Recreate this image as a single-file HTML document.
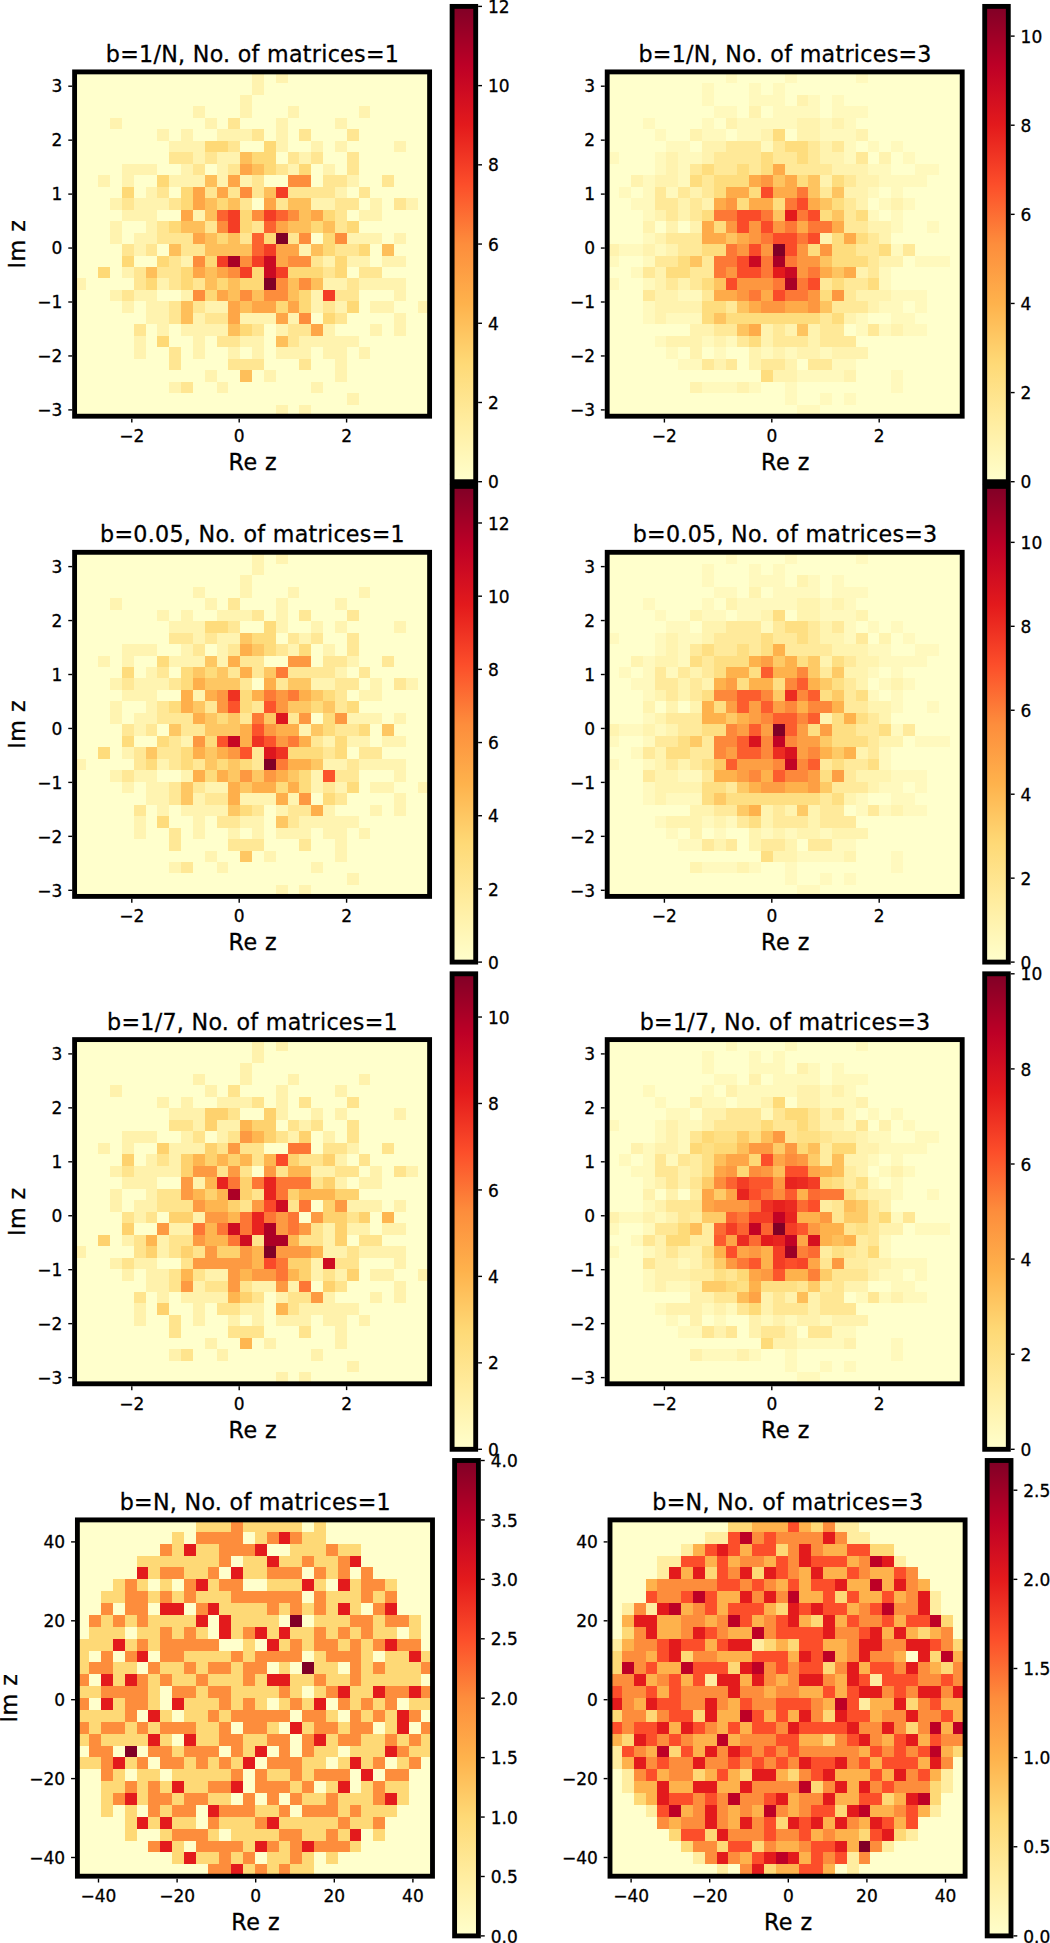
<!DOCTYPE html>
<html><head><meta charset="utf-8"><title>Eigenvalue density heatmaps</title>
<style>html,body{margin:0;padding:0;background:#fff}body{width:1050px;height:1943px;overflow:hidden}svg{display:block}text{stroke:#000;stroke-width:0.3px}</style></head>
<body>
<svg width="1050" height="1943" viewBox="0 0 1050 1943" font-family="'DejaVu Sans', 'Liberation Sans', sans-serif" fill="#000">
<defs><linearGradient id="g" x1="0" y1="1" x2="0" y2="0"><stop offset="0.0" stop-color="#ffffcc"/><stop offset="0.125" stop-color="#ffeda0"/><stop offset="0.25" stop-color="#fed976"/><stop offset="0.375" stop-color="#feb24c"/><stop offset="0.5" stop-color="#fd8d3c"/><stop offset="0.625" stop-color="#fc4e2a"/><stop offset="0.75" stop-color="#e31a1c"/><stop offset="0.875" stop-color="#bd0026"/><stop offset="1.0" stop-color="#800026"/></linearGradient></defs>
<g shape-rendering="crispEdges">
<rect x="74.6" y="71.9" width="355" height="344.3" fill="#ffffcc"/>
<rect x="252.1" y="71.9" width="11.83" height="11.48" fill="#fff3af"/>
<rect x="275.77" y="71.9" width="11.83" height="11.48" fill="#fff3af"/>
<rect x="252.1" y="83.38" width="11.83" height="11.48" fill="#fff3af"/>
<rect x="240.27" y="94.85" width="11.83" height="11.48" fill="#fff3af"/>
<rect x="192.93" y="106.33" width="11.83" height="11.48" fill="#fff3af"/>
<rect x="240.27" y="106.33" width="11.83" height="11.48" fill="#fff3af"/>
<rect x="287.6" y="106.33" width="11.83" height="11.48" fill="#fff3af"/>
<rect x="358.6" y="106.33" width="11.83" height="11.48" fill="#fff3af"/>
<rect x="110.1" y="117.81" width="11.83" height="11.48" fill="#fff3af"/>
<rect x="204.77" y="117.81" width="11.83" height="11.48" fill="#fff3af"/>
<rect x="228.43" y="117.81" width="11.83" height="11.48" fill="#ffe692"/>
<rect x="275.77" y="117.81" width="11.83" height="11.48" fill="#fff3af"/>
<rect x="334.93" y="117.81" width="11.83" height="11.48" fill="#fff3af"/>
<rect x="157.43" y="129.28" width="11.83" height="11.48" fill="#fff3af"/>
<rect x="181.1" y="129.28" width="11.83" height="11.48" fill="#fff3af"/>
<rect x="216.6" y="129.28" width="35.5" height="11.48" fill="#fff3af"/>
<rect x="252.1" y="129.28" width="11.83" height="11.48" fill="#ffe692"/>
<rect x="275.77" y="129.28" width="11.83" height="11.48" fill="#fff3af"/>
<rect x="299.43" y="129.28" width="11.83" height="11.48" fill="#ffe692"/>
<rect x="346.77" y="129.28" width="11.83" height="11.48" fill="#ffe692"/>
<rect x="169.27" y="140.76" width="35.5" height="11.48" fill="#fff3af"/>
<rect x="204.77" y="140.76" width="23.67" height="11.48" fill="#fed976"/>
<rect x="228.43" y="140.76" width="11.83" height="11.48" fill="#ffe692"/>
<rect x="263.93" y="140.76" width="11.83" height="11.48" fill="#fed976"/>
<rect x="275.77" y="140.76" width="11.83" height="11.48" fill="#fff3af"/>
<rect x="311.27" y="140.76" width="11.83" height="11.48" fill="#fff3af"/>
<rect x="334.93" y="140.76" width="11.83" height="11.48" fill="#fff3af"/>
<rect x="394.1" y="140.76" width="11.83" height="11.48" fill="#fff3af"/>
<rect x="169.27" y="152.24" width="23.67" height="11.48" fill="#ffe692"/>
<rect x="192.93" y="152.24" width="11.83" height="11.48" fill="#fff3af"/>
<rect x="204.77" y="152.24" width="11.83" height="11.48" fill="#ffe692"/>
<rect x="216.6" y="152.24" width="23.67" height="11.48" fill="#fff3af"/>
<rect x="240.27" y="152.24" width="11.83" height="11.48" fill="#febf5a"/>
<rect x="252.1" y="152.24" width="23.67" height="11.48" fill="#fed976"/>
<rect x="287.6" y="152.24" width="11.83" height="11.48" fill="#ffe692"/>
<rect x="299.43" y="152.24" width="11.83" height="11.48" fill="#fff3af"/>
<rect x="311.27" y="152.24" width="11.83" height="11.48" fill="#ffe692"/>
<rect x="346.77" y="152.24" width="11.83" height="11.48" fill="#ffe692"/>
<rect x="121.93" y="163.71" width="35.5" height="11.48" fill="#fff3af"/>
<rect x="181.1" y="163.71" width="11.83" height="11.48" fill="#fff3af"/>
<rect x="192.93" y="163.71" width="11.83" height="11.48" fill="#ffe692"/>
<rect x="216.6" y="163.71" width="11.83" height="11.48" fill="#fff3af"/>
<rect x="228.43" y="163.71" width="11.83" height="11.48" fill="#ffe692"/>
<rect x="240.27" y="163.71" width="11.83" height="11.48" fill="#fea647"/>
<rect x="252.1" y="163.71" width="11.83" height="11.48" fill="#febf5a"/>
<rect x="263.93" y="163.71" width="11.83" height="11.48" fill="#fed976"/>
<rect x="275.77" y="163.71" width="11.83" height="11.48" fill="#ffe692"/>
<rect x="287.6" y="163.71" width="11.83" height="11.48" fill="#fff3af"/>
<rect x="299.43" y="163.71" width="11.83" height="11.48" fill="#fed976"/>
<rect x="323.1" y="163.71" width="11.83" height="11.48" fill="#fff3af"/>
<rect x="346.77" y="163.71" width="11.83" height="11.48" fill="#ffe692"/>
<rect x="98.27" y="175.19" width="11.83" height="11.48" fill="#fff3af"/>
<rect x="121.93" y="175.19" width="11.83" height="11.48" fill="#fff3af"/>
<rect x="157.43" y="175.19" width="11.83" height="11.48" fill="#fed976"/>
<rect x="169.27" y="175.19" width="35.5" height="11.48" fill="#fff3af"/>
<rect x="204.77" y="175.19" width="11.83" height="11.48" fill="#febf5a"/>
<rect x="216.6" y="175.19" width="11.83" height="11.48" fill="#fff3af"/>
<rect x="228.43" y="175.19" width="11.83" height="11.48" fill="#fea647"/>
<rect x="240.27" y="175.19" width="11.83" height="11.48" fill="#fff3af"/>
<rect x="252.1" y="175.19" width="11.83" height="11.48" fill="#ffe692"/>
<rect x="287.6" y="175.19" width="23.67" height="11.48" fill="#fd8d3c"/>
<rect x="323.1" y="175.19" width="23.67" height="11.48" fill="#ffe692"/>
<rect x="346.77" y="175.19" width="11.83" height="11.48" fill="#fff3af"/>
<rect x="382.27" y="175.19" width="11.83" height="11.48" fill="#ffe692"/>
<rect x="121.93" y="186.67" width="11.83" height="11.48" fill="#fed976"/>
<rect x="145.6" y="186.67" width="11.83" height="11.48" fill="#fff3af"/>
<rect x="157.43" y="186.67" width="11.83" height="11.48" fill="#ffe692"/>
<rect x="181.1" y="186.67" width="11.83" height="11.48" fill="#fed976"/>
<rect x="192.93" y="186.67" width="11.83" height="11.48" fill="#fea647"/>
<rect x="204.77" y="186.67" width="11.83" height="11.48" fill="#ffe692"/>
<rect x="216.6" y="186.67" width="11.83" height="11.48" fill="#fea647"/>
<rect x="228.43" y="186.67" width="11.83" height="11.48" fill="#ffe692"/>
<rect x="240.27" y="186.67" width="11.83" height="11.48" fill="#fd8d3c"/>
<rect x="252.1" y="186.67" width="11.83" height="11.48" fill="#ffe692"/>
<rect x="263.93" y="186.67" width="11.83" height="11.48" fill="#febf5a"/>
<rect x="275.77" y="186.67" width="11.83" height="11.48" fill="#f43d25"/>
<rect x="287.6" y="186.67" width="47.33" height="11.48" fill="#ffe692"/>
<rect x="334.93" y="186.67" width="11.83" height="11.48" fill="#fff3af"/>
<rect x="358.6" y="186.67" width="11.83" height="11.48" fill="#ffe692"/>
<rect x="110.1" y="198.14" width="11.83" height="11.48" fill="#fff3af"/>
<rect x="121.93" y="198.14" width="11.83" height="11.48" fill="#ffe692"/>
<rect x="133.77" y="198.14" width="35.5" height="11.48" fill="#fff3af"/>
<rect x="169.27" y="198.14" width="11.83" height="11.48" fill="#ffe692"/>
<rect x="181.1" y="198.14" width="11.83" height="11.48" fill="#fed976"/>
<rect x="192.93" y="198.14" width="11.83" height="11.48" fill="#fea647"/>
<rect x="204.77" y="198.14" width="11.83" height="11.48" fill="#febf5a"/>
<rect x="216.6" y="198.14" width="11.83" height="11.48" fill="#fed976"/>
<rect x="228.43" y="198.14" width="11.83" height="11.48" fill="#febf5a"/>
<rect x="240.27" y="198.14" width="11.83" height="11.48" fill="#ffe692"/>
<rect x="263.93" y="198.14" width="11.83" height="11.48" fill="#fea647"/>
<rect x="275.77" y="198.14" width="11.83" height="11.48" fill="#ffe692"/>
<rect x="287.6" y="198.14" width="23.67" height="11.48" fill="#febf5a"/>
<rect x="311.27" y="198.14" width="23.67" height="11.48" fill="#fff3af"/>
<rect x="334.93" y="198.14" width="23.67" height="11.48" fill="#ffe692"/>
<rect x="370.43" y="198.14" width="11.83" height="11.48" fill="#fff3af"/>
<rect x="394.1" y="198.14" width="11.83" height="11.48" fill="#ffe692"/>
<rect x="405.93" y="198.14" width="11.83" height="11.48" fill="#fff3af"/>
<rect x="121.93" y="209.62" width="35.5" height="11.48" fill="#fff3af"/>
<rect x="181.1" y="209.62" width="11.83" height="11.48" fill="#fea647"/>
<rect x="192.93" y="209.62" width="11.83" height="11.48" fill="#fff3af"/>
<rect x="204.77" y="209.62" width="11.83" height="11.48" fill="#febf5a"/>
<rect x="216.6" y="209.62" width="11.83" height="11.48" fill="#fc6330"/>
<rect x="228.43" y="209.62" width="11.83" height="11.48" fill="#f43d25"/>
<rect x="240.27" y="209.62" width="11.83" height="11.48" fill="#fed976"/>
<rect x="252.1" y="209.62" width="11.83" height="11.48" fill="#fd8d3c"/>
<rect x="263.93" y="209.62" width="11.83" height="11.48" fill="#f43d25"/>
<rect x="275.77" y="209.62" width="11.83" height="11.48" fill="#fc6330"/>
<rect x="287.6" y="209.62" width="11.83" height="11.48" fill="#fd8d3c"/>
<rect x="299.43" y="209.62" width="11.83" height="11.48" fill="#febf5a"/>
<rect x="311.27" y="209.62" width="11.83" height="11.48" fill="#fea647"/>
<rect x="323.1" y="209.62" width="11.83" height="11.48" fill="#fed976"/>
<rect x="334.93" y="209.62" width="11.83" height="11.48" fill="#ffe692"/>
<rect x="358.6" y="209.62" width="23.67" height="11.48" fill="#fff3af"/>
<rect x="110.1" y="221.1" width="11.83" height="11.48" fill="#fff3af"/>
<rect x="145.6" y="221.1" width="11.83" height="11.48" fill="#fff3af"/>
<rect x="157.43" y="221.1" width="11.83" height="11.48" fill="#ffe692"/>
<rect x="169.27" y="221.1" width="11.83" height="11.48" fill="#fed976"/>
<rect x="181.1" y="221.1" width="23.67" height="11.48" fill="#febf5a"/>
<rect x="204.77" y="221.1" width="11.83" height="11.48" fill="#ffe692"/>
<rect x="216.6" y="221.1" width="11.83" height="11.48" fill="#fd8d3c"/>
<rect x="228.43" y="221.1" width="11.83" height="11.48" fill="#f43d25"/>
<rect x="240.27" y="221.1" width="11.83" height="11.48" fill="#fed976"/>
<rect x="252.1" y="221.1" width="11.83" height="11.48" fill="#ffe692"/>
<rect x="263.93" y="221.1" width="11.83" height="11.48" fill="#fc6330"/>
<rect x="275.77" y="221.1" width="11.83" height="11.48" fill="#fea647"/>
<rect x="287.6" y="221.1" width="23.67" height="11.48" fill="#febf5a"/>
<rect x="311.27" y="221.1" width="11.83" height="11.48" fill="#fed976"/>
<rect x="323.1" y="221.1" width="11.83" height="11.48" fill="#febf5a"/>
<rect x="334.93" y="221.1" width="11.83" height="11.48" fill="#ffe692"/>
<rect x="346.77" y="221.1" width="11.83" height="11.48" fill="#fed976"/>
<rect x="110.1" y="232.57" width="11.83" height="11.48" fill="#fff3af"/>
<rect x="133.77" y="232.57" width="23.67" height="11.48" fill="#fff3af"/>
<rect x="157.43" y="232.57" width="35.5" height="11.48" fill="#ffe692"/>
<rect x="192.93" y="232.57" width="11.83" height="11.48" fill="#fea647"/>
<rect x="204.77" y="232.57" width="11.83" height="11.48" fill="#febf5a"/>
<rect x="216.6" y="232.57" width="11.83" height="11.48" fill="#fed976"/>
<rect x="228.43" y="232.57" width="11.83" height="11.48" fill="#febf5a"/>
<rect x="240.27" y="232.57" width="11.83" height="11.48" fill="#ffe692"/>
<rect x="252.1" y="232.57" width="11.83" height="11.48" fill="#fc6330"/>
<rect x="263.93" y="232.57" width="11.83" height="11.48" fill="#fed976"/>
<rect x="275.77" y="232.57" width="11.83" height="11.48" fill="#800026"/>
<rect x="287.6" y="232.57" width="11.83" height="11.48" fill="#ffe692"/>
<rect x="299.43" y="232.57" width="11.83" height="11.48" fill="#fd8d3c"/>
<rect x="323.1" y="232.57" width="11.83" height="11.48" fill="#fed976"/>
<rect x="334.93" y="232.57" width="11.83" height="11.48" fill="#fd8d3c"/>
<rect x="346.77" y="232.57" width="35.5" height="11.48" fill="#fff3af"/>
<rect x="394.1" y="232.57" width="11.83" height="11.48" fill="#fff3af"/>
<rect x="121.93" y="244.05" width="11.83" height="11.48" fill="#ffe692"/>
<rect x="133.77" y="244.05" width="11.83" height="11.48" fill="#fff3af"/>
<rect x="145.6" y="244.05" width="11.83" height="11.48" fill="#ffe692"/>
<rect x="169.27" y="244.05" width="11.83" height="11.48" fill="#febf5a"/>
<rect x="181.1" y="244.05" width="23.67" height="11.48" fill="#ffe692"/>
<rect x="204.77" y="244.05" width="47.33" height="11.48" fill="#febf5a"/>
<rect x="252.1" y="244.05" width="11.83" height="11.48" fill="#fc6330"/>
<rect x="263.93" y="244.05" width="11.83" height="11.48" fill="#f43d25"/>
<rect x="275.77" y="244.05" width="23.67" height="11.48" fill="#fea647"/>
<rect x="299.43" y="244.05" width="11.83" height="11.48" fill="#fff3af"/>
<rect x="311.27" y="244.05" width="11.83" height="11.48" fill="#febf5a"/>
<rect x="323.1" y="244.05" width="11.83" height="11.48" fill="#fed976"/>
<rect x="334.93" y="244.05" width="23.67" height="11.48" fill="#ffe692"/>
<rect x="358.6" y="244.05" width="11.83" height="11.48" fill="#fed976"/>
<rect x="382.27" y="244.05" width="11.83" height="11.48" fill="#febf5a"/>
<rect x="121.93" y="255.53" width="11.83" height="11.48" fill="#fed976"/>
<rect x="157.43" y="255.53" width="11.83" height="11.48" fill="#fed976"/>
<rect x="169.27" y="255.53" width="11.83" height="11.48" fill="#ffe692"/>
<rect x="181.1" y="255.53" width="11.83" height="11.48" fill="#fff3af"/>
<rect x="192.93" y="255.53" width="11.83" height="11.48" fill="#fd8d3c"/>
<rect x="204.77" y="255.53" width="11.83" height="11.48" fill="#fed976"/>
<rect x="216.6" y="255.53" width="11.83" height="11.48" fill="#f43d25"/>
<rect x="228.43" y="255.53" width="11.83" height="11.48" fill="#a90026"/>
<rect x="240.27" y="255.53" width="11.83" height="11.48" fill="#fd8d3c"/>
<rect x="252.1" y="255.53" width="11.83" height="11.48" fill="#f43d25"/>
<rect x="263.93" y="255.53" width="11.83" height="11.48" fill="#ca0923"/>
<rect x="275.77" y="255.53" width="11.83" height="11.48" fill="#fea647"/>
<rect x="287.6" y="255.53" width="23.67" height="11.48" fill="#fd8d3c"/>
<rect x="311.27" y="255.53" width="11.83" height="11.48" fill="#ffe692"/>
<rect x="323.1" y="255.53" width="11.83" height="11.48" fill="#fff3af"/>
<rect x="334.93" y="255.53" width="11.83" height="11.48" fill="#fed976"/>
<rect x="346.77" y="255.53" width="23.67" height="11.48" fill="#fff3af"/>
<rect x="382.27" y="255.53" width="23.67" height="11.48" fill="#fff3af"/>
<rect x="98.27" y="267" width="11.83" height="11.48" fill="#fed976"/>
<rect x="121.93" y="267" width="11.83" height="11.48" fill="#fff3af"/>
<rect x="133.77" y="267" width="11.83" height="11.48" fill="#ffe692"/>
<rect x="145.6" y="267" width="11.83" height="11.48" fill="#febf5a"/>
<rect x="157.43" y="267" width="23.67" height="11.48" fill="#ffe692"/>
<rect x="181.1" y="267" width="11.83" height="11.48" fill="#fed976"/>
<rect x="192.93" y="267" width="11.83" height="11.48" fill="#fea647"/>
<rect x="204.77" y="267" width="11.83" height="11.48" fill="#febf5a"/>
<rect x="216.6" y="267" width="11.83" height="11.48" fill="#fea647"/>
<rect x="228.43" y="267" width="11.83" height="11.48" fill="#fd8d3c"/>
<rect x="240.27" y="267" width="11.83" height="11.48" fill="#f43d25"/>
<rect x="252.1" y="267" width="11.83" height="11.48" fill="#fed976"/>
<rect x="263.93" y="267" width="11.83" height="11.48" fill="#ca0923"/>
<rect x="275.77" y="267" width="11.83" height="11.48" fill="#f43d25"/>
<rect x="287.6" y="267" width="35.5" height="11.48" fill="#fed976"/>
<rect x="323.1" y="267" width="11.83" height="11.48" fill="#ffe692"/>
<rect x="334.93" y="267" width="11.83" height="11.48" fill="#fed976"/>
<rect x="358.6" y="267" width="23.67" height="11.48" fill="#ffe692"/>
<rect x="74.6" y="278.48" width="11.83" height="11.48" fill="#fff3af"/>
<rect x="133.77" y="278.48" width="11.83" height="11.48" fill="#ffe692"/>
<rect x="145.6" y="278.48" width="11.83" height="11.48" fill="#fed976"/>
<rect x="157.43" y="278.48" width="11.83" height="11.48" fill="#fff3af"/>
<rect x="169.27" y="278.48" width="11.83" height="11.48" fill="#ffe692"/>
<rect x="181.1" y="278.48" width="11.83" height="11.48" fill="#fed976"/>
<rect x="192.93" y="278.48" width="11.83" height="11.48" fill="#ffe692"/>
<rect x="204.77" y="278.48" width="11.83" height="11.48" fill="#febf5a"/>
<rect x="216.6" y="278.48" width="11.83" height="11.48" fill="#fed976"/>
<rect x="228.43" y="278.48" width="11.83" height="11.48" fill="#febf5a"/>
<rect x="240.27" y="278.48" width="23.67" height="11.48" fill="#fed976"/>
<rect x="263.93" y="278.48" width="11.83" height="11.48" fill="#800026"/>
<rect x="275.77" y="278.48" width="11.83" height="11.48" fill="#fd8d3c"/>
<rect x="287.6" y="278.48" width="11.83" height="11.48" fill="#febf5a"/>
<rect x="299.43" y="278.48" width="11.83" height="11.48" fill="#fd8d3c"/>
<rect x="311.27" y="278.48" width="11.83" height="11.48" fill="#febf5a"/>
<rect x="323.1" y="278.48" width="23.67" height="11.48" fill="#fff3af"/>
<rect x="346.77" y="278.48" width="11.83" height="11.48" fill="#ffe692"/>
<rect x="358.6" y="278.48" width="47.33" height="11.48" fill="#fff3af"/>
<rect x="110.1" y="289.96" width="11.83" height="11.48" fill="#fff3af"/>
<rect x="121.93" y="289.96" width="11.83" height="11.48" fill="#ffe692"/>
<rect x="133.77" y="289.96" width="23.67" height="11.48" fill="#fff3af"/>
<rect x="181.1" y="289.96" width="11.83" height="11.48" fill="#fff3af"/>
<rect x="192.93" y="289.96" width="11.83" height="11.48" fill="#fd8d3c"/>
<rect x="204.77" y="289.96" width="11.83" height="11.48" fill="#fed976"/>
<rect x="216.6" y="289.96" width="11.83" height="11.48" fill="#fea647"/>
<rect x="228.43" y="289.96" width="11.83" height="11.48" fill="#febf5a"/>
<rect x="240.27" y="289.96" width="11.83" height="11.48" fill="#fd8d3c"/>
<rect x="252.1" y="289.96" width="11.83" height="11.48" fill="#febf5a"/>
<rect x="263.93" y="289.96" width="23.67" height="11.48" fill="#fd8d3c"/>
<rect x="287.6" y="289.96" width="11.83" height="11.48" fill="#febf5a"/>
<rect x="299.43" y="289.96" width="11.83" height="11.48" fill="#fed976"/>
<rect x="311.27" y="289.96" width="11.83" height="11.48" fill="#fff3af"/>
<rect x="323.1" y="289.96" width="11.83" height="11.48" fill="#f43d25"/>
<rect x="334.93" y="289.96" width="23.67" height="11.48" fill="#ffe692"/>
<rect x="394.1" y="289.96" width="11.83" height="11.48" fill="#fff3af"/>
<rect x="121.93" y="301.43" width="11.83" height="11.48" fill="#fff3af"/>
<rect x="145.6" y="301.43" width="23.67" height="11.48" fill="#fff3af"/>
<rect x="169.27" y="301.43" width="11.83" height="11.48" fill="#ffe692"/>
<rect x="181.1" y="301.43" width="11.83" height="11.48" fill="#febf5a"/>
<rect x="192.93" y="301.43" width="11.83" height="11.48" fill="#ffe692"/>
<rect x="204.77" y="301.43" width="23.67" height="11.48" fill="#fff3af"/>
<rect x="228.43" y="301.43" width="11.83" height="11.48" fill="#fea647"/>
<rect x="240.27" y="301.43" width="11.83" height="11.48" fill="#febf5a"/>
<rect x="252.1" y="301.43" width="23.67" height="11.48" fill="#fea647"/>
<rect x="275.77" y="301.43" width="11.83" height="11.48" fill="#fed976"/>
<rect x="287.6" y="301.43" width="11.83" height="11.48" fill="#fea647"/>
<rect x="299.43" y="301.43" width="11.83" height="11.48" fill="#fed976"/>
<rect x="311.27" y="301.43" width="11.83" height="11.48" fill="#fff3af"/>
<rect x="323.1" y="301.43" width="11.83" height="11.48" fill="#ffe692"/>
<rect x="334.93" y="301.43" width="11.83" height="11.48" fill="#fff3af"/>
<rect x="346.77" y="301.43" width="11.83" height="11.48" fill="#fed976"/>
<rect x="370.43" y="301.43" width="23.67" height="11.48" fill="#fff3af"/>
<rect x="417.77" y="301.43" width="11.83" height="11.48" fill="#fff3af"/>
<rect x="145.6" y="312.91" width="23.67" height="11.48" fill="#fff3af"/>
<rect x="169.27" y="312.91" width="11.83" height="11.48" fill="#ffe692"/>
<rect x="181.1" y="312.91" width="11.83" height="11.48" fill="#febf5a"/>
<rect x="192.93" y="312.91" width="11.83" height="11.48" fill="#fff3af"/>
<rect x="204.77" y="312.91" width="23.67" height="11.48" fill="#ffe692"/>
<rect x="228.43" y="312.91" width="11.83" height="11.48" fill="#fea647"/>
<rect x="240.27" y="312.91" width="35.5" height="11.48" fill="#fff3af"/>
<rect x="275.77" y="312.91" width="11.83" height="11.48" fill="#fea647"/>
<rect x="287.6" y="312.91" width="11.83" height="11.48" fill="#fff3af"/>
<rect x="299.43" y="312.91" width="11.83" height="11.48" fill="#fd8d3c"/>
<rect x="323.1" y="312.91" width="11.83" height="11.48" fill="#fed976"/>
<rect x="334.93" y="312.91" width="11.83" height="11.48" fill="#ffe692"/>
<rect x="394.1" y="312.91" width="11.83" height="11.48" fill="#fff3af"/>
<rect x="133.77" y="324.39" width="11.83" height="11.48" fill="#ffe692"/>
<rect x="157.43" y="324.39" width="11.83" height="11.48" fill="#fff3af"/>
<rect x="181.1" y="324.39" width="47.33" height="11.48" fill="#fff3af"/>
<rect x="228.43" y="324.39" width="11.83" height="11.48" fill="#febf5a"/>
<rect x="240.27" y="324.39" width="11.83" height="11.48" fill="#fed976"/>
<rect x="252.1" y="324.39" width="11.83" height="11.48" fill="#ffe692"/>
<rect x="275.77" y="324.39" width="11.83" height="11.48" fill="#fff3af"/>
<rect x="287.6" y="324.39" width="23.67" height="11.48" fill="#ffe692"/>
<rect x="311.27" y="324.39" width="11.83" height="11.48" fill="#fea647"/>
<rect x="323.1" y="324.39" width="11.83" height="11.48" fill="#fff3af"/>
<rect x="370.43" y="324.39" width="11.83" height="11.48" fill="#fff3af"/>
<rect x="394.1" y="324.39" width="11.83" height="11.48" fill="#fff3af"/>
<rect x="133.77" y="335.86" width="11.83" height="11.48" fill="#fff3af"/>
<rect x="157.43" y="335.86" width="11.83" height="11.48" fill="#fed976"/>
<rect x="192.93" y="335.86" width="11.83" height="11.48" fill="#fff3af"/>
<rect x="216.6" y="335.86" width="23.67" height="11.48" fill="#ffe692"/>
<rect x="240.27" y="335.86" width="23.67" height="11.48" fill="#fff3af"/>
<rect x="275.77" y="335.86" width="11.83" height="11.48" fill="#febf5a"/>
<rect x="287.6" y="335.86" width="11.83" height="11.48" fill="#ffe692"/>
<rect x="299.43" y="335.86" width="59.17" height="11.48" fill="#fff3af"/>
<rect x="133.77" y="347.34" width="11.83" height="11.48" fill="#fff3af"/>
<rect x="169.27" y="347.34" width="11.83" height="11.48" fill="#ffe692"/>
<rect x="192.93" y="347.34" width="11.83" height="11.48" fill="#fff3af"/>
<rect x="228.43" y="347.34" width="11.83" height="11.48" fill="#fff3af"/>
<rect x="252.1" y="347.34" width="11.83" height="11.48" fill="#fff3af"/>
<rect x="275.77" y="347.34" width="35.5" height="11.48" fill="#fff3af"/>
<rect x="323.1" y="347.34" width="23.67" height="11.48" fill="#fff3af"/>
<rect x="358.6" y="347.34" width="11.83" height="11.48" fill="#fff3af"/>
<rect x="169.27" y="358.82" width="11.83" height="11.48" fill="#ffe692"/>
<rect x="228.43" y="358.82" width="35.5" height="11.48" fill="#ffe692"/>
<rect x="299.43" y="358.82" width="11.83" height="11.48" fill="#ffe692"/>
<rect x="334.93" y="358.82" width="11.83" height="11.48" fill="#fff3af"/>
<rect x="204.77" y="370.29" width="11.83" height="11.48" fill="#fff3af"/>
<rect x="240.27" y="370.29" width="11.83" height="11.48" fill="#febf5a"/>
<rect x="263.93" y="370.29" width="11.83" height="11.48" fill="#fff3af"/>
<rect x="334.93" y="370.29" width="11.83" height="11.48" fill="#fff3af"/>
<rect x="169.27" y="381.77" width="11.83" height="11.48" fill="#fff3af"/>
<rect x="181.1" y="381.77" width="11.83" height="11.48" fill="#ffe692"/>
<rect x="216.6" y="381.77" width="11.83" height="11.48" fill="#fff3af"/>
<rect x="311.27" y="381.77" width="11.83" height="11.48" fill="#fff3af"/>
<rect x="346.77" y="393.25" width="11.83" height="11.48" fill="#fff3af"/>
<rect x="275.77" y="404.72" width="11.83" height="11.48" fill="#fff3af"/>
<rect x="299.43" y="404.72" width="11.83" height="11.48" fill="#fff3af"/>
</g>
<rect x="74.6" y="71.9" width="355" height="344.3" fill="none" stroke="#000" stroke-width="4.86"/>
<line x1="131.8" x2="131.8" y1="418.63" y2="422.53" stroke="#000" stroke-width="1.4"/>
<text x="131.8" y="442" font-size="17.0" text-anchor="middle">−2</text>
<line x1="239.2" x2="239.2" y1="418.63" y2="422.53" stroke="#000" stroke-width="1.4"/>
<text x="239.2" y="442" font-size="17.0" text-anchor="middle">0</text>
<line x1="346.6" x2="346.6" y1="418.63" y2="422.53" stroke="#000" stroke-width="1.4"/>
<text x="346.6" y="442" font-size="17.0" text-anchor="middle">2</text>
<line x1="68.27" x2="72.17" y1="86.2" y2="86.2" stroke="#000" stroke-width="1.4"/>
<text x="62.4" y="92.4" font-size="17.0" text-anchor="end">3</text>
<line x1="68.27" x2="72.17" y1="140.15" y2="140.15" stroke="#000" stroke-width="1.4"/>
<text x="62.4" y="146.35" font-size="17.0" text-anchor="end">2</text>
<line x1="68.27" x2="72.17" y1="194.1" y2="194.1" stroke="#000" stroke-width="1.4"/>
<text x="62.4" y="200.3" font-size="17.0" text-anchor="end">1</text>
<line x1="68.27" x2="72.17" y1="248.05" y2="248.05" stroke="#000" stroke-width="1.4"/>
<text x="62.4" y="254.25" font-size="17.0" text-anchor="end">0</text>
<line x1="68.27" x2="72.17" y1="302" y2="302" stroke="#000" stroke-width="1.4"/>
<text x="62.4" y="308.2" font-size="17.0" text-anchor="end">−1</text>
<line x1="68.27" x2="72.17" y1="355.95" y2="355.95" stroke="#000" stroke-width="1.4"/>
<text x="62.4" y="362.15" font-size="17.0" text-anchor="end">−2</text>
<line x1="68.27" x2="72.17" y1="409.9" y2="409.9" stroke="#000" stroke-width="1.4"/>
<text x="62.4" y="416.1" font-size="17.0" text-anchor="end">−3</text>
<text x="252.5" y="61.9" font-size="22.2" letter-spacing="0.28" text-anchor="middle">b=1/N, No. of matrices=1</text>
<text x="252.9" y="469.9" font-size="22.2" letter-spacing="0.5" text-anchor="middle">Re z</text>
<text transform="translate(24.9,244.05) rotate(-90)" font-size="22.2" letter-spacing="0.5" text-anchor="middle">Im z</text>
<rect x="452.1" y="6.4" width="23.6" height="475.3" fill="url(#g)" stroke="#000" stroke-width="4.86"/>
<line x1="478.13" x2="482.03" y1="481.7" y2="481.7" stroke="#000" stroke-width="1.4"/>
<text x="488" y="488.3" font-size="17.0">0</text>
<line x1="478.13" x2="482.03" y1="402.48" y2="402.48" stroke="#000" stroke-width="1.4"/>
<text x="488" y="409.08" font-size="17.0">2</text>
<line x1="478.13" x2="482.03" y1="323.27" y2="323.27" stroke="#000" stroke-width="1.4"/>
<text x="488" y="329.87" font-size="17.0">4</text>
<line x1="478.13" x2="482.03" y1="244.05" y2="244.05" stroke="#000" stroke-width="1.4"/>
<text x="488" y="250.65" font-size="17.0">6</text>
<line x1="478.13" x2="482.03" y1="164.83" y2="164.83" stroke="#000" stroke-width="1.4"/>
<text x="488" y="171.43" font-size="17.0">8</text>
<line x1="478.13" x2="482.03" y1="85.62" y2="85.62" stroke="#000" stroke-width="1.4"/>
<text x="488" y="92.22" font-size="17.0">10</text>
<line x1="478.13" x2="482.03" y1="6.4" y2="6.4" stroke="#000" stroke-width="1.4"/>
<text x="488" y="13" font-size="17.0">12</text>
<g shape-rendering="crispEdges">
<rect x="607.2" y="71.9" width="355" height="344.3" fill="#ffffcc"/>
<rect x="725.53" y="71.9" width="11.83" height="11.48" fill="#fff9bd"/>
<rect x="784.7" y="71.9" width="11.83" height="11.48" fill="#fff9bd"/>
<rect x="855.7" y="71.9" width="11.83" height="11.48" fill="#fff9bd"/>
<rect x="701.87" y="83.38" width="11.83" height="11.48" fill="#fff9bd"/>
<rect x="749.2" y="83.38" width="11.83" height="11.48" fill="#fff9bd"/>
<rect x="772.87" y="83.38" width="11.83" height="11.48" fill="#fff9bd"/>
<rect x="701.87" y="94.85" width="11.83" height="11.48" fill="#fff9bd"/>
<rect x="749.2" y="94.85" width="35.5" height="11.48" fill="#fff9bd"/>
<rect x="796.53" y="94.85" width="11.83" height="11.48" fill="#fff3af"/>
<rect x="808.37" y="94.85" width="11.83" height="11.48" fill="#fff9bd"/>
<rect x="832.03" y="94.85" width="11.83" height="11.48" fill="#fff9bd"/>
<rect x="713.7" y="106.33" width="23.67" height="11.48" fill="#fff9bd"/>
<rect x="749.2" y="106.33" width="11.83" height="11.48" fill="#fff3af"/>
<rect x="772.87" y="106.33" width="47.33" height="11.48" fill="#fff9bd"/>
<rect x="832.03" y="106.33" width="35.5" height="11.48" fill="#fff9bd"/>
<rect x="642.7" y="117.81" width="11.83" height="11.48" fill="#fff9bd"/>
<rect x="701.87" y="117.81" width="11.83" height="11.48" fill="#fff9bd"/>
<rect x="725.53" y="117.81" width="11.83" height="11.48" fill="#fff3af"/>
<rect x="737.37" y="117.81" width="59.17" height="11.48" fill="#fff9bd"/>
<rect x="796.53" y="117.81" width="23.67" height="11.48" fill="#fff3af"/>
<rect x="820.2" y="117.81" width="11.83" height="11.48" fill="#fff9bd"/>
<rect x="832.03" y="117.81" width="11.83" height="11.48" fill="#fff3af"/>
<rect x="843.87" y="117.81" width="11.83" height="11.48" fill="#fff9bd"/>
<rect x="654.53" y="129.28" width="11.83" height="11.48" fill="#fff9bd"/>
<rect x="690.03" y="129.28" width="11.83" height="11.48" fill="#fff3af"/>
<rect x="701.87" y="129.28" width="23.67" height="11.48" fill="#fff9bd"/>
<rect x="737.37" y="129.28" width="23.67" height="11.48" fill="#fff9bd"/>
<rect x="761.03" y="129.28" width="11.83" height="11.48" fill="#fff3af"/>
<rect x="772.87" y="129.28" width="11.83" height="11.48" fill="#fedd7e"/>
<rect x="796.53" y="129.28" width="23.67" height="11.48" fill="#fff3af"/>
<rect x="820.2" y="129.28" width="35.5" height="11.48" fill="#fff9bd"/>
<rect x="855.7" y="129.28" width="11.83" height="11.48" fill="#fff3af"/>
<rect x="666.37" y="140.76" width="23.67" height="11.48" fill="#fff9bd"/>
<rect x="701.87" y="140.76" width="23.67" height="11.48" fill="#fff3af"/>
<rect x="725.53" y="140.76" width="35.5" height="11.48" fill="#ffe998"/>
<rect x="761.03" y="140.76" width="11.83" height="11.48" fill="#fff9bd"/>
<rect x="772.87" y="140.76" width="11.83" height="11.48" fill="#ffe998"/>
<rect x="784.7" y="140.76" width="23.67" height="11.48" fill="#fedd7e"/>
<rect x="808.37" y="140.76" width="11.83" height="11.48" fill="#ffe998"/>
<rect x="820.2" y="140.76" width="11.83" height="11.48" fill="#fff3af"/>
<rect x="832.03" y="140.76" width="11.83" height="11.48" fill="#ffe998"/>
<rect x="843.87" y="140.76" width="11.83" height="11.48" fill="#fff9bd"/>
<rect x="867.53" y="140.76" width="11.83" height="11.48" fill="#fff9bd"/>
<rect x="891.2" y="140.76" width="11.83" height="11.48" fill="#fff9bd"/>
<rect x="607.2" y="152.24" width="11.83" height="11.48" fill="#fff9bd"/>
<rect x="654.53" y="152.24" width="11.83" height="11.48" fill="#fff9bd"/>
<rect x="666.37" y="152.24" width="11.83" height="11.48" fill="#fff3af"/>
<rect x="678.2" y="152.24" width="23.67" height="11.48" fill="#fff9bd"/>
<rect x="701.87" y="152.24" width="11.83" height="11.48" fill="#fff3af"/>
<rect x="713.7" y="152.24" width="47.33" height="11.48" fill="#ffe998"/>
<rect x="761.03" y="152.24" width="11.83" height="11.48" fill="#fedd7e"/>
<rect x="772.87" y="152.24" width="23.67" height="11.48" fill="#ffe998"/>
<rect x="796.53" y="152.24" width="11.83" height="11.48" fill="#fedd7e"/>
<rect x="808.37" y="152.24" width="11.83" height="11.48" fill="#ffe998"/>
<rect x="820.2" y="152.24" width="23.67" height="11.48" fill="#fff3af"/>
<rect x="843.87" y="152.24" width="11.83" height="11.48" fill="#fff9bd"/>
<rect x="855.7" y="152.24" width="11.83" height="11.48" fill="#ffe998"/>
<rect x="879.37" y="152.24" width="11.83" height="11.48" fill="#fff3af"/>
<rect x="903.03" y="152.24" width="11.83" height="11.48" fill="#fff9bd"/>
<rect x="654.53" y="163.71" width="11.83" height="11.48" fill="#fff9bd"/>
<rect x="666.37" y="163.71" width="11.83" height="11.48" fill="#fff3af"/>
<rect x="678.2" y="163.71" width="11.83" height="11.48" fill="#fff9bd"/>
<rect x="690.03" y="163.71" width="11.83" height="11.48" fill="#ffe998"/>
<rect x="701.87" y="163.71" width="11.83" height="11.48" fill="#fedd7e"/>
<rect x="713.7" y="163.71" width="23.67" height="11.48" fill="#ffe998"/>
<rect x="737.37" y="163.71" width="11.83" height="11.48" fill="#fedd7e"/>
<rect x="749.2" y="163.71" width="11.83" height="11.48" fill="#ffe998"/>
<rect x="761.03" y="163.71" width="11.83" height="11.48" fill="#fedd7e"/>
<rect x="772.87" y="163.71" width="11.83" height="11.48" fill="#feab49"/>
<rect x="784.7" y="163.71" width="47.33" height="11.48" fill="#ffe998"/>
<rect x="832.03" y="163.71" width="35.5" height="11.48" fill="#fff3af"/>
<rect x="867.53" y="163.71" width="23.67" height="11.48" fill="#fff9bd"/>
<rect x="914.87" y="163.71" width="23.67" height="11.48" fill="#fff9bd"/>
<rect x="630.87" y="175.19" width="11.83" height="11.48" fill="#fff3af"/>
<rect x="642.7" y="175.19" width="11.83" height="11.48" fill="#fff9bd"/>
<rect x="654.53" y="175.19" width="23.67" height="11.48" fill="#fff3af"/>
<rect x="678.2" y="175.19" width="11.83" height="11.48" fill="#fff9bd"/>
<rect x="690.03" y="175.19" width="11.83" height="11.48" fill="#fedd7e"/>
<rect x="701.87" y="175.19" width="11.83" height="11.48" fill="#ffe998"/>
<rect x="713.7" y="175.19" width="35.5" height="11.48" fill="#fedd7e"/>
<rect x="749.2" y="175.19" width="11.83" height="11.48" fill="#feab49"/>
<rect x="761.03" y="175.19" width="11.83" height="11.48" fill="#fd9740"/>
<rect x="772.87" y="175.19" width="11.83" height="11.48" fill="#fec460"/>
<rect x="784.7" y="175.19" width="11.83" height="11.48" fill="#feab49"/>
<rect x="796.53" y="175.19" width="11.83" height="11.48" fill="#fedd7e"/>
<rect x="808.37" y="175.19" width="11.83" height="11.48" fill="#fec460"/>
<rect x="820.2" y="175.19" width="11.83" height="11.48" fill="#fff3af"/>
<rect x="832.03" y="175.19" width="11.83" height="11.48" fill="#fedd7e"/>
<rect x="843.87" y="175.19" width="11.83" height="11.48" fill="#ffe998"/>
<rect x="855.7" y="175.19" width="23.67" height="11.48" fill="#fff3af"/>
<rect x="879.37" y="175.19" width="47.33" height="11.48" fill="#fff9bd"/>
<rect x="619.03" y="186.67" width="11.83" height="11.48" fill="#fff9bd"/>
<rect x="642.7" y="186.67" width="11.83" height="11.48" fill="#fff9bd"/>
<rect x="654.53" y="186.67" width="11.83" height="11.48" fill="#ffe998"/>
<rect x="666.37" y="186.67" width="11.83" height="11.48" fill="#fff9bd"/>
<rect x="678.2" y="186.67" width="11.83" height="11.48" fill="#ffe998"/>
<rect x="690.03" y="186.67" width="11.83" height="11.48" fill="#fff3af"/>
<rect x="701.87" y="186.67" width="11.83" height="11.48" fill="#ffe998"/>
<rect x="713.7" y="186.67" width="11.83" height="11.48" fill="#fedd7e"/>
<rect x="725.53" y="186.67" width="23.67" height="11.48" fill="#feab49"/>
<rect x="749.2" y="186.67" width="11.83" height="11.48" fill="#fedd7e"/>
<rect x="761.03" y="186.67" width="11.83" height="11.48" fill="#fa4b29"/>
<rect x="772.87" y="186.67" width="23.67" height="11.48" fill="#feab49"/>
<rect x="796.53" y="186.67" width="11.83" height="11.48" fill="#fd7836"/>
<rect x="808.37" y="186.67" width="11.83" height="11.48" fill="#fec460"/>
<rect x="820.2" y="186.67" width="11.83" height="11.48" fill="#ffe998"/>
<rect x="832.03" y="186.67" width="11.83" height="11.48" fill="#fec460"/>
<rect x="843.87" y="186.67" width="23.67" height="11.48" fill="#fff3af"/>
<rect x="867.53" y="186.67" width="11.83" height="11.48" fill="#fff9bd"/>
<rect x="891.2" y="186.67" width="11.83" height="11.48" fill="#fff9bd"/>
<rect x="630.87" y="198.14" width="23.67" height="11.48" fill="#fff9bd"/>
<rect x="654.53" y="198.14" width="23.67" height="11.48" fill="#ffe998"/>
<rect x="678.2" y="198.14" width="11.83" height="11.48" fill="#fff3af"/>
<rect x="690.03" y="198.14" width="11.83" height="11.48" fill="#ffe998"/>
<rect x="701.87" y="198.14" width="11.83" height="11.48" fill="#fff3af"/>
<rect x="713.7" y="198.14" width="11.83" height="11.48" fill="#feab49"/>
<rect x="725.53" y="198.14" width="11.83" height="11.48" fill="#fd9740"/>
<rect x="737.37" y="198.14" width="11.83" height="11.48" fill="#fedd7e"/>
<rect x="749.2" y="198.14" width="23.67" height="11.48" fill="#feab49"/>
<rect x="772.87" y="198.14" width="11.83" height="11.48" fill="#fedd7e"/>
<rect x="784.7" y="198.14" width="11.83" height="11.48" fill="#fd7836"/>
<rect x="796.53" y="198.14" width="11.83" height="11.48" fill="#fa4b29"/>
<rect x="808.37" y="198.14" width="11.83" height="11.48" fill="#feab49"/>
<rect x="820.2" y="198.14" width="11.83" height="11.48" fill="#fec460"/>
<rect x="832.03" y="198.14" width="11.83" height="11.48" fill="#fedd7e"/>
<rect x="843.87" y="198.14" width="11.83" height="11.48" fill="#ffe998"/>
<rect x="855.7" y="198.14" width="11.83" height="11.48" fill="#fff3af"/>
<rect x="879.37" y="198.14" width="11.83" height="11.48" fill="#fff9bd"/>
<rect x="891.2" y="198.14" width="11.83" height="11.48" fill="#fff3af"/>
<rect x="903.03" y="198.14" width="11.83" height="11.48" fill="#fff9bd"/>
<rect x="642.7" y="209.62" width="11.83" height="11.48" fill="#fff9bd"/>
<rect x="654.53" y="209.62" width="11.83" height="11.48" fill="#fff3af"/>
<rect x="666.37" y="209.62" width="11.83" height="11.48" fill="#ffe998"/>
<rect x="678.2" y="209.62" width="11.83" height="11.48" fill="#fff3af"/>
<rect x="690.03" y="209.62" width="11.83" height="11.48" fill="#ffe998"/>
<rect x="701.87" y="209.62" width="11.83" height="11.48" fill="#fedd7e"/>
<rect x="713.7" y="209.62" width="23.67" height="11.48" fill="#fd7836"/>
<rect x="737.37" y="209.62" width="23.67" height="11.48" fill="#fa4b29"/>
<rect x="761.03" y="209.62" width="11.83" height="11.48" fill="#fd7836"/>
<rect x="772.87" y="209.62" width="11.83" height="11.48" fill="#fec460"/>
<rect x="784.7" y="209.62" width="11.83" height="11.48" fill="#e31a1c"/>
<rect x="796.53" y="209.62" width="11.83" height="11.48" fill="#fd7836"/>
<rect x="808.37" y="209.62" width="11.83" height="11.48" fill="#fa4b29"/>
<rect x="820.2" y="209.62" width="11.83" height="11.48" fill="#fedd7e"/>
<rect x="832.03" y="209.62" width="11.83" height="11.48" fill="#fec460"/>
<rect x="843.87" y="209.62" width="11.83" height="11.48" fill="#ffe998"/>
<rect x="855.7" y="209.62" width="11.83" height="11.48" fill="#fedd7e"/>
<rect x="867.53" y="209.62" width="11.83" height="11.48" fill="#fff9bd"/>
<rect x="891.2" y="209.62" width="11.83" height="11.48" fill="#fff9bd"/>
<rect x="642.7" y="221.1" width="11.83" height="11.48" fill="#fff3af"/>
<rect x="666.37" y="221.1" width="11.83" height="11.48" fill="#fff3af"/>
<rect x="690.03" y="221.1" width="11.83" height="11.48" fill="#fff3af"/>
<rect x="701.87" y="221.1" width="11.83" height="11.48" fill="#feab49"/>
<rect x="713.7" y="221.1" width="11.83" height="11.48" fill="#fedd7e"/>
<rect x="725.53" y="221.1" width="11.83" height="11.48" fill="#fd9740"/>
<rect x="737.37" y="221.1" width="11.83" height="11.48" fill="#fa4b29"/>
<rect x="749.2" y="221.1" width="11.83" height="11.48" fill="#fd9740"/>
<rect x="761.03" y="221.1" width="11.83" height="11.48" fill="#fa4b29"/>
<rect x="772.87" y="221.1" width="11.83" height="11.48" fill="#fd9740"/>
<rect x="784.7" y="221.1" width="11.83" height="11.48" fill="#fd7836"/>
<rect x="796.53" y="221.1" width="11.83" height="11.48" fill="#feab49"/>
<rect x="808.37" y="221.1" width="23.67" height="11.48" fill="#fd7836"/>
<rect x="832.03" y="221.1" width="11.83" height="11.48" fill="#feab49"/>
<rect x="843.87" y="221.1" width="23.67" height="11.48" fill="#ffe998"/>
<rect x="867.53" y="221.1" width="23.67" height="11.48" fill="#fff3af"/>
<rect x="891.2" y="221.1" width="11.83" height="11.48" fill="#fff9bd"/>
<rect x="926.7" y="221.1" width="11.83" height="11.48" fill="#fff9bd"/>
<rect x="642.7" y="232.57" width="11.83" height="11.48" fill="#fff9bd"/>
<rect x="654.53" y="232.57" width="11.83" height="11.48" fill="#fff3af"/>
<rect x="666.37" y="232.57" width="35.5" height="11.48" fill="#ffe998"/>
<rect x="701.87" y="232.57" width="23.67" height="11.48" fill="#feab49"/>
<rect x="725.53" y="232.57" width="11.83" height="11.48" fill="#fec460"/>
<rect x="737.37" y="232.57" width="11.83" height="11.48" fill="#feab49"/>
<rect x="749.2" y="232.57" width="11.83" height="11.48" fill="#fd9740"/>
<rect x="761.03" y="232.57" width="11.83" height="11.48" fill="#fd7836"/>
<rect x="772.87" y="232.57" width="23.67" height="11.48" fill="#fa4b29"/>
<rect x="796.53" y="232.57" width="11.83" height="11.48" fill="#fd7836"/>
<rect x="808.37" y="232.57" width="11.83" height="11.48" fill="#fa4b29"/>
<rect x="820.2" y="232.57" width="11.83" height="11.48" fill="#fff3af"/>
<rect x="832.03" y="232.57" width="11.83" height="11.48" fill="#fedd7e"/>
<rect x="843.87" y="232.57" width="11.83" height="11.48" fill="#feab49"/>
<rect x="855.7" y="232.57" width="11.83" height="11.48" fill="#fedd7e"/>
<rect x="867.53" y="232.57" width="11.83" height="11.48" fill="#ffe998"/>
<rect x="879.37" y="232.57" width="11.83" height="11.48" fill="#fff3af"/>
<rect x="607.2" y="244.05" width="11.83" height="11.48" fill="#fff3af"/>
<rect x="619.03" y="244.05" width="23.67" height="11.48" fill="#fff9bd"/>
<rect x="642.7" y="244.05" width="11.83" height="11.48" fill="#fff3af"/>
<rect x="654.53" y="244.05" width="11.83" height="11.48" fill="#fff9bd"/>
<rect x="666.37" y="244.05" width="11.83" height="11.48" fill="#fff3af"/>
<rect x="678.2" y="244.05" width="23.67" height="11.48" fill="#ffe998"/>
<rect x="701.87" y="244.05" width="23.67" height="11.48" fill="#fedd7e"/>
<rect x="725.53" y="244.05" width="11.83" height="11.48" fill="#fd7836"/>
<rect x="737.37" y="244.05" width="11.83" height="11.48" fill="#fd9740"/>
<rect x="749.2" y="244.05" width="11.83" height="11.48" fill="#fa4b29"/>
<rect x="761.03" y="244.05" width="11.83" height="11.48" fill="#fd9740"/>
<rect x="772.87" y="244.05" width="11.83" height="11.48" fill="#800026"/>
<rect x="784.7" y="244.05" width="11.83" height="11.48" fill="#fa4b29"/>
<rect x="796.53" y="244.05" width="11.83" height="11.48" fill="#fd9740"/>
<rect x="808.37" y="244.05" width="11.83" height="11.48" fill="#fedd7e"/>
<rect x="820.2" y="244.05" width="11.83" height="11.48" fill="#fd9740"/>
<rect x="832.03" y="244.05" width="23.67" height="11.48" fill="#fedd7e"/>
<rect x="855.7" y="244.05" width="23.67" height="11.48" fill="#ffe998"/>
<rect x="879.37" y="244.05" width="11.83" height="11.48" fill="#fedd7e"/>
<rect x="891.2" y="244.05" width="11.83" height="11.48" fill="#fff9bd"/>
<rect x="903.03" y="244.05" width="11.83" height="11.48" fill="#ffe998"/>
<rect x="607.2" y="255.53" width="11.83" height="11.48" fill="#fff9bd"/>
<rect x="642.7" y="255.53" width="11.83" height="11.48" fill="#fff9bd"/>
<rect x="654.53" y="255.53" width="23.67" height="11.48" fill="#ffe998"/>
<rect x="678.2" y="255.53" width="11.83" height="11.48" fill="#fedd7e"/>
<rect x="690.03" y="255.53" width="11.83" height="11.48" fill="#fec460"/>
<rect x="701.87" y="255.53" width="11.83" height="11.48" fill="#ffe998"/>
<rect x="713.7" y="255.53" width="23.67" height="11.48" fill="#fd7836"/>
<rect x="737.37" y="255.53" width="11.83" height="11.48" fill="#fa4b29"/>
<rect x="749.2" y="255.53" width="11.83" height="11.48" fill="#ca0923"/>
<rect x="761.03" y="255.53" width="11.83" height="11.48" fill="#fd7836"/>
<rect x="772.87" y="255.53" width="11.83" height="11.48" fill="#a90026"/>
<rect x="784.7" y="255.53" width="11.83" height="11.48" fill="#fd7836"/>
<rect x="796.53" y="255.53" width="23.67" height="11.48" fill="#fd9740"/>
<rect x="820.2" y="255.53" width="11.83" height="11.48" fill="#fec460"/>
<rect x="832.03" y="255.53" width="35.5" height="11.48" fill="#fedd7e"/>
<rect x="867.53" y="255.53" width="11.83" height="11.48" fill="#ffe998"/>
<rect x="879.37" y="255.53" width="23.67" height="11.48" fill="#fff3af"/>
<rect x="914.87" y="255.53" width="35.5" height="11.48" fill="#fff9bd"/>
<rect x="630.87" y="267" width="11.83" height="11.48" fill="#fff9bd"/>
<rect x="642.7" y="267" width="11.83" height="11.48" fill="#ffe998"/>
<rect x="654.53" y="267" width="11.83" height="11.48" fill="#fff3af"/>
<rect x="666.37" y="267" width="23.67" height="11.48" fill="#fedd7e"/>
<rect x="690.03" y="267" width="23.67" height="11.48" fill="#ffe998"/>
<rect x="713.7" y="267" width="11.83" height="11.48" fill="#fd7836"/>
<rect x="725.53" y="267" width="11.83" height="11.48" fill="#fd9740"/>
<rect x="737.37" y="267" width="23.67" height="11.48" fill="#fa4b29"/>
<rect x="761.03" y="267" width="11.83" height="11.48" fill="#fd7836"/>
<rect x="772.87" y="267" width="11.83" height="11.48" fill="#e31a1c"/>
<rect x="784.7" y="267" width="11.83" height="11.48" fill="#ca0923"/>
<rect x="796.53" y="267" width="11.83" height="11.48" fill="#fd9740"/>
<rect x="808.37" y="267" width="11.83" height="11.48" fill="#fd7836"/>
<rect x="820.2" y="267" width="11.83" height="11.48" fill="#feab49"/>
<rect x="832.03" y="267" width="11.83" height="11.48" fill="#fec460"/>
<rect x="843.87" y="267" width="11.83" height="11.48" fill="#feab49"/>
<rect x="855.7" y="267" width="11.83" height="11.48" fill="#fff3af"/>
<rect x="867.53" y="267" width="11.83" height="11.48" fill="#ffe998"/>
<rect x="879.37" y="267" width="11.83" height="11.48" fill="#fff9bd"/>
<rect x="607.2" y="278.48" width="11.83" height="11.48" fill="#fff9bd"/>
<rect x="642.7" y="278.48" width="11.83" height="11.48" fill="#fff9bd"/>
<rect x="654.53" y="278.48" width="11.83" height="11.48" fill="#fff3af"/>
<rect x="666.37" y="278.48" width="11.83" height="11.48" fill="#ffe998"/>
<rect x="678.2" y="278.48" width="11.83" height="11.48" fill="#fff3af"/>
<rect x="690.03" y="278.48" width="11.83" height="11.48" fill="#ffe998"/>
<rect x="701.87" y="278.48" width="11.83" height="11.48" fill="#fedd7e"/>
<rect x="713.7" y="278.48" width="11.83" height="11.48" fill="#fec460"/>
<rect x="725.53" y="278.48" width="11.83" height="11.48" fill="#fa4b29"/>
<rect x="737.37" y="278.48" width="35.5" height="11.48" fill="#fd9740"/>
<rect x="772.87" y="278.48" width="11.83" height="11.48" fill="#fd7836"/>
<rect x="784.7" y="278.48" width="11.83" height="11.48" fill="#a90026"/>
<rect x="796.53" y="278.48" width="11.83" height="11.48" fill="#fd7836"/>
<rect x="808.37" y="278.48" width="11.83" height="11.48" fill="#fa4b29"/>
<rect x="820.2" y="278.48" width="11.83" height="11.48" fill="#ffe998"/>
<rect x="832.03" y="278.48" width="11.83" height="11.48" fill="#fedd7e"/>
<rect x="843.87" y="278.48" width="23.67" height="11.48" fill="#ffe998"/>
<rect x="867.53" y="278.48" width="11.83" height="11.48" fill="#fedd7e"/>
<rect x="879.37" y="278.48" width="11.83" height="11.48" fill="#fff9bd"/>
<rect x="642.7" y="289.96" width="11.83" height="11.48" fill="#ffe998"/>
<rect x="654.53" y="289.96" width="23.67" height="11.48" fill="#fff3af"/>
<rect x="678.2" y="289.96" width="23.67" height="11.48" fill="#fff9bd"/>
<rect x="701.87" y="289.96" width="11.83" height="11.48" fill="#ffe998"/>
<rect x="713.7" y="289.96" width="23.67" height="11.48" fill="#feab49"/>
<rect x="737.37" y="289.96" width="11.83" height="11.48" fill="#fd9740"/>
<rect x="749.2" y="289.96" width="11.83" height="11.48" fill="#fd7836"/>
<rect x="761.03" y="289.96" width="11.83" height="11.48" fill="#feab49"/>
<rect x="772.87" y="289.96" width="11.83" height="11.48" fill="#fa4b29"/>
<rect x="784.7" y="289.96" width="23.67" height="11.48" fill="#fd7836"/>
<rect x="808.37" y="289.96" width="11.83" height="11.48" fill="#fd9740"/>
<rect x="820.2" y="289.96" width="11.83" height="11.48" fill="#fedd7e"/>
<rect x="832.03" y="289.96" width="11.83" height="11.48" fill="#fd9740"/>
<rect x="843.87" y="289.96" width="11.83" height="11.48" fill="#ffe998"/>
<rect x="855.7" y="289.96" width="35.5" height="11.48" fill="#fff3af"/>
<rect x="891.2" y="289.96" width="35.5" height="11.48" fill="#fff9bd"/>
<rect x="642.7" y="301.43" width="11.83" height="11.48" fill="#fff9bd"/>
<rect x="654.53" y="301.43" width="47.33" height="11.48" fill="#fff3af"/>
<rect x="701.87" y="301.43" width="23.67" height="11.48" fill="#fedd7e"/>
<rect x="725.53" y="301.43" width="11.83" height="11.48" fill="#ffe998"/>
<rect x="737.37" y="301.43" width="11.83" height="11.48" fill="#fec460"/>
<rect x="749.2" y="301.43" width="11.83" height="11.48" fill="#feab49"/>
<rect x="761.03" y="301.43" width="23.67" height="11.48" fill="#fd9740"/>
<rect x="784.7" y="301.43" width="23.67" height="11.48" fill="#feab49"/>
<rect x="808.37" y="301.43" width="11.83" height="11.48" fill="#fd9740"/>
<rect x="820.2" y="301.43" width="11.83" height="11.48" fill="#fec460"/>
<rect x="832.03" y="301.43" width="35.5" height="11.48" fill="#ffe998"/>
<rect x="867.53" y="301.43" width="11.83" height="11.48" fill="#fff3af"/>
<rect x="879.37" y="301.43" width="23.67" height="11.48" fill="#fff9bd"/>
<rect x="914.87" y="301.43" width="11.83" height="11.48" fill="#fff9bd"/>
<rect x="642.7" y="312.91" width="11.83" height="11.48" fill="#fff9bd"/>
<rect x="654.53" y="312.91" width="11.83" height="11.48" fill="#fff3af"/>
<rect x="666.37" y="312.91" width="35.5" height="11.48" fill="#fff9bd"/>
<rect x="701.87" y="312.91" width="11.83" height="11.48" fill="#fedd7e"/>
<rect x="713.7" y="312.91" width="11.83" height="11.48" fill="#fec460"/>
<rect x="725.53" y="312.91" width="94.67" height="11.48" fill="#fedd7e"/>
<rect x="820.2" y="312.91" width="11.83" height="11.48" fill="#ffe998"/>
<rect x="832.03" y="312.91" width="11.83" height="11.48" fill="#fedd7e"/>
<rect x="843.87" y="312.91" width="11.83" height="11.48" fill="#fff3af"/>
<rect x="855.7" y="312.91" width="11.83" height="11.48" fill="#fff9bd"/>
<rect x="891.2" y="312.91" width="23.67" height="11.48" fill="#fff9bd"/>
<rect x="690.03" y="324.39" width="23.67" height="11.48" fill="#fff3af"/>
<rect x="713.7" y="324.39" width="23.67" height="11.48" fill="#ffe998"/>
<rect x="737.37" y="324.39" width="11.83" height="11.48" fill="#fec460"/>
<rect x="749.2" y="324.39" width="11.83" height="11.48" fill="#feab49"/>
<rect x="761.03" y="324.39" width="11.83" height="11.48" fill="#fff3af"/>
<rect x="772.87" y="324.39" width="11.83" height="11.48" fill="#ffe998"/>
<rect x="784.7" y="324.39" width="11.83" height="11.48" fill="#fff3af"/>
<rect x="796.53" y="324.39" width="11.83" height="11.48" fill="#fec460"/>
<rect x="808.37" y="324.39" width="11.83" height="11.48" fill="#fff3af"/>
<rect x="820.2" y="324.39" width="23.67" height="11.48" fill="#ffe998"/>
<rect x="855.7" y="324.39" width="11.83" height="11.48" fill="#fff9bd"/>
<rect x="867.53" y="324.39" width="11.83" height="11.48" fill="#ffe998"/>
<rect x="879.37" y="324.39" width="11.83" height="11.48" fill="#fff9bd"/>
<rect x="891.2" y="324.39" width="11.83" height="11.48" fill="#fff3af"/>
<rect x="903.03" y="324.39" width="23.67" height="11.48" fill="#fff9bd"/>
<rect x="654.53" y="335.86" width="11.83" height="11.48" fill="#fff9bd"/>
<rect x="666.37" y="335.86" width="35.5" height="11.48" fill="#fff3af"/>
<rect x="701.87" y="335.86" width="11.83" height="11.48" fill="#fff9bd"/>
<rect x="713.7" y="335.86" width="11.83" height="11.48" fill="#fff3af"/>
<rect x="725.53" y="335.86" width="11.83" height="11.48" fill="#fff9bd"/>
<rect x="737.37" y="335.86" width="11.83" height="11.48" fill="#ffe998"/>
<rect x="749.2" y="335.86" width="11.83" height="11.48" fill="#fedd7e"/>
<rect x="761.03" y="335.86" width="11.83" height="11.48" fill="#fff3af"/>
<rect x="772.87" y="335.86" width="35.5" height="11.48" fill="#ffe998"/>
<rect x="808.37" y="335.86" width="11.83" height="11.48" fill="#fff3af"/>
<rect x="820.2" y="335.86" width="35.5" height="11.48" fill="#ffe998"/>
<rect x="666.37" y="347.34" width="11.83" height="11.48" fill="#fff9bd"/>
<rect x="690.03" y="347.34" width="11.83" height="11.48" fill="#fff3af"/>
<rect x="713.7" y="347.34" width="11.83" height="11.48" fill="#fff9bd"/>
<rect x="749.2" y="347.34" width="11.83" height="11.48" fill="#fff3af"/>
<rect x="761.03" y="347.34" width="11.83" height="11.48" fill="#fff9bd"/>
<rect x="772.87" y="347.34" width="11.83" height="11.48" fill="#fff3af"/>
<rect x="784.7" y="347.34" width="11.83" height="11.48" fill="#fff9bd"/>
<rect x="796.53" y="347.34" width="23.67" height="11.48" fill="#fff3af"/>
<rect x="820.2" y="347.34" width="11.83" height="11.48" fill="#fff9bd"/>
<rect x="832.03" y="347.34" width="35.5" height="11.48" fill="#fff3af"/>
<rect x="678.2" y="358.82" width="23.67" height="11.48" fill="#fff9bd"/>
<rect x="701.87" y="358.82" width="11.83" height="11.48" fill="#ffe998"/>
<rect x="713.7" y="358.82" width="11.83" height="11.48" fill="#fff3af"/>
<rect x="725.53" y="358.82" width="11.83" height="11.48" fill="#ffe998"/>
<rect x="749.2" y="358.82" width="11.83" height="11.48" fill="#fff3af"/>
<rect x="761.03" y="358.82" width="23.67" height="11.48" fill="#ffe998"/>
<rect x="784.7" y="358.82" width="11.83" height="11.48" fill="#fff3af"/>
<rect x="808.37" y="358.82" width="23.67" height="11.48" fill="#ffe998"/>
<rect x="832.03" y="358.82" width="23.67" height="11.48" fill="#fff9bd"/>
<rect x="761.03" y="370.29" width="11.83" height="11.48" fill="#fedd7e"/>
<rect x="772.87" y="370.29" width="23.67" height="11.48" fill="#fff3af"/>
<rect x="796.53" y="370.29" width="47.33" height="11.48" fill="#fff9bd"/>
<rect x="843.87" y="370.29" width="11.83" height="11.48" fill="#fff3af"/>
<rect x="891.2" y="370.29" width="11.83" height="11.48" fill="#fff9bd"/>
<rect x="690.03" y="381.77" width="11.83" height="11.48" fill="#fff3af"/>
<rect x="701.87" y="381.77" width="35.5" height="11.48" fill="#fff9bd"/>
<rect x="737.37" y="381.77" width="11.83" height="11.48" fill="#fff3af"/>
<rect x="749.2" y="381.77" width="11.83" height="11.48" fill="#fff9bd"/>
<rect x="784.7" y="381.77" width="11.83" height="11.48" fill="#fff9bd"/>
<rect x="891.2" y="381.77" width="11.83" height="11.48" fill="#fff9bd"/>
<rect x="784.7" y="393.25" width="11.83" height="11.48" fill="#fff9bd"/>
<rect x="820.2" y="393.25" width="11.83" height="11.48" fill="#fff9bd"/>
<rect x="843.87" y="393.25" width="11.83" height="11.48" fill="#fff9bd"/>
<rect x="796.53" y="404.72" width="23.67" height="11.48" fill="#fff9bd"/>
</g>
<rect x="607.2" y="71.9" width="355" height="344.3" fill="none" stroke="#000" stroke-width="4.86"/>
<line x1="664.4" x2="664.4" y1="418.63" y2="422.53" stroke="#000" stroke-width="1.4"/>
<text x="664.4" y="442" font-size="17.0" text-anchor="middle">−2</text>
<line x1="771.8" x2="771.8" y1="418.63" y2="422.53" stroke="#000" stroke-width="1.4"/>
<text x="771.8" y="442" font-size="17.0" text-anchor="middle">0</text>
<line x1="879.2" x2="879.2" y1="418.63" y2="422.53" stroke="#000" stroke-width="1.4"/>
<text x="879.2" y="442" font-size="17.0" text-anchor="middle">2</text>
<line x1="600.87" x2="604.77" y1="86.2" y2="86.2" stroke="#000" stroke-width="1.4"/>
<text x="595" y="92.4" font-size="17.0" text-anchor="end">3</text>
<line x1="600.87" x2="604.77" y1="140.15" y2="140.15" stroke="#000" stroke-width="1.4"/>
<text x="595" y="146.35" font-size="17.0" text-anchor="end">2</text>
<line x1="600.87" x2="604.77" y1="194.1" y2="194.1" stroke="#000" stroke-width="1.4"/>
<text x="595" y="200.3" font-size="17.0" text-anchor="end">1</text>
<line x1="600.87" x2="604.77" y1="248.05" y2="248.05" stroke="#000" stroke-width="1.4"/>
<text x="595" y="254.25" font-size="17.0" text-anchor="end">0</text>
<line x1="600.87" x2="604.77" y1="302" y2="302" stroke="#000" stroke-width="1.4"/>
<text x="595" y="308.2" font-size="17.0" text-anchor="end">−1</text>
<line x1="600.87" x2="604.77" y1="355.95" y2="355.95" stroke="#000" stroke-width="1.4"/>
<text x="595" y="362.15" font-size="17.0" text-anchor="end">−2</text>
<line x1="600.87" x2="604.77" y1="409.9" y2="409.9" stroke="#000" stroke-width="1.4"/>
<text x="595" y="416.1" font-size="17.0" text-anchor="end">−3</text>
<text x="785.1" y="61.9" font-size="22.2" letter-spacing="0.28" text-anchor="middle">b=1/N, No. of matrices=3</text>
<text x="785.5" y="469.9" font-size="22.2" letter-spacing="0.5" text-anchor="middle">Re z</text>
<rect x="984.7" y="6.4" width="23.6" height="475.3" fill="url(#g)" stroke="#000" stroke-width="4.86"/>
<line x1="1010.73" x2="1014.63" y1="481.7" y2="481.7" stroke="#000" stroke-width="1.4"/>
<text x="1020.6" y="488.3" font-size="17.0">0</text>
<line x1="1010.73" x2="1014.63" y1="392.58" y2="392.58" stroke="#000" stroke-width="1.4"/>
<text x="1020.6" y="399.18" font-size="17.0">2</text>
<line x1="1010.73" x2="1014.63" y1="303.46" y2="303.46" stroke="#000" stroke-width="1.4"/>
<text x="1020.6" y="310.06" font-size="17.0">4</text>
<line x1="1010.73" x2="1014.63" y1="214.34" y2="214.34" stroke="#000" stroke-width="1.4"/>
<text x="1020.6" y="220.94" font-size="17.0">6</text>
<line x1="1010.73" x2="1014.63" y1="125.22" y2="125.22" stroke="#000" stroke-width="1.4"/>
<text x="1020.6" y="131.82" font-size="17.0">8</text>
<line x1="1010.73" x2="1014.63" y1="36.11" y2="36.11" stroke="#000" stroke-width="1.4"/>
<text x="1020.6" y="42.71" font-size="17.0">10</text>
<g shape-rendering="crispEdges">
<rect x="74.6" y="552.3" width="355" height="344.1" fill="#ffffcc"/>
<rect x="252.1" y="552.3" width="11.83" height="11.47" fill="#fff4b1"/>
<rect x="275.77" y="552.3" width="11.83" height="11.47" fill="#fff4b1"/>
<rect x="252.1" y="563.77" width="11.83" height="11.47" fill="#fff4b1"/>
<rect x="240.27" y="575.24" width="11.83" height="11.47" fill="#fff4b1"/>
<rect x="192.93" y="586.71" width="11.83" height="11.47" fill="#fff4b1"/>
<rect x="240.27" y="586.71" width="11.83" height="11.47" fill="#fff4b1"/>
<rect x="287.6" y="586.71" width="11.83" height="11.47" fill="#fff4b1"/>
<rect x="358.6" y="586.71" width="11.83" height="11.47" fill="#fff4b1"/>
<rect x="110.1" y="598.18" width="11.83" height="11.47" fill="#fff4b1"/>
<rect x="204.77" y="598.18" width="11.83" height="11.47" fill="#fff4b1"/>
<rect x="228.43" y="598.18" width="11.83" height="11.47" fill="#ffe896"/>
<rect x="275.77" y="598.18" width="11.83" height="11.47" fill="#fff4b1"/>
<rect x="334.93" y="598.18" width="11.83" height="11.47" fill="#fff4b1"/>
<rect x="157.43" y="609.65" width="11.83" height="11.47" fill="#fff4b1"/>
<rect x="181.1" y="609.65" width="11.83" height="11.47" fill="#fff4b1"/>
<rect x="216.6" y="609.65" width="35.5" height="11.47" fill="#fff4b1"/>
<rect x="252.1" y="609.65" width="11.83" height="11.47" fill="#ffe896"/>
<rect x="275.77" y="609.65" width="11.83" height="11.47" fill="#fff4b1"/>
<rect x="299.43" y="609.65" width="11.83" height="11.47" fill="#ffe896"/>
<rect x="346.77" y="609.65" width="11.83" height="11.47" fill="#ffe896"/>
<rect x="169.27" y="621.12" width="35.5" height="11.47" fill="#fff4b1"/>
<rect x="204.77" y="621.12" width="23.67" height="11.47" fill="#fedc7c"/>
<rect x="228.43" y="621.12" width="11.83" height="11.47" fill="#ffe896"/>
<rect x="263.93" y="621.12" width="11.83" height="11.47" fill="#fedc7c"/>
<rect x="275.77" y="621.12" width="11.83" height="11.47" fill="#fff4b1"/>
<rect x="311.27" y="621.12" width="11.83" height="11.47" fill="#fff4b1"/>
<rect x="334.93" y="621.12" width="11.83" height="11.47" fill="#fff4b1"/>
<rect x="394.1" y="621.12" width="11.83" height="11.47" fill="#fff4b1"/>
<rect x="169.27" y="632.59" width="23.67" height="11.47" fill="#ffe896"/>
<rect x="192.93" y="632.59" width="11.83" height="11.47" fill="#fff4b1"/>
<rect x="204.77" y="632.59" width="11.83" height="11.47" fill="#ffe896"/>
<rect x="216.6" y="632.59" width="23.67" height="11.47" fill="#fff4b1"/>
<rect x="240.27" y="632.59" width="11.83" height="11.47" fill="#fec763"/>
<rect x="252.1" y="632.59" width="23.67" height="11.47" fill="#fedc7c"/>
<rect x="287.6" y="632.59" width="11.83" height="11.47" fill="#ffe896"/>
<rect x="299.43" y="632.59" width="11.83" height="11.47" fill="#fff4b1"/>
<rect x="311.27" y="632.59" width="11.83" height="11.47" fill="#ffe896"/>
<rect x="346.77" y="632.59" width="11.83" height="11.47" fill="#ffe896"/>
<rect x="121.93" y="644.06" width="35.5" height="11.47" fill="#fff4b1"/>
<rect x="181.1" y="644.06" width="11.83" height="11.47" fill="#fff4b1"/>
<rect x="192.93" y="644.06" width="11.83" height="11.47" fill="#ffe896"/>
<rect x="216.6" y="644.06" width="11.83" height="11.47" fill="#fff4b1"/>
<rect x="228.43" y="644.06" width="11.83" height="11.47" fill="#ffe896"/>
<rect x="240.27" y="644.06" width="11.83" height="11.47" fill="#feaf4b"/>
<rect x="252.1" y="644.06" width="11.83" height="11.47" fill="#fec763"/>
<rect x="263.93" y="644.06" width="11.83" height="11.47" fill="#fedc7c"/>
<rect x="275.77" y="644.06" width="11.83" height="11.47" fill="#ffe896"/>
<rect x="287.6" y="644.06" width="11.83" height="11.47" fill="#fff4b1"/>
<rect x="299.43" y="644.06" width="11.83" height="11.47" fill="#fedc7c"/>
<rect x="323.1" y="644.06" width="11.83" height="11.47" fill="#fff4b1"/>
<rect x="346.77" y="644.06" width="11.83" height="11.47" fill="#ffe896"/>
<rect x="98.27" y="655.53" width="11.83" height="11.47" fill="#fff4b1"/>
<rect x="121.93" y="655.53" width="11.83" height="11.47" fill="#fff4b1"/>
<rect x="157.43" y="655.53" width="11.83" height="11.47" fill="#fedc7c"/>
<rect x="169.27" y="655.53" width="35.5" height="11.47" fill="#fff4b1"/>
<rect x="204.77" y="655.53" width="11.83" height="11.47" fill="#fec763"/>
<rect x="216.6" y="655.53" width="11.83" height="11.47" fill="#fff4b1"/>
<rect x="228.43" y="655.53" width="11.83" height="11.47" fill="#feaf4b"/>
<rect x="240.27" y="655.53" width="23.67" height="11.47" fill="#ffe896"/>
<rect x="287.6" y="655.53" width="23.67" height="11.47" fill="#fd9841"/>
<rect x="323.1" y="655.53" width="23.67" height="11.47" fill="#ffe896"/>
<rect x="346.77" y="655.53" width="11.83" height="11.47" fill="#fff4b1"/>
<rect x="382.27" y="655.53" width="11.83" height="11.47" fill="#ffe896"/>
<rect x="121.93" y="667" width="11.83" height="11.47" fill="#fedc7c"/>
<rect x="145.6" y="667" width="11.83" height="11.47" fill="#fff4b1"/>
<rect x="157.43" y="667" width="11.83" height="11.47" fill="#ffe896"/>
<rect x="181.1" y="667" width="11.83" height="11.47" fill="#fedc7c"/>
<rect x="192.93" y="667" width="11.83" height="11.47" fill="#fec763"/>
<rect x="204.77" y="667" width="11.83" height="11.47" fill="#fedc7c"/>
<rect x="216.6" y="667" width="11.83" height="11.47" fill="#fec763"/>
<rect x="228.43" y="667" width="11.83" height="11.47" fill="#ffe896"/>
<rect x="240.27" y="667" width="11.83" height="11.47" fill="#feaf4b"/>
<rect x="252.1" y="667" width="11.83" height="11.47" fill="#ffe896"/>
<rect x="263.93" y="667" width="11.83" height="11.47" fill="#fec763"/>
<rect x="275.77" y="667" width="11.83" height="11.47" fill="#fd7a36"/>
<rect x="287.6" y="667" width="47.33" height="11.47" fill="#ffe896"/>
<rect x="334.93" y="667" width="11.83" height="11.47" fill="#fff4b1"/>
<rect x="358.6" y="667" width="11.83" height="11.47" fill="#ffe896"/>
<rect x="110.1" y="678.47" width="11.83" height="11.47" fill="#fff4b1"/>
<rect x="121.93" y="678.47" width="11.83" height="11.47" fill="#ffe896"/>
<rect x="133.77" y="678.47" width="35.5" height="11.47" fill="#fff4b1"/>
<rect x="169.27" y="678.47" width="11.83" height="11.47" fill="#ffe896"/>
<rect x="181.1" y="678.47" width="11.83" height="11.47" fill="#fedc7c"/>
<rect x="192.93" y="678.47" width="11.83" height="11.47" fill="#feaf4b"/>
<rect x="204.77" y="678.47" width="35.5" height="11.47" fill="#fec763"/>
<rect x="240.27" y="678.47" width="11.83" height="11.47" fill="#ffe896"/>
<rect x="263.93" y="678.47" width="11.83" height="11.47" fill="#feaf4b"/>
<rect x="275.77" y="678.47" width="11.83" height="11.47" fill="#ffe896"/>
<rect x="287.6" y="678.47" width="23.67" height="11.47" fill="#fec763"/>
<rect x="311.27" y="678.47" width="23.67" height="11.47" fill="#fff4b1"/>
<rect x="334.93" y="678.47" width="23.67" height="11.47" fill="#ffe896"/>
<rect x="370.43" y="678.47" width="11.83" height="11.47" fill="#fff4b1"/>
<rect x="394.1" y="678.47" width="11.83" height="11.47" fill="#ffe896"/>
<rect x="405.93" y="678.47" width="11.83" height="11.47" fill="#fff4b1"/>
<rect x="121.93" y="689.94" width="35.5" height="11.47" fill="#fff4b1"/>
<rect x="181.1" y="689.94" width="11.83" height="11.47" fill="#feaf4b"/>
<rect x="192.93" y="689.94" width="11.83" height="11.47" fill="#fff4b1"/>
<rect x="204.77" y="689.94" width="11.83" height="11.47" fill="#feaf4b"/>
<rect x="216.6" y="689.94" width="11.83" height="11.47" fill="#fd9841"/>
<rect x="228.43" y="689.94" width="11.83" height="11.47" fill="#ef3222"/>
<rect x="240.27" y="689.94" width="11.83" height="11.47" fill="#fedc7c"/>
<rect x="252.1" y="689.94" width="11.83" height="11.47" fill="#feaf4b"/>
<rect x="263.93" y="689.94" width="11.83" height="11.47" fill="#fd7a36"/>
<rect x="275.77" y="689.94" width="11.83" height="11.47" fill="#fd9841"/>
<rect x="287.6" y="689.94" width="11.83" height="11.47" fill="#fd7a36"/>
<rect x="299.43" y="689.94" width="11.83" height="11.47" fill="#feaf4b"/>
<rect x="311.27" y="689.94" width="11.83" height="11.47" fill="#fec763"/>
<rect x="323.1" y="689.94" width="11.83" height="11.47" fill="#fedc7c"/>
<rect x="334.93" y="689.94" width="11.83" height="11.47" fill="#ffe896"/>
<rect x="358.6" y="689.94" width="23.67" height="11.47" fill="#fff4b1"/>
<rect x="110.1" y="701.41" width="11.83" height="11.47" fill="#fff4b1"/>
<rect x="145.6" y="701.41" width="11.83" height="11.47" fill="#fff4b1"/>
<rect x="157.43" y="701.41" width="11.83" height="11.47" fill="#ffe896"/>
<rect x="169.27" y="701.41" width="11.83" height="11.47" fill="#fedc7c"/>
<rect x="181.1" y="701.41" width="11.83" height="11.47" fill="#feaf4b"/>
<rect x="192.93" y="701.41" width="11.83" height="11.47" fill="#fec763"/>
<rect x="204.77" y="701.41" width="11.83" height="11.47" fill="#ffe896"/>
<rect x="216.6" y="701.41" width="11.83" height="11.47" fill="#fd9841"/>
<rect x="228.43" y="701.41" width="11.83" height="11.47" fill="#fc532b"/>
<rect x="240.27" y="701.41" width="11.83" height="11.47" fill="#fedc7c"/>
<rect x="252.1" y="701.41" width="11.83" height="11.47" fill="#ffe896"/>
<rect x="263.93" y="701.41" width="11.83" height="11.47" fill="#fc532b"/>
<rect x="275.77" y="701.41" width="11.83" height="11.47" fill="#fd9841"/>
<rect x="287.6" y="701.41" width="23.67" height="11.47" fill="#fec763"/>
<rect x="311.27" y="701.41" width="11.83" height="11.47" fill="#fedc7c"/>
<rect x="323.1" y="701.41" width="11.83" height="11.47" fill="#fec763"/>
<rect x="334.93" y="701.41" width="11.83" height="11.47" fill="#ffe896"/>
<rect x="346.77" y="701.41" width="11.83" height="11.47" fill="#fedc7c"/>
<rect x="110.1" y="712.88" width="11.83" height="11.47" fill="#fff4b1"/>
<rect x="133.77" y="712.88" width="23.67" height="11.47" fill="#fff4b1"/>
<rect x="157.43" y="712.88" width="35.5" height="11.47" fill="#ffe896"/>
<rect x="192.93" y="712.88" width="11.83" height="11.47" fill="#feaf4b"/>
<rect x="204.77" y="712.88" width="11.83" height="11.47" fill="#fec763"/>
<rect x="216.6" y="712.88" width="11.83" height="11.47" fill="#fedc7c"/>
<rect x="228.43" y="712.88" width="11.83" height="11.47" fill="#fec763"/>
<rect x="240.27" y="712.88" width="11.83" height="11.47" fill="#ffe896"/>
<rect x="252.1" y="712.88" width="11.83" height="11.47" fill="#fd7a36"/>
<rect x="263.93" y="712.88" width="11.83" height="11.47" fill="#fec763"/>
<rect x="275.77" y="712.88" width="11.83" height="11.47" fill="#dd161e"/>
<rect x="287.6" y="712.88" width="11.83" height="11.47" fill="#ffe896"/>
<rect x="299.43" y="712.88" width="11.83" height="11.47" fill="#fd9841"/>
<rect x="323.1" y="712.88" width="11.83" height="11.47" fill="#fedc7c"/>
<rect x="334.93" y="712.88" width="11.83" height="11.47" fill="#fd9841"/>
<rect x="346.77" y="712.88" width="35.5" height="11.47" fill="#fff4b1"/>
<rect x="394.1" y="712.88" width="11.83" height="11.47" fill="#fff4b1"/>
<rect x="121.93" y="724.35" width="11.83" height="11.47" fill="#ffe896"/>
<rect x="133.77" y="724.35" width="11.83" height="11.47" fill="#fff4b1"/>
<rect x="145.6" y="724.35" width="11.83" height="11.47" fill="#ffe896"/>
<rect x="169.27" y="724.35" width="11.83" height="11.47" fill="#fec763"/>
<rect x="181.1" y="724.35" width="23.67" height="11.47" fill="#ffe896"/>
<rect x="204.77" y="724.35" width="35.5" height="11.47" fill="#fec763"/>
<rect x="240.27" y="724.35" width="11.83" height="11.47" fill="#feaf4b"/>
<rect x="252.1" y="724.35" width="11.83" height="11.47" fill="#fc532b"/>
<rect x="263.93" y="724.35" width="11.83" height="11.47" fill="#fd9841"/>
<rect x="275.77" y="724.35" width="23.67" height="11.47" fill="#feaf4b"/>
<rect x="299.43" y="724.35" width="11.83" height="11.47" fill="#fff4b1"/>
<rect x="311.27" y="724.35" width="11.83" height="11.47" fill="#fec763"/>
<rect x="323.1" y="724.35" width="11.83" height="11.47" fill="#fedc7c"/>
<rect x="334.93" y="724.35" width="23.67" height="11.47" fill="#ffe896"/>
<rect x="358.6" y="724.35" width="11.83" height="11.47" fill="#fedc7c"/>
<rect x="382.27" y="724.35" width="11.83" height="11.47" fill="#fec763"/>
<rect x="121.93" y="735.82" width="11.83" height="11.47" fill="#fedc7c"/>
<rect x="157.43" y="735.82" width="11.83" height="11.47" fill="#fedc7c"/>
<rect x="169.27" y="735.82" width="11.83" height="11.47" fill="#ffe896"/>
<rect x="181.1" y="735.82" width="11.83" height="11.47" fill="#fff4b1"/>
<rect x="192.93" y="735.82" width="11.83" height="11.47" fill="#fd9841"/>
<rect x="204.77" y="735.82" width="11.83" height="11.47" fill="#fedc7c"/>
<rect x="216.6" y="735.82" width="11.83" height="11.47" fill="#fc532b"/>
<rect x="228.43" y="735.82" width="11.83" height="11.47" fill="#c60624"/>
<rect x="240.27" y="735.82" width="11.83" height="11.47" fill="#feaf4b"/>
<rect x="252.1" y="735.82" width="11.83" height="11.47" fill="#ef3222"/>
<rect x="263.93" y="735.82" width="11.83" height="11.47" fill="#fc532b"/>
<rect x="275.77" y="735.82" width="11.83" height="11.47" fill="#fd9841"/>
<rect x="287.6" y="735.82" width="11.83" height="11.47" fill="#fd7a36"/>
<rect x="299.43" y="735.82" width="11.83" height="11.47" fill="#feaf4b"/>
<rect x="311.27" y="735.82" width="11.83" height="11.47" fill="#ffe896"/>
<rect x="323.1" y="735.82" width="11.83" height="11.47" fill="#fff4b1"/>
<rect x="334.93" y="735.82" width="11.83" height="11.47" fill="#fedc7c"/>
<rect x="346.77" y="735.82" width="23.67" height="11.47" fill="#fff4b1"/>
<rect x="382.27" y="735.82" width="23.67" height="11.47" fill="#fff4b1"/>
<rect x="98.27" y="747.29" width="11.83" height="11.47" fill="#fedc7c"/>
<rect x="121.93" y="747.29" width="11.83" height="11.47" fill="#fff4b1"/>
<rect x="133.77" y="747.29" width="11.83" height="11.47" fill="#ffe896"/>
<rect x="145.6" y="747.29" width="11.83" height="11.47" fill="#fec763"/>
<rect x="157.43" y="747.29" width="23.67" height="11.47" fill="#ffe896"/>
<rect x="181.1" y="747.29" width="11.83" height="11.47" fill="#fedc7c"/>
<rect x="192.93" y="747.29" width="11.83" height="11.47" fill="#feaf4b"/>
<rect x="204.77" y="747.29" width="11.83" height="11.47" fill="#fec763"/>
<rect x="216.6" y="747.29" width="11.83" height="11.47" fill="#feaf4b"/>
<rect x="228.43" y="747.29" width="11.83" height="11.47" fill="#fd9841"/>
<rect x="240.27" y="747.29" width="11.83" height="11.47" fill="#fc532b"/>
<rect x="252.1" y="747.29" width="11.83" height="11.47" fill="#ffe896"/>
<rect x="263.93" y="747.29" width="11.83" height="11.47" fill="#dd161e"/>
<rect x="275.77" y="747.29" width="11.83" height="11.47" fill="#ef3222"/>
<rect x="287.6" y="747.29" width="35.5" height="11.47" fill="#fedc7c"/>
<rect x="323.1" y="747.29" width="11.83" height="11.47" fill="#ffe896"/>
<rect x="334.93" y="747.29" width="11.83" height="11.47" fill="#fedc7c"/>
<rect x="358.6" y="747.29" width="23.67" height="11.47" fill="#ffe896"/>
<rect x="74.6" y="758.76" width="11.83" height="11.47" fill="#fff4b1"/>
<rect x="133.77" y="758.76" width="11.83" height="11.47" fill="#ffe896"/>
<rect x="145.6" y="758.76" width="11.83" height="11.47" fill="#fedc7c"/>
<rect x="157.43" y="758.76" width="11.83" height="11.47" fill="#fff4b1"/>
<rect x="169.27" y="758.76" width="11.83" height="11.47" fill="#ffe896"/>
<rect x="181.1" y="758.76" width="11.83" height="11.47" fill="#fedc7c"/>
<rect x="192.93" y="758.76" width="11.83" height="11.47" fill="#ffe896"/>
<rect x="204.77" y="758.76" width="11.83" height="11.47" fill="#fec763"/>
<rect x="216.6" y="758.76" width="11.83" height="11.47" fill="#fedc7c"/>
<rect x="228.43" y="758.76" width="11.83" height="11.47" fill="#fec763"/>
<rect x="240.27" y="758.76" width="11.83" height="11.47" fill="#fedc7c"/>
<rect x="252.1" y="758.76" width="11.83" height="11.47" fill="#ffe896"/>
<rect x="263.93" y="758.76" width="11.83" height="11.47" fill="#800026"/>
<rect x="275.77" y="758.76" width="11.83" height="11.47" fill="#fd7a36"/>
<rect x="287.6" y="758.76" width="23.67" height="11.47" fill="#feaf4b"/>
<rect x="311.27" y="758.76" width="11.83" height="11.47" fill="#fec763"/>
<rect x="323.1" y="758.76" width="23.67" height="11.47" fill="#fff4b1"/>
<rect x="346.77" y="758.76" width="11.83" height="11.47" fill="#ffe896"/>
<rect x="358.6" y="758.76" width="47.33" height="11.47" fill="#fff4b1"/>
<rect x="110.1" y="770.23" width="11.83" height="11.47" fill="#fff4b1"/>
<rect x="121.93" y="770.23" width="11.83" height="11.47" fill="#ffe896"/>
<rect x="133.77" y="770.23" width="23.67" height="11.47" fill="#fff4b1"/>
<rect x="181.1" y="770.23" width="11.83" height="11.47" fill="#fff4b1"/>
<rect x="192.93" y="770.23" width="11.83" height="11.47" fill="#feaf4b"/>
<rect x="204.77" y="770.23" width="11.83" height="11.47" fill="#fedc7c"/>
<rect x="216.6" y="770.23" width="11.83" height="11.47" fill="#feaf4b"/>
<rect x="228.43" y="770.23" width="11.83" height="11.47" fill="#fec763"/>
<rect x="240.27" y="770.23" width="11.83" height="11.47" fill="#fd9841"/>
<rect x="252.1" y="770.23" width="11.83" height="11.47" fill="#fec763"/>
<rect x="263.93" y="770.23" width="11.83" height="11.47" fill="#fd9841"/>
<rect x="275.77" y="770.23" width="11.83" height="11.47" fill="#feaf4b"/>
<rect x="287.6" y="770.23" width="11.83" height="11.47" fill="#fec763"/>
<rect x="299.43" y="770.23" width="11.83" height="11.47" fill="#fedc7c"/>
<rect x="311.27" y="770.23" width="11.83" height="11.47" fill="#fff4b1"/>
<rect x="323.1" y="770.23" width="11.83" height="11.47" fill="#fc532b"/>
<rect x="334.93" y="770.23" width="23.67" height="11.47" fill="#ffe896"/>
<rect x="394.1" y="770.23" width="11.83" height="11.47" fill="#fff4b1"/>
<rect x="121.93" y="781.7" width="11.83" height="11.47" fill="#fff4b1"/>
<rect x="145.6" y="781.7" width="23.67" height="11.47" fill="#fff4b1"/>
<rect x="169.27" y="781.7" width="11.83" height="11.47" fill="#ffe896"/>
<rect x="181.1" y="781.7" width="11.83" height="11.47" fill="#fec763"/>
<rect x="192.93" y="781.7" width="11.83" height="11.47" fill="#ffe896"/>
<rect x="204.77" y="781.7" width="23.67" height="11.47" fill="#fff4b1"/>
<rect x="228.43" y="781.7" width="11.83" height="11.47" fill="#feaf4b"/>
<rect x="240.27" y="781.7" width="11.83" height="11.47" fill="#fec763"/>
<rect x="252.1" y="781.7" width="23.67" height="11.47" fill="#feaf4b"/>
<rect x="275.77" y="781.7" width="11.83" height="11.47" fill="#fedc7c"/>
<rect x="287.6" y="781.7" width="11.83" height="11.47" fill="#feaf4b"/>
<rect x="299.43" y="781.7" width="11.83" height="11.47" fill="#fedc7c"/>
<rect x="311.27" y="781.7" width="11.83" height="11.47" fill="#fff4b1"/>
<rect x="323.1" y="781.7" width="11.83" height="11.47" fill="#ffe896"/>
<rect x="334.93" y="781.7" width="11.83" height="11.47" fill="#fff4b1"/>
<rect x="346.77" y="781.7" width="11.83" height="11.47" fill="#fedc7c"/>
<rect x="370.43" y="781.7" width="23.67" height="11.47" fill="#fff4b1"/>
<rect x="417.77" y="781.7" width="11.83" height="11.47" fill="#fff4b1"/>
<rect x="145.6" y="793.17" width="23.67" height="11.47" fill="#fff4b1"/>
<rect x="169.27" y="793.17" width="11.83" height="11.47" fill="#ffe896"/>
<rect x="181.1" y="793.17" width="11.83" height="11.47" fill="#fec763"/>
<rect x="192.93" y="793.17" width="11.83" height="11.47" fill="#fff4b1"/>
<rect x="204.77" y="793.17" width="23.67" height="11.47" fill="#ffe896"/>
<rect x="228.43" y="793.17" width="11.83" height="11.47" fill="#feaf4b"/>
<rect x="240.27" y="793.17" width="35.5" height="11.47" fill="#fff4b1"/>
<rect x="275.77" y="793.17" width="11.83" height="11.47" fill="#feaf4b"/>
<rect x="287.6" y="793.17" width="11.83" height="11.47" fill="#fff4b1"/>
<rect x="299.43" y="793.17" width="11.83" height="11.47" fill="#fd9841"/>
<rect x="323.1" y="793.17" width="11.83" height="11.47" fill="#fedc7c"/>
<rect x="334.93" y="793.17" width="11.83" height="11.47" fill="#ffe896"/>
<rect x="394.1" y="793.17" width="11.83" height="11.47" fill="#fff4b1"/>
<rect x="133.77" y="804.64" width="11.83" height="11.47" fill="#ffe896"/>
<rect x="157.43" y="804.64" width="11.83" height="11.47" fill="#fff4b1"/>
<rect x="181.1" y="804.64" width="47.33" height="11.47" fill="#fff4b1"/>
<rect x="228.43" y="804.64" width="11.83" height="11.47" fill="#fec763"/>
<rect x="240.27" y="804.64" width="11.83" height="11.47" fill="#fedc7c"/>
<rect x="252.1" y="804.64" width="11.83" height="11.47" fill="#ffe896"/>
<rect x="275.77" y="804.64" width="11.83" height="11.47" fill="#fff4b1"/>
<rect x="287.6" y="804.64" width="23.67" height="11.47" fill="#ffe896"/>
<rect x="311.27" y="804.64" width="11.83" height="11.47" fill="#feaf4b"/>
<rect x="323.1" y="804.64" width="11.83" height="11.47" fill="#fff4b1"/>
<rect x="370.43" y="804.64" width="11.83" height="11.47" fill="#fff4b1"/>
<rect x="394.1" y="804.64" width="11.83" height="11.47" fill="#fff4b1"/>
<rect x="133.77" y="816.11" width="11.83" height="11.47" fill="#fff4b1"/>
<rect x="157.43" y="816.11" width="11.83" height="11.47" fill="#fedc7c"/>
<rect x="192.93" y="816.11" width="11.83" height="11.47" fill="#fff4b1"/>
<rect x="216.6" y="816.11" width="23.67" height="11.47" fill="#ffe896"/>
<rect x="240.27" y="816.11" width="23.67" height="11.47" fill="#fff4b1"/>
<rect x="275.77" y="816.11" width="11.83" height="11.47" fill="#fec763"/>
<rect x="287.6" y="816.11" width="11.83" height="11.47" fill="#ffe896"/>
<rect x="299.43" y="816.11" width="59.17" height="11.47" fill="#fff4b1"/>
<rect x="133.77" y="827.58" width="11.83" height="11.47" fill="#fff4b1"/>
<rect x="169.27" y="827.58" width="11.83" height="11.47" fill="#ffe896"/>
<rect x="192.93" y="827.58" width="11.83" height="11.47" fill="#fff4b1"/>
<rect x="228.43" y="827.58" width="11.83" height="11.47" fill="#fff4b1"/>
<rect x="252.1" y="827.58" width="11.83" height="11.47" fill="#fff4b1"/>
<rect x="275.77" y="827.58" width="35.5" height="11.47" fill="#fff4b1"/>
<rect x="323.1" y="827.58" width="23.67" height="11.47" fill="#fff4b1"/>
<rect x="358.6" y="827.58" width="11.83" height="11.47" fill="#fff4b1"/>
<rect x="169.27" y="839.05" width="11.83" height="11.47" fill="#ffe896"/>
<rect x="228.43" y="839.05" width="35.5" height="11.47" fill="#ffe896"/>
<rect x="299.43" y="839.05" width="11.83" height="11.47" fill="#ffe896"/>
<rect x="334.93" y="839.05" width="11.83" height="11.47" fill="#fff4b1"/>
<rect x="204.77" y="850.52" width="11.83" height="11.47" fill="#fff4b1"/>
<rect x="240.27" y="850.52" width="11.83" height="11.47" fill="#fec763"/>
<rect x="263.93" y="850.52" width="11.83" height="11.47" fill="#fff4b1"/>
<rect x="334.93" y="850.52" width="11.83" height="11.47" fill="#fff4b1"/>
<rect x="169.27" y="861.99" width="11.83" height="11.47" fill="#fff4b1"/>
<rect x="181.1" y="861.99" width="11.83" height="11.47" fill="#ffe896"/>
<rect x="216.6" y="861.99" width="11.83" height="11.47" fill="#fff4b1"/>
<rect x="311.27" y="861.99" width="11.83" height="11.47" fill="#fff4b1"/>
<rect x="346.77" y="873.46" width="11.83" height="11.47" fill="#fff4b1"/>
<rect x="275.77" y="884.93" width="11.83" height="11.47" fill="#fff4b1"/>
<rect x="299.43" y="884.93" width="11.83" height="11.47" fill="#fff4b1"/>
</g>
<rect x="74.6" y="552.3" width="355" height="344.1" fill="none" stroke="#000" stroke-width="4.86"/>
<line x1="131.8" x2="131.8" y1="898.83" y2="902.73" stroke="#000" stroke-width="1.4"/>
<text x="131.8" y="922.2" font-size="17.0" text-anchor="middle">−2</text>
<line x1="239.2" x2="239.2" y1="898.83" y2="902.73" stroke="#000" stroke-width="1.4"/>
<text x="239.2" y="922.2" font-size="17.0" text-anchor="middle">0</text>
<line x1="346.6" x2="346.6" y1="898.83" y2="902.73" stroke="#000" stroke-width="1.4"/>
<text x="346.6" y="922.2" font-size="17.0" text-anchor="middle">2</text>
<line x1="68.27" x2="72.17" y1="566.6" y2="566.6" stroke="#000" stroke-width="1.4"/>
<text x="62.4" y="572.8" font-size="17.0" text-anchor="end">3</text>
<line x1="68.27" x2="72.17" y1="620.55" y2="620.55" stroke="#000" stroke-width="1.4"/>
<text x="62.4" y="626.75" font-size="17.0" text-anchor="end">2</text>
<line x1="68.27" x2="72.17" y1="674.5" y2="674.5" stroke="#000" stroke-width="1.4"/>
<text x="62.4" y="680.7" font-size="17.0" text-anchor="end">1</text>
<line x1="68.27" x2="72.17" y1="728.45" y2="728.45" stroke="#000" stroke-width="1.4"/>
<text x="62.4" y="734.65" font-size="17.0" text-anchor="end">0</text>
<line x1="68.27" x2="72.17" y1="782.4" y2="782.4" stroke="#000" stroke-width="1.4"/>
<text x="62.4" y="788.6" font-size="17.0" text-anchor="end">−1</text>
<line x1="68.27" x2="72.17" y1="836.35" y2="836.35" stroke="#000" stroke-width="1.4"/>
<text x="62.4" y="842.55" font-size="17.0" text-anchor="end">−2</text>
<line x1="68.27" x2="72.17" y1="890.3" y2="890.3" stroke="#000" stroke-width="1.4"/>
<text x="62.4" y="896.5" font-size="17.0" text-anchor="end">−3</text>
<text x="252.5" y="542.3" font-size="22.2" letter-spacing="0.28" text-anchor="middle">b=0.05, No. of matrices=1</text>
<text x="252.9" y="950.1" font-size="22.2" letter-spacing="0.5" text-anchor="middle">Re z</text>
<text transform="translate(24.9,724.35) rotate(-90)" font-size="22.2" letter-spacing="0.5" text-anchor="middle">Im z</text>
<rect x="452.1" y="486.4" width="23.6" height="475.7" fill="url(#g)" stroke="#000" stroke-width="4.86"/>
<line x1="478.13" x2="482.03" y1="962.1" y2="962.1" stroke="#000" stroke-width="1.4"/>
<text x="488" y="968.7" font-size="17.0">0</text>
<line x1="478.13" x2="482.03" y1="888.92" y2="888.92" stroke="#000" stroke-width="1.4"/>
<text x="488" y="895.52" font-size="17.0">2</text>
<line x1="478.13" x2="482.03" y1="815.73" y2="815.73" stroke="#000" stroke-width="1.4"/>
<text x="488" y="822.33" font-size="17.0">4</text>
<line x1="478.13" x2="482.03" y1="742.55" y2="742.55" stroke="#000" stroke-width="1.4"/>
<text x="488" y="749.15" font-size="17.0">6</text>
<line x1="478.13" x2="482.03" y1="669.36" y2="669.36" stroke="#000" stroke-width="1.4"/>
<text x="488" y="675.96" font-size="17.0">8</text>
<line x1="478.13" x2="482.03" y1="596.18" y2="596.18" stroke="#000" stroke-width="1.4"/>
<text x="488" y="602.78" font-size="17.0">10</text>
<line x1="478.13" x2="482.03" y1="522.99" y2="522.99" stroke="#000" stroke-width="1.4"/>
<text x="488" y="529.59" font-size="17.0">12</text>
<g shape-rendering="crispEdges">
<rect x="607.2" y="552.3" width="355" height="344.1" fill="#ffffcc"/>
<rect x="725.53" y="552.3" width="11.83" height="11.47" fill="#fff9be"/>
<rect x="784.7" y="552.3" width="11.83" height="11.47" fill="#fff9be"/>
<rect x="855.7" y="552.3" width="11.83" height="11.47" fill="#fff9be"/>
<rect x="701.87" y="563.77" width="11.83" height="11.47" fill="#fff9be"/>
<rect x="749.2" y="563.77" width="11.83" height="11.47" fill="#fff9be"/>
<rect x="772.87" y="563.77" width="11.83" height="11.47" fill="#fff9be"/>
<rect x="701.87" y="575.24" width="11.83" height="11.47" fill="#fff9be"/>
<rect x="749.2" y="575.24" width="35.5" height="11.47" fill="#fff9be"/>
<rect x="796.53" y="575.24" width="11.83" height="11.47" fill="#fff4b0"/>
<rect x="808.37" y="575.24" width="11.83" height="11.47" fill="#fff9be"/>
<rect x="832.03" y="575.24" width="11.83" height="11.47" fill="#fff9be"/>
<rect x="713.7" y="586.71" width="23.67" height="11.47" fill="#fff9be"/>
<rect x="749.2" y="586.71" width="11.83" height="11.47" fill="#fff4b0"/>
<rect x="772.87" y="586.71" width="47.33" height="11.47" fill="#fff9be"/>
<rect x="832.03" y="586.71" width="35.5" height="11.47" fill="#fff9be"/>
<rect x="642.7" y="598.18" width="11.83" height="11.47" fill="#fff9be"/>
<rect x="701.87" y="598.18" width="11.83" height="11.47" fill="#fff9be"/>
<rect x="725.53" y="598.18" width="11.83" height="11.47" fill="#fff4b0"/>
<rect x="737.37" y="598.18" width="59.17" height="11.47" fill="#fff9be"/>
<rect x="796.53" y="598.18" width="23.67" height="11.47" fill="#fff4b0"/>
<rect x="820.2" y="598.18" width="11.83" height="11.47" fill="#fff9be"/>
<rect x="832.03" y="598.18" width="11.83" height="11.47" fill="#fff4b0"/>
<rect x="843.87" y="598.18" width="11.83" height="11.47" fill="#fff9be"/>
<rect x="654.53" y="609.65" width="11.83" height="11.47" fill="#fff9be"/>
<rect x="690.03" y="609.65" width="11.83" height="11.47" fill="#fff4b0"/>
<rect x="701.87" y="609.65" width="23.67" height="11.47" fill="#fff9be"/>
<rect x="737.37" y="609.65" width="23.67" height="11.47" fill="#fff9be"/>
<rect x="761.03" y="609.65" width="11.83" height="11.47" fill="#fff4b0"/>
<rect x="772.87" y="609.65" width="11.83" height="11.47" fill="#fedf83"/>
<rect x="796.53" y="609.65" width="23.67" height="11.47" fill="#fff4b0"/>
<rect x="820.2" y="609.65" width="35.5" height="11.47" fill="#fff9be"/>
<rect x="855.7" y="609.65" width="11.83" height="11.47" fill="#fff4b0"/>
<rect x="666.37" y="621.12" width="23.67" height="11.47" fill="#fff9be"/>
<rect x="701.87" y="621.12" width="23.67" height="11.47" fill="#fff4b0"/>
<rect x="725.53" y="621.12" width="35.5" height="11.47" fill="#ffea9b"/>
<rect x="761.03" y="621.12" width="11.83" height="11.47" fill="#fff9be"/>
<rect x="772.87" y="621.12" width="11.83" height="11.47" fill="#ffea9b"/>
<rect x="784.7" y="621.12" width="23.67" height="11.47" fill="#fedf83"/>
<rect x="808.37" y="621.12" width="11.83" height="11.47" fill="#ffea9b"/>
<rect x="820.2" y="621.12" width="11.83" height="11.47" fill="#fff4b0"/>
<rect x="832.03" y="621.12" width="11.83" height="11.47" fill="#ffea9b"/>
<rect x="843.87" y="621.12" width="11.83" height="11.47" fill="#fff9be"/>
<rect x="867.53" y="621.12" width="11.83" height="11.47" fill="#fff9be"/>
<rect x="891.2" y="621.12" width="11.83" height="11.47" fill="#fff9be"/>
<rect x="607.2" y="632.59" width="11.83" height="11.47" fill="#fff9be"/>
<rect x="654.53" y="632.59" width="11.83" height="11.47" fill="#fff9be"/>
<rect x="666.37" y="632.59" width="11.83" height="11.47" fill="#fff4b0"/>
<rect x="678.2" y="632.59" width="23.67" height="11.47" fill="#fff9be"/>
<rect x="701.87" y="632.59" width="11.83" height="11.47" fill="#fff4b0"/>
<rect x="713.7" y="632.59" width="47.33" height="11.47" fill="#ffea9b"/>
<rect x="761.03" y="632.59" width="11.83" height="11.47" fill="#fedf83"/>
<rect x="772.87" y="632.59" width="23.67" height="11.47" fill="#ffea9b"/>
<rect x="796.53" y="632.59" width="11.83" height="11.47" fill="#fedf83"/>
<rect x="808.37" y="632.59" width="11.83" height="11.47" fill="#ffea9b"/>
<rect x="820.2" y="632.59" width="23.67" height="11.47" fill="#fff4b0"/>
<rect x="843.87" y="632.59" width="11.83" height="11.47" fill="#fff9be"/>
<rect x="855.7" y="632.59" width="11.83" height="11.47" fill="#ffea9b"/>
<rect x="879.37" y="632.59" width="11.83" height="11.47" fill="#fff4b0"/>
<rect x="903.03" y="632.59" width="11.83" height="11.47" fill="#fff9be"/>
<rect x="654.53" y="644.06" width="11.83" height="11.47" fill="#fff9be"/>
<rect x="666.37" y="644.06" width="11.83" height="11.47" fill="#fff4b0"/>
<rect x="678.2" y="644.06" width="11.83" height="11.47" fill="#fff9be"/>
<rect x="690.03" y="644.06" width="11.83" height="11.47" fill="#ffea9b"/>
<rect x="701.87" y="644.06" width="11.83" height="11.47" fill="#fedf83"/>
<rect x="713.7" y="644.06" width="23.67" height="11.47" fill="#ffea9b"/>
<rect x="737.37" y="644.06" width="11.83" height="11.47" fill="#fedf83"/>
<rect x="749.2" y="644.06" width="11.83" height="11.47" fill="#ffea9b"/>
<rect x="761.03" y="644.06" width="11.83" height="11.47" fill="#fedf83"/>
<rect x="772.87" y="644.06" width="11.83" height="11.47" fill="#feb24c"/>
<rect x="784.7" y="644.06" width="47.33" height="11.47" fill="#ffea9b"/>
<rect x="832.03" y="644.06" width="35.5" height="11.47" fill="#fff4b0"/>
<rect x="867.53" y="644.06" width="23.67" height="11.47" fill="#fff9be"/>
<rect x="914.87" y="644.06" width="23.67" height="11.47" fill="#fff9be"/>
<rect x="630.87" y="655.53" width="11.83" height="11.47" fill="#fff4b0"/>
<rect x="642.7" y="655.53" width="11.83" height="11.47" fill="#fff9be"/>
<rect x="654.53" y="655.53" width="23.67" height="11.47" fill="#fff4b0"/>
<rect x="678.2" y="655.53" width="11.83" height="11.47" fill="#fff9be"/>
<rect x="690.03" y="655.53" width="11.83" height="11.47" fill="#fedf83"/>
<rect x="701.87" y="655.53" width="11.83" height="11.47" fill="#ffea9b"/>
<rect x="713.7" y="655.53" width="35.5" height="11.47" fill="#fedf83"/>
<rect x="749.2" y="655.53" width="11.83" height="11.47" fill="#feb24c"/>
<rect x="761.03" y="655.53" width="11.83" height="11.47" fill="#fd9f44"/>
<rect x="772.87" y="655.53" width="11.83" height="11.47" fill="#feca66"/>
<rect x="784.7" y="655.53" width="11.83" height="11.47" fill="#feb24c"/>
<rect x="796.53" y="655.53" width="11.83" height="11.47" fill="#fedf83"/>
<rect x="808.37" y="655.53" width="11.83" height="11.47" fill="#feca66"/>
<rect x="820.2" y="655.53" width="11.83" height="11.47" fill="#fff4b0"/>
<rect x="832.03" y="655.53" width="11.83" height="11.47" fill="#fedf83"/>
<rect x="843.87" y="655.53" width="11.83" height="11.47" fill="#ffea9b"/>
<rect x="855.7" y="655.53" width="23.67" height="11.47" fill="#fff4b0"/>
<rect x="879.37" y="655.53" width="47.33" height="11.47" fill="#fff9be"/>
<rect x="619.03" y="667" width="11.83" height="11.47" fill="#fff9be"/>
<rect x="642.7" y="667" width="11.83" height="11.47" fill="#fff9be"/>
<rect x="654.53" y="667" width="11.83" height="11.47" fill="#ffea9b"/>
<rect x="666.37" y="667" width="11.83" height="11.47" fill="#fff9be"/>
<rect x="678.2" y="667" width="11.83" height="11.47" fill="#ffea9b"/>
<rect x="690.03" y="667" width="11.83" height="11.47" fill="#fff4b0"/>
<rect x="701.87" y="667" width="11.83" height="11.47" fill="#ffea9b"/>
<rect x="713.7" y="667" width="11.83" height="11.47" fill="#fedf83"/>
<rect x="725.53" y="667" width="23.67" height="11.47" fill="#feb24c"/>
<rect x="749.2" y="667" width="11.83" height="11.47" fill="#fedf83"/>
<rect x="761.03" y="667" width="11.83" height="11.47" fill="#fc5d2e"/>
<rect x="772.87" y="667" width="23.67" height="11.47" fill="#feb24c"/>
<rect x="796.53" y="667" width="11.83" height="11.47" fill="#fd883b"/>
<rect x="808.37" y="667" width="11.83" height="11.47" fill="#feca66"/>
<rect x="820.2" y="667" width="11.83" height="11.47" fill="#ffea9b"/>
<rect x="832.03" y="667" width="11.83" height="11.47" fill="#feca66"/>
<rect x="843.87" y="667" width="23.67" height="11.47" fill="#fff4b0"/>
<rect x="867.53" y="667" width="11.83" height="11.47" fill="#fff9be"/>
<rect x="891.2" y="667" width="11.83" height="11.47" fill="#fff9be"/>
<rect x="630.87" y="678.47" width="23.67" height="11.47" fill="#fff9be"/>
<rect x="654.53" y="678.47" width="23.67" height="11.47" fill="#ffea9b"/>
<rect x="678.2" y="678.47" width="11.83" height="11.47" fill="#fff4b0"/>
<rect x="690.03" y="678.47" width="11.83" height="11.47" fill="#ffea9b"/>
<rect x="701.87" y="678.47" width="11.83" height="11.47" fill="#fff4b0"/>
<rect x="713.7" y="678.47" width="11.83" height="11.47" fill="#feb24c"/>
<rect x="725.53" y="678.47" width="11.83" height="11.47" fill="#fd9f44"/>
<rect x="737.37" y="678.47" width="11.83" height="11.47" fill="#fedf83"/>
<rect x="749.2" y="678.47" width="23.67" height="11.47" fill="#feb24c"/>
<rect x="772.87" y="678.47" width="11.83" height="11.47" fill="#fedf83"/>
<rect x="784.7" y="678.47" width="11.83" height="11.47" fill="#fd883b"/>
<rect x="796.53" y="678.47" width="11.83" height="11.47" fill="#fc5d2e"/>
<rect x="808.37" y="678.47" width="11.83" height="11.47" fill="#feb24c"/>
<rect x="820.2" y="678.47" width="11.83" height="11.47" fill="#feca66"/>
<rect x="832.03" y="678.47" width="11.83" height="11.47" fill="#fedf83"/>
<rect x="843.87" y="678.47" width="11.83" height="11.47" fill="#ffea9b"/>
<rect x="855.7" y="678.47" width="11.83" height="11.47" fill="#fff4b0"/>
<rect x="879.37" y="678.47" width="11.83" height="11.47" fill="#fff9be"/>
<rect x="891.2" y="678.47" width="11.83" height="11.47" fill="#fff4b0"/>
<rect x="903.03" y="678.47" width="11.83" height="11.47" fill="#fff9be"/>
<rect x="642.7" y="689.94" width="11.83" height="11.47" fill="#fff9be"/>
<rect x="654.53" y="689.94" width="11.83" height="11.47" fill="#fff4b0"/>
<rect x="666.37" y="689.94" width="11.83" height="11.47" fill="#ffea9b"/>
<rect x="678.2" y="689.94" width="11.83" height="11.47" fill="#fff4b0"/>
<rect x="690.03" y="689.94" width="11.83" height="11.47" fill="#ffea9b"/>
<rect x="701.87" y="689.94" width="11.83" height="11.47" fill="#fedf83"/>
<rect x="713.7" y="689.94" width="23.67" height="11.47" fill="#fd883b"/>
<rect x="737.37" y="689.94" width="23.67" height="11.47" fill="#fc5d2e"/>
<rect x="761.03" y="689.94" width="11.83" height="11.47" fill="#fd883b"/>
<rect x="772.87" y="689.94" width="11.83" height="11.47" fill="#feca66"/>
<rect x="784.7" y="689.94" width="11.83" height="11.47" fill="#ec2c21"/>
<rect x="796.53" y="689.94" width="11.83" height="11.47" fill="#fd883b"/>
<rect x="808.37" y="689.94" width="11.83" height="11.47" fill="#fc5d2e"/>
<rect x="820.2" y="689.94" width="11.83" height="11.47" fill="#fedf83"/>
<rect x="832.03" y="689.94" width="11.83" height="11.47" fill="#feca66"/>
<rect x="843.87" y="689.94" width="11.83" height="11.47" fill="#ffea9b"/>
<rect x="855.7" y="689.94" width="11.83" height="11.47" fill="#fedf83"/>
<rect x="867.53" y="689.94" width="11.83" height="11.47" fill="#fff9be"/>
<rect x="891.2" y="689.94" width="11.83" height="11.47" fill="#fff9be"/>
<rect x="642.7" y="701.41" width="11.83" height="11.47" fill="#fff4b0"/>
<rect x="666.37" y="701.41" width="11.83" height="11.47" fill="#fff4b0"/>
<rect x="690.03" y="701.41" width="11.83" height="11.47" fill="#fff4b0"/>
<rect x="701.87" y="701.41" width="11.83" height="11.47" fill="#feb24c"/>
<rect x="713.7" y="701.41" width="11.83" height="11.47" fill="#fedf83"/>
<rect x="725.53" y="701.41" width="11.83" height="11.47" fill="#fd9f44"/>
<rect x="737.37" y="701.41" width="11.83" height="11.47" fill="#fc5d2e"/>
<rect x="749.2" y="701.41" width="11.83" height="11.47" fill="#fd9f44"/>
<rect x="761.03" y="701.41" width="11.83" height="11.47" fill="#fc5d2e"/>
<rect x="772.87" y="701.41" width="11.83" height="11.47" fill="#fd9f44"/>
<rect x="784.7" y="701.41" width="11.83" height="11.47" fill="#fd883b"/>
<rect x="796.53" y="701.41" width="11.83" height="11.47" fill="#feb24c"/>
<rect x="808.37" y="701.41" width="23.67" height="11.47" fill="#fd883b"/>
<rect x="832.03" y="701.41" width="11.83" height="11.47" fill="#feb24c"/>
<rect x="843.87" y="701.41" width="23.67" height="11.47" fill="#ffea9b"/>
<rect x="867.53" y="701.41" width="23.67" height="11.47" fill="#fff4b0"/>
<rect x="891.2" y="701.41" width="11.83" height="11.47" fill="#fff9be"/>
<rect x="926.7" y="701.41" width="11.83" height="11.47" fill="#fff9be"/>
<rect x="642.7" y="712.88" width="11.83" height="11.47" fill="#fff9be"/>
<rect x="654.53" y="712.88" width="11.83" height="11.47" fill="#fff4b0"/>
<rect x="666.37" y="712.88" width="35.5" height="11.47" fill="#ffea9b"/>
<rect x="701.87" y="712.88" width="23.67" height="11.47" fill="#feb24c"/>
<rect x="725.53" y="712.88" width="11.83" height="11.47" fill="#feca66"/>
<rect x="737.37" y="712.88" width="11.83" height="11.47" fill="#feb24c"/>
<rect x="749.2" y="712.88" width="11.83" height="11.47" fill="#fd9f44"/>
<rect x="761.03" y="712.88" width="11.83" height="11.47" fill="#fd883b"/>
<rect x="772.87" y="712.88" width="23.67" height="11.47" fill="#fc5d2e"/>
<rect x="796.53" y="712.88" width="11.83" height="11.47" fill="#fd883b"/>
<rect x="808.37" y="712.88" width="11.83" height="11.47" fill="#fc5d2e"/>
<rect x="820.2" y="712.88" width="11.83" height="11.47" fill="#fff4b0"/>
<rect x="832.03" y="712.88" width="11.83" height="11.47" fill="#fedf83"/>
<rect x="843.87" y="712.88" width="11.83" height="11.47" fill="#feb24c"/>
<rect x="855.7" y="712.88" width="11.83" height="11.47" fill="#fedf83"/>
<rect x="867.53" y="712.88" width="11.83" height="11.47" fill="#ffea9b"/>
<rect x="879.37" y="712.88" width="11.83" height="11.47" fill="#fff4b0"/>
<rect x="607.2" y="724.35" width="11.83" height="11.47" fill="#fff4b0"/>
<rect x="619.03" y="724.35" width="23.67" height="11.47" fill="#fff9be"/>
<rect x="642.7" y="724.35" width="11.83" height="11.47" fill="#fff4b0"/>
<rect x="654.53" y="724.35" width="11.83" height="11.47" fill="#fff9be"/>
<rect x="666.37" y="724.35" width="11.83" height="11.47" fill="#fff4b0"/>
<rect x="678.2" y="724.35" width="23.67" height="11.47" fill="#ffea9b"/>
<rect x="701.87" y="724.35" width="23.67" height="11.47" fill="#fedf83"/>
<rect x="725.53" y="724.35" width="11.83" height="11.47" fill="#fd883b"/>
<rect x="737.37" y="724.35" width="11.83" height="11.47" fill="#fd9f44"/>
<rect x="749.2" y="724.35" width="11.83" height="11.47" fill="#fc5d2e"/>
<rect x="761.03" y="724.35" width="11.83" height="11.47" fill="#fd9f44"/>
<rect x="772.87" y="724.35" width="11.83" height="11.47" fill="#800026"/>
<rect x="784.7" y="724.35" width="11.83" height="11.47" fill="#fc5d2e"/>
<rect x="796.53" y="724.35" width="11.83" height="11.47" fill="#fd9f44"/>
<rect x="808.37" y="724.35" width="11.83" height="11.47" fill="#fedf83"/>
<rect x="820.2" y="724.35" width="11.83" height="11.47" fill="#fd9f44"/>
<rect x="832.03" y="724.35" width="23.67" height="11.47" fill="#fedf83"/>
<rect x="855.7" y="724.35" width="23.67" height="11.47" fill="#ffea9b"/>
<rect x="879.37" y="724.35" width="11.83" height="11.47" fill="#fedf83"/>
<rect x="891.2" y="724.35" width="11.83" height="11.47" fill="#fff9be"/>
<rect x="903.03" y="724.35" width="11.83" height="11.47" fill="#ffea9b"/>
<rect x="607.2" y="735.82" width="11.83" height="11.47" fill="#fff9be"/>
<rect x="642.7" y="735.82" width="11.83" height="11.47" fill="#fff9be"/>
<rect x="654.53" y="735.82" width="23.67" height="11.47" fill="#ffea9b"/>
<rect x="678.2" y="735.82" width="11.83" height="11.47" fill="#fedf83"/>
<rect x="690.03" y="735.82" width="11.83" height="11.47" fill="#feca66"/>
<rect x="701.87" y="735.82" width="11.83" height="11.47" fill="#ffea9b"/>
<rect x="713.7" y="735.82" width="23.67" height="11.47" fill="#fd883b"/>
<rect x="737.37" y="735.82" width="11.83" height="11.47" fill="#fc5d2e"/>
<rect x="749.2" y="735.82" width="11.83" height="11.47" fill="#d9131f"/>
<rect x="761.03" y="735.82" width="11.83" height="11.47" fill="#fd883b"/>
<rect x="772.87" y="735.82" width="11.83" height="11.47" fill="#c10325"/>
<rect x="784.7" y="735.82" width="11.83" height="11.47" fill="#fd883b"/>
<rect x="796.53" y="735.82" width="23.67" height="11.47" fill="#fd9f44"/>
<rect x="820.2" y="735.82" width="11.83" height="11.47" fill="#feca66"/>
<rect x="832.03" y="735.82" width="35.5" height="11.47" fill="#fedf83"/>
<rect x="867.53" y="735.82" width="11.83" height="11.47" fill="#ffea9b"/>
<rect x="879.37" y="735.82" width="23.67" height="11.47" fill="#fff4b0"/>
<rect x="914.87" y="735.82" width="35.5" height="11.47" fill="#fff9be"/>
<rect x="630.87" y="747.29" width="11.83" height="11.47" fill="#fff9be"/>
<rect x="642.7" y="747.29" width="11.83" height="11.47" fill="#ffea9b"/>
<rect x="654.53" y="747.29" width="11.83" height="11.47" fill="#fff4b0"/>
<rect x="666.37" y="747.29" width="23.67" height="11.47" fill="#fedf83"/>
<rect x="690.03" y="747.29" width="23.67" height="11.47" fill="#ffea9b"/>
<rect x="713.7" y="747.29" width="11.83" height="11.47" fill="#fd883b"/>
<rect x="725.53" y="747.29" width="11.83" height="11.47" fill="#fd9f44"/>
<rect x="737.37" y="747.29" width="23.67" height="11.47" fill="#fc5d2e"/>
<rect x="761.03" y="747.29" width="11.83" height="11.47" fill="#fd883b"/>
<rect x="772.87" y="747.29" width="11.83" height="11.47" fill="#ec2c21"/>
<rect x="784.7" y="747.29" width="11.83" height="11.47" fill="#d9131f"/>
<rect x="796.53" y="747.29" width="11.83" height="11.47" fill="#fd9f44"/>
<rect x="808.37" y="747.29" width="11.83" height="11.47" fill="#fd883b"/>
<rect x="820.2" y="747.29" width="11.83" height="11.47" fill="#feb24c"/>
<rect x="832.03" y="747.29" width="11.83" height="11.47" fill="#feca66"/>
<rect x="843.87" y="747.29" width="11.83" height="11.47" fill="#feb24c"/>
<rect x="855.7" y="747.29" width="11.83" height="11.47" fill="#fff4b0"/>
<rect x="867.53" y="747.29" width="11.83" height="11.47" fill="#ffea9b"/>
<rect x="879.37" y="747.29" width="11.83" height="11.47" fill="#fff9be"/>
<rect x="607.2" y="758.76" width="11.83" height="11.47" fill="#fff9be"/>
<rect x="642.7" y="758.76" width="11.83" height="11.47" fill="#fff9be"/>
<rect x="654.53" y="758.76" width="11.83" height="11.47" fill="#fff4b0"/>
<rect x="666.37" y="758.76" width="11.83" height="11.47" fill="#ffea9b"/>
<rect x="678.2" y="758.76" width="11.83" height="11.47" fill="#fff4b0"/>
<rect x="690.03" y="758.76" width="11.83" height="11.47" fill="#ffea9b"/>
<rect x="701.87" y="758.76" width="11.83" height="11.47" fill="#fedf83"/>
<rect x="713.7" y="758.76" width="11.83" height="11.47" fill="#feca66"/>
<rect x="725.53" y="758.76" width="11.83" height="11.47" fill="#fc5d2e"/>
<rect x="737.37" y="758.76" width="35.5" height="11.47" fill="#fd9f44"/>
<rect x="772.87" y="758.76" width="11.83" height="11.47" fill="#fd883b"/>
<rect x="784.7" y="758.76" width="11.83" height="11.47" fill="#c10325"/>
<rect x="796.53" y="758.76" width="11.83" height="11.47" fill="#fd883b"/>
<rect x="808.37" y="758.76" width="11.83" height="11.47" fill="#fc5d2e"/>
<rect x="820.2" y="758.76" width="11.83" height="11.47" fill="#ffea9b"/>
<rect x="832.03" y="758.76" width="11.83" height="11.47" fill="#fedf83"/>
<rect x="843.87" y="758.76" width="23.67" height="11.47" fill="#ffea9b"/>
<rect x="867.53" y="758.76" width="11.83" height="11.47" fill="#fedf83"/>
<rect x="879.37" y="758.76" width="11.83" height="11.47" fill="#fff9be"/>
<rect x="642.7" y="770.23" width="11.83" height="11.47" fill="#ffea9b"/>
<rect x="654.53" y="770.23" width="23.67" height="11.47" fill="#fff4b0"/>
<rect x="678.2" y="770.23" width="23.67" height="11.47" fill="#fff9be"/>
<rect x="701.87" y="770.23" width="11.83" height="11.47" fill="#ffea9b"/>
<rect x="713.7" y="770.23" width="23.67" height="11.47" fill="#feb24c"/>
<rect x="737.37" y="770.23" width="11.83" height="11.47" fill="#fd9f44"/>
<rect x="749.2" y="770.23" width="11.83" height="11.47" fill="#fd883b"/>
<rect x="761.03" y="770.23" width="11.83" height="11.47" fill="#feb24c"/>
<rect x="772.87" y="770.23" width="11.83" height="11.47" fill="#fc5d2e"/>
<rect x="784.7" y="770.23" width="23.67" height="11.47" fill="#fd883b"/>
<rect x="808.37" y="770.23" width="11.83" height="11.47" fill="#fd9f44"/>
<rect x="820.2" y="770.23" width="11.83" height="11.47" fill="#fedf83"/>
<rect x="832.03" y="770.23" width="11.83" height="11.47" fill="#fd9f44"/>
<rect x="843.87" y="770.23" width="11.83" height="11.47" fill="#ffea9b"/>
<rect x="855.7" y="770.23" width="35.5" height="11.47" fill="#fff4b0"/>
<rect x="891.2" y="770.23" width="35.5" height="11.47" fill="#fff9be"/>
<rect x="642.7" y="781.7" width="11.83" height="11.47" fill="#fff9be"/>
<rect x="654.53" y="781.7" width="47.33" height="11.47" fill="#fff4b0"/>
<rect x="701.87" y="781.7" width="23.67" height="11.47" fill="#fedf83"/>
<rect x="725.53" y="781.7" width="11.83" height="11.47" fill="#ffea9b"/>
<rect x="737.37" y="781.7" width="11.83" height="11.47" fill="#feca66"/>
<rect x="749.2" y="781.7" width="11.83" height="11.47" fill="#feb24c"/>
<rect x="761.03" y="781.7" width="23.67" height="11.47" fill="#fd9f44"/>
<rect x="784.7" y="781.7" width="23.67" height="11.47" fill="#feb24c"/>
<rect x="808.37" y="781.7" width="11.83" height="11.47" fill="#fd9f44"/>
<rect x="820.2" y="781.7" width="11.83" height="11.47" fill="#feca66"/>
<rect x="832.03" y="781.7" width="35.5" height="11.47" fill="#ffea9b"/>
<rect x="867.53" y="781.7" width="11.83" height="11.47" fill="#fff4b0"/>
<rect x="879.37" y="781.7" width="23.67" height="11.47" fill="#fff9be"/>
<rect x="914.87" y="781.7" width="11.83" height="11.47" fill="#fff9be"/>
<rect x="642.7" y="793.17" width="11.83" height="11.47" fill="#fff9be"/>
<rect x="654.53" y="793.17" width="11.83" height="11.47" fill="#fff4b0"/>
<rect x="666.37" y="793.17" width="35.5" height="11.47" fill="#fff9be"/>
<rect x="701.87" y="793.17" width="11.83" height="11.47" fill="#fedf83"/>
<rect x="713.7" y="793.17" width="11.83" height="11.47" fill="#feca66"/>
<rect x="725.53" y="793.17" width="94.67" height="11.47" fill="#fedf83"/>
<rect x="820.2" y="793.17" width="11.83" height="11.47" fill="#ffea9b"/>
<rect x="832.03" y="793.17" width="11.83" height="11.47" fill="#fedf83"/>
<rect x="843.87" y="793.17" width="11.83" height="11.47" fill="#fff4b0"/>
<rect x="855.7" y="793.17" width="11.83" height="11.47" fill="#fff9be"/>
<rect x="891.2" y="793.17" width="23.67" height="11.47" fill="#fff9be"/>
<rect x="690.03" y="804.64" width="23.67" height="11.47" fill="#fff4b0"/>
<rect x="713.7" y="804.64" width="23.67" height="11.47" fill="#ffea9b"/>
<rect x="737.37" y="804.64" width="11.83" height="11.47" fill="#feca66"/>
<rect x="749.2" y="804.64" width="11.83" height="11.47" fill="#feb24c"/>
<rect x="761.03" y="804.64" width="11.83" height="11.47" fill="#fff4b0"/>
<rect x="772.87" y="804.64" width="11.83" height="11.47" fill="#ffea9b"/>
<rect x="784.7" y="804.64" width="11.83" height="11.47" fill="#fff4b0"/>
<rect x="796.53" y="804.64" width="11.83" height="11.47" fill="#feca66"/>
<rect x="808.37" y="804.64" width="11.83" height="11.47" fill="#fff4b0"/>
<rect x="820.2" y="804.64" width="23.67" height="11.47" fill="#ffea9b"/>
<rect x="855.7" y="804.64" width="11.83" height="11.47" fill="#fff9be"/>
<rect x="867.53" y="804.64" width="11.83" height="11.47" fill="#ffea9b"/>
<rect x="879.37" y="804.64" width="11.83" height="11.47" fill="#fff9be"/>
<rect x="891.2" y="804.64" width="11.83" height="11.47" fill="#fff4b0"/>
<rect x="903.03" y="804.64" width="23.67" height="11.47" fill="#fff9be"/>
<rect x="654.53" y="816.11" width="11.83" height="11.47" fill="#fff9be"/>
<rect x="666.37" y="816.11" width="35.5" height="11.47" fill="#fff4b0"/>
<rect x="701.87" y="816.11" width="11.83" height="11.47" fill="#fff9be"/>
<rect x="713.7" y="816.11" width="11.83" height="11.47" fill="#fff4b0"/>
<rect x="725.53" y="816.11" width="11.83" height="11.47" fill="#fff9be"/>
<rect x="737.37" y="816.11" width="11.83" height="11.47" fill="#ffea9b"/>
<rect x="749.2" y="816.11" width="11.83" height="11.47" fill="#fedf83"/>
<rect x="761.03" y="816.11" width="11.83" height="11.47" fill="#fff4b0"/>
<rect x="772.87" y="816.11" width="35.5" height="11.47" fill="#ffea9b"/>
<rect x="808.37" y="816.11" width="11.83" height="11.47" fill="#fff4b0"/>
<rect x="820.2" y="816.11" width="35.5" height="11.47" fill="#ffea9b"/>
<rect x="666.37" y="827.58" width="11.83" height="11.47" fill="#fff9be"/>
<rect x="690.03" y="827.58" width="11.83" height="11.47" fill="#fff4b0"/>
<rect x="713.7" y="827.58" width="11.83" height="11.47" fill="#fff9be"/>
<rect x="749.2" y="827.58" width="11.83" height="11.47" fill="#fff4b0"/>
<rect x="761.03" y="827.58" width="11.83" height="11.47" fill="#fff9be"/>
<rect x="772.87" y="827.58" width="11.83" height="11.47" fill="#fff4b0"/>
<rect x="784.7" y="827.58" width="11.83" height="11.47" fill="#fff9be"/>
<rect x="796.53" y="827.58" width="23.67" height="11.47" fill="#fff4b0"/>
<rect x="820.2" y="827.58" width="11.83" height="11.47" fill="#fff9be"/>
<rect x="832.03" y="827.58" width="35.5" height="11.47" fill="#fff4b0"/>
<rect x="678.2" y="839.05" width="23.67" height="11.47" fill="#fff9be"/>
<rect x="701.87" y="839.05" width="11.83" height="11.47" fill="#ffea9b"/>
<rect x="713.7" y="839.05" width="11.83" height="11.47" fill="#fff4b0"/>
<rect x="725.53" y="839.05" width="11.83" height="11.47" fill="#ffea9b"/>
<rect x="749.2" y="839.05" width="11.83" height="11.47" fill="#fff4b0"/>
<rect x="761.03" y="839.05" width="23.67" height="11.47" fill="#ffea9b"/>
<rect x="784.7" y="839.05" width="11.83" height="11.47" fill="#fff4b0"/>
<rect x="808.37" y="839.05" width="23.67" height="11.47" fill="#ffea9b"/>
<rect x="832.03" y="839.05" width="23.67" height="11.47" fill="#fff9be"/>
<rect x="761.03" y="850.52" width="11.83" height="11.47" fill="#fedf83"/>
<rect x="772.87" y="850.52" width="23.67" height="11.47" fill="#fff4b0"/>
<rect x="796.53" y="850.52" width="47.33" height="11.47" fill="#fff9be"/>
<rect x="843.87" y="850.52" width="11.83" height="11.47" fill="#fff4b0"/>
<rect x="891.2" y="850.52" width="11.83" height="11.47" fill="#fff9be"/>
<rect x="690.03" y="861.99" width="11.83" height="11.47" fill="#fff4b0"/>
<rect x="701.87" y="861.99" width="35.5" height="11.47" fill="#fff9be"/>
<rect x="737.37" y="861.99" width="11.83" height="11.47" fill="#fff4b0"/>
<rect x="749.2" y="861.99" width="11.83" height="11.47" fill="#fff9be"/>
<rect x="784.7" y="861.99" width="11.83" height="11.47" fill="#fff9be"/>
<rect x="891.2" y="861.99" width="11.83" height="11.47" fill="#fff9be"/>
<rect x="784.7" y="873.46" width="11.83" height="11.47" fill="#fff9be"/>
<rect x="820.2" y="873.46" width="11.83" height="11.47" fill="#fff9be"/>
<rect x="843.87" y="873.46" width="11.83" height="11.47" fill="#fff9be"/>
<rect x="796.53" y="884.93" width="23.67" height="11.47" fill="#fff9be"/>
</g>
<rect x="607.2" y="552.3" width="355" height="344.1" fill="none" stroke="#000" stroke-width="4.86"/>
<line x1="664.4" x2="664.4" y1="898.83" y2="902.73" stroke="#000" stroke-width="1.4"/>
<text x="664.4" y="922.2" font-size="17.0" text-anchor="middle">−2</text>
<line x1="771.8" x2="771.8" y1="898.83" y2="902.73" stroke="#000" stroke-width="1.4"/>
<text x="771.8" y="922.2" font-size="17.0" text-anchor="middle">0</text>
<line x1="879.2" x2="879.2" y1="898.83" y2="902.73" stroke="#000" stroke-width="1.4"/>
<text x="879.2" y="922.2" font-size="17.0" text-anchor="middle">2</text>
<line x1="600.87" x2="604.77" y1="566.6" y2="566.6" stroke="#000" stroke-width="1.4"/>
<text x="595" y="572.8" font-size="17.0" text-anchor="end">3</text>
<line x1="600.87" x2="604.77" y1="620.55" y2="620.55" stroke="#000" stroke-width="1.4"/>
<text x="595" y="626.75" font-size="17.0" text-anchor="end">2</text>
<line x1="600.87" x2="604.77" y1="674.5" y2="674.5" stroke="#000" stroke-width="1.4"/>
<text x="595" y="680.7" font-size="17.0" text-anchor="end">1</text>
<line x1="600.87" x2="604.77" y1="728.45" y2="728.45" stroke="#000" stroke-width="1.4"/>
<text x="595" y="734.65" font-size="17.0" text-anchor="end">0</text>
<line x1="600.87" x2="604.77" y1="782.4" y2="782.4" stroke="#000" stroke-width="1.4"/>
<text x="595" y="788.6" font-size="17.0" text-anchor="end">−1</text>
<line x1="600.87" x2="604.77" y1="836.35" y2="836.35" stroke="#000" stroke-width="1.4"/>
<text x="595" y="842.55" font-size="17.0" text-anchor="end">−2</text>
<line x1="600.87" x2="604.77" y1="890.3" y2="890.3" stroke="#000" stroke-width="1.4"/>
<text x="595" y="896.5" font-size="17.0" text-anchor="end">−3</text>
<text x="785.1" y="542.3" font-size="22.2" letter-spacing="0.28" text-anchor="middle">b=0.05, No. of matrices=3</text>
<text x="785.5" y="950.1" font-size="22.2" letter-spacing="0.5" text-anchor="middle">Re z</text>
<rect x="984.7" y="486.4" width="23.6" height="475.7" fill="url(#g)" stroke="#000" stroke-width="4.86"/>
<line x1="1010.73" x2="1014.63" y1="962.1" y2="962.1" stroke="#000" stroke-width="1.4"/>
<text x="1020.6" y="968.7" font-size="17.0">0</text>
<line x1="1010.73" x2="1014.63" y1="878.15" y2="878.15" stroke="#000" stroke-width="1.4"/>
<text x="1020.6" y="884.75" font-size="17.0">2</text>
<line x1="1010.73" x2="1014.63" y1="794.21" y2="794.21" stroke="#000" stroke-width="1.4"/>
<text x="1020.6" y="800.81" font-size="17.0">4</text>
<line x1="1010.73" x2="1014.63" y1="710.26" y2="710.26" stroke="#000" stroke-width="1.4"/>
<text x="1020.6" y="716.86" font-size="17.0">6</text>
<line x1="1010.73" x2="1014.63" y1="626.31" y2="626.31" stroke="#000" stroke-width="1.4"/>
<text x="1020.6" y="632.91" font-size="17.0">8</text>
<line x1="1010.73" x2="1014.63" y1="542.36" y2="542.36" stroke="#000" stroke-width="1.4"/>
<text x="1020.6" y="548.96" font-size="17.0">10</text>
<g shape-rendering="crispEdges">
<rect x="74.6" y="1039.6" width="355" height="344.2" fill="#ffffcc"/>
<rect x="252.1" y="1039.6" width="11.83" height="11.47" fill="#fff2ac"/>
<rect x="275.77" y="1039.6" width="11.83" height="11.47" fill="#fff2ac"/>
<rect x="252.1" y="1051.07" width="11.83" height="11.47" fill="#fff2ac"/>
<rect x="240.27" y="1062.55" width="11.83" height="11.47" fill="#fff2ac"/>
<rect x="192.93" y="1074.02" width="11.83" height="11.47" fill="#fff2ac"/>
<rect x="240.27" y="1074.02" width="11.83" height="11.47" fill="#fff2ac"/>
<rect x="287.6" y="1074.02" width="11.83" height="11.47" fill="#fff2ac"/>
<rect x="358.6" y="1074.02" width="11.83" height="11.47" fill="#fff2ac"/>
<rect x="110.1" y="1085.49" width="11.83" height="11.47" fill="#fff2ac"/>
<rect x="204.77" y="1085.49" width="11.83" height="11.47" fill="#fff2ac"/>
<rect x="228.43" y="1085.49" width="11.83" height="11.47" fill="#ffe48d"/>
<rect x="275.77" y="1085.49" width="11.83" height="11.47" fill="#fff2ac"/>
<rect x="334.93" y="1085.49" width="11.83" height="11.47" fill="#fff2ac"/>
<rect x="157.43" y="1096.97" width="11.83" height="11.47" fill="#fff2ac"/>
<rect x="181.1" y="1096.97" width="11.83" height="11.47" fill="#fff2ac"/>
<rect x="216.6" y="1096.97" width="35.5" height="11.47" fill="#fff2ac"/>
<rect x="252.1" y="1096.97" width="11.83" height="11.47" fill="#ffe48d"/>
<rect x="275.77" y="1096.97" width="11.83" height="11.47" fill="#fff2ac"/>
<rect x="299.43" y="1096.97" width="11.83" height="11.47" fill="#ffe48d"/>
<rect x="346.77" y="1096.97" width="11.83" height="11.47" fill="#ffe48d"/>
<rect x="169.27" y="1108.44" width="35.5" height="11.47" fill="#fff2ac"/>
<rect x="204.77" y="1108.44" width="23.67" height="11.47" fill="#fed26e"/>
<rect x="228.43" y="1108.44" width="11.83" height="11.47" fill="#ffe48d"/>
<rect x="263.93" y="1108.44" width="11.83" height="11.47" fill="#fed26e"/>
<rect x="275.77" y="1108.44" width="11.83" height="11.47" fill="#fff2ac"/>
<rect x="311.27" y="1108.44" width="11.83" height="11.47" fill="#fff2ac"/>
<rect x="334.93" y="1108.44" width="11.83" height="11.47" fill="#fff2ac"/>
<rect x="394.1" y="1108.44" width="11.83" height="11.47" fill="#fff2ac"/>
<rect x="169.27" y="1119.91" width="23.67" height="11.47" fill="#ffe48d"/>
<rect x="192.93" y="1119.91" width="11.83" height="11.47" fill="#fff2ac"/>
<rect x="204.77" y="1119.91" width="11.83" height="11.47" fill="#fed26e"/>
<rect x="216.6" y="1119.91" width="23.67" height="11.47" fill="#fff2ac"/>
<rect x="240.27" y="1119.91" width="11.83" height="11.47" fill="#feb650"/>
<rect x="252.1" y="1119.91" width="23.67" height="11.47" fill="#fed26e"/>
<rect x="287.6" y="1119.91" width="11.83" height="11.47" fill="#ffe48d"/>
<rect x="299.43" y="1119.91" width="11.83" height="11.47" fill="#fff2ac"/>
<rect x="311.27" y="1119.91" width="11.83" height="11.47" fill="#ffe48d"/>
<rect x="346.77" y="1119.91" width="11.83" height="11.47" fill="#ffe48d"/>
<rect x="121.93" y="1131.39" width="35.5" height="11.47" fill="#fff2ac"/>
<rect x="181.1" y="1131.39" width="11.83" height="11.47" fill="#fff2ac"/>
<rect x="192.93" y="1131.39" width="11.83" height="11.47" fill="#ffe48d"/>
<rect x="216.6" y="1131.39" width="11.83" height="11.47" fill="#fff2ac"/>
<rect x="228.43" y="1131.39" width="11.83" height="11.47" fill="#ffe48d"/>
<rect x="240.27" y="1131.39" width="11.83" height="11.47" fill="#fd9a42"/>
<rect x="252.1" y="1131.39" width="11.83" height="11.47" fill="#feb650"/>
<rect x="263.93" y="1131.39" width="11.83" height="11.47" fill="#fed26e"/>
<rect x="275.77" y="1131.39" width="11.83" height="11.47" fill="#ffe48d"/>
<rect x="287.6" y="1131.39" width="11.83" height="11.47" fill="#fff2ac"/>
<rect x="299.43" y="1131.39" width="11.83" height="11.47" fill="#fed26e"/>
<rect x="323.1" y="1131.39" width="11.83" height="11.47" fill="#fff2ac"/>
<rect x="346.77" y="1131.39" width="11.83" height="11.47" fill="#ffe48d"/>
<rect x="98.27" y="1142.86" width="11.83" height="11.47" fill="#fff2ac"/>
<rect x="121.93" y="1142.86" width="11.83" height="11.47" fill="#fff2ac"/>
<rect x="157.43" y="1142.86" width="11.83" height="11.47" fill="#fed26e"/>
<rect x="169.27" y="1142.86" width="35.5" height="11.47" fill="#fff2ac"/>
<rect x="204.77" y="1142.86" width="11.83" height="11.47" fill="#fed26e"/>
<rect x="216.6" y="1142.86" width="11.83" height="11.47" fill="#ffe48d"/>
<rect x="228.43" y="1142.86" width="11.83" height="11.47" fill="#fd9a42"/>
<rect x="240.27" y="1142.86" width="23.67" height="11.47" fill="#ffe48d"/>
<rect x="287.6" y="1142.86" width="23.67" height="11.47" fill="#fd7635"/>
<rect x="323.1" y="1142.86" width="23.67" height="11.47" fill="#ffe48d"/>
<rect x="346.77" y="1142.86" width="11.83" height="11.47" fill="#fff2ac"/>
<rect x="382.27" y="1142.86" width="11.83" height="11.47" fill="#ffe48d"/>
<rect x="121.93" y="1154.33" width="11.83" height="11.47" fill="#fed26e"/>
<rect x="145.6" y="1154.33" width="11.83" height="11.47" fill="#fff2ac"/>
<rect x="157.43" y="1154.33" width="11.83" height="11.47" fill="#ffe48d"/>
<rect x="169.27" y="1154.33" width="11.83" height="11.47" fill="#fff2ac"/>
<rect x="181.1" y="1154.33" width="11.83" height="11.47" fill="#fed26e"/>
<rect x="192.93" y="1154.33" width="11.83" height="11.47" fill="#feb650"/>
<rect x="204.77" y="1154.33" width="11.83" height="11.47" fill="#fed26e"/>
<rect x="216.6" y="1154.33" width="11.83" height="11.47" fill="#feb650"/>
<rect x="228.43" y="1154.33" width="11.83" height="11.47" fill="#fed26e"/>
<rect x="240.27" y="1154.33" width="11.83" height="11.47" fill="#feb650"/>
<rect x="252.1" y="1154.33" width="11.83" height="11.47" fill="#ffe48d"/>
<rect x="263.93" y="1154.33" width="11.83" height="11.47" fill="#feb650"/>
<rect x="275.77" y="1154.33" width="11.83" height="11.47" fill="#fa4929"/>
<rect x="287.6" y="1154.33" width="11.83" height="11.47" fill="#fed26e"/>
<rect x="299.43" y="1154.33" width="23.67" height="11.47" fill="#ffe48d"/>
<rect x="323.1" y="1154.33" width="11.83" height="11.47" fill="#fed26e"/>
<rect x="334.93" y="1154.33" width="11.83" height="11.47" fill="#fff2ac"/>
<rect x="358.6" y="1154.33" width="11.83" height="11.47" fill="#ffe48d"/>
<rect x="110.1" y="1165.81" width="11.83" height="11.47" fill="#fff2ac"/>
<rect x="121.93" y="1165.81" width="11.83" height="11.47" fill="#ffe48d"/>
<rect x="133.77" y="1165.81" width="47.33" height="11.47" fill="#fff2ac"/>
<rect x="181.1" y="1165.81" width="11.83" height="11.47" fill="#fed26e"/>
<rect x="192.93" y="1165.81" width="23.67" height="11.47" fill="#fd9a42"/>
<rect x="216.6" y="1165.81" width="11.83" height="11.47" fill="#ffe48d"/>
<rect x="228.43" y="1165.81" width="11.83" height="11.47" fill="#fd9a42"/>
<rect x="240.27" y="1165.81" width="11.83" height="11.47" fill="#ffe48d"/>
<rect x="263.93" y="1165.81" width="11.83" height="11.47" fill="#fd9a42"/>
<rect x="275.77" y="1165.81" width="11.83" height="11.47" fill="#ffe48d"/>
<rect x="287.6" y="1165.81" width="23.67" height="11.47" fill="#feb650"/>
<rect x="311.27" y="1165.81" width="23.67" height="11.47" fill="#fff2ac"/>
<rect x="334.93" y="1165.81" width="23.67" height="11.47" fill="#ffe48d"/>
<rect x="370.43" y="1165.81" width="11.83" height="11.47" fill="#fff2ac"/>
<rect x="394.1" y="1165.81" width="11.83" height="11.47" fill="#ffe48d"/>
<rect x="405.93" y="1165.81" width="11.83" height="11.47" fill="#fff2ac"/>
<rect x="121.93" y="1177.28" width="35.5" height="11.47" fill="#fff2ac"/>
<rect x="181.1" y="1177.28" width="11.83" height="11.47" fill="#fd9a42"/>
<rect x="192.93" y="1177.28" width="11.83" height="11.47" fill="#fff2ac"/>
<rect x="204.77" y="1177.28" width="11.83" height="11.47" fill="#feb650"/>
<rect x="216.6" y="1177.28" width="11.83" height="11.47" fill="#e8231f"/>
<rect x="228.43" y="1177.28" width="11.83" height="11.47" fill="#fd7635"/>
<rect x="240.27" y="1177.28" width="11.83" height="11.47" fill="#fed26e"/>
<rect x="252.1" y="1177.28" width="11.83" height="11.47" fill="#fd7635"/>
<rect x="263.93" y="1177.28" width="11.83" height="11.47" fill="#e8231f"/>
<rect x="275.77" y="1177.28" width="35.5" height="11.47" fill="#fd7635"/>
<rect x="311.27" y="1177.28" width="11.83" height="11.47" fill="#ffe48d"/>
<rect x="323.1" y="1177.28" width="11.83" height="11.47" fill="#fed26e"/>
<rect x="334.93" y="1177.28" width="11.83" height="11.47" fill="#fff2ac"/>
<rect x="358.6" y="1177.28" width="23.67" height="11.47" fill="#fff2ac"/>
<rect x="110.1" y="1188.75" width="11.83" height="11.47" fill="#fff2ac"/>
<rect x="145.6" y="1188.75" width="11.83" height="11.47" fill="#fff2ac"/>
<rect x="157.43" y="1188.75" width="23.67" height="11.47" fill="#ffe48d"/>
<rect x="181.1" y="1188.75" width="11.83" height="11.47" fill="#fd9a42"/>
<rect x="192.93" y="1188.75" width="11.83" height="11.47" fill="#feb650"/>
<rect x="204.77" y="1188.75" width="11.83" height="11.47" fill="#fed26e"/>
<rect x="216.6" y="1188.75" width="11.83" height="11.47" fill="#feb650"/>
<rect x="228.43" y="1188.75" width="11.83" height="11.47" fill="#ac0026"/>
<rect x="240.27" y="1188.75" width="11.83" height="11.47" fill="#fed26e"/>
<rect x="252.1" y="1188.75" width="11.83" height="11.47" fill="#ffe48d"/>
<rect x="263.93" y="1188.75" width="11.83" height="11.47" fill="#e8231f"/>
<rect x="275.77" y="1188.75" width="11.83" height="11.47" fill="#fd7635"/>
<rect x="287.6" y="1188.75" width="11.83" height="11.47" fill="#fed26e"/>
<rect x="299.43" y="1188.75" width="35.5" height="11.47" fill="#feb650"/>
<rect x="334.93" y="1188.75" width="23.67" height="11.47" fill="#fed26e"/>
<rect x="110.1" y="1200.23" width="11.83" height="11.47" fill="#fff2ac"/>
<rect x="133.77" y="1200.23" width="23.67" height="11.47" fill="#fff2ac"/>
<rect x="157.43" y="1200.23" width="35.5" height="11.47" fill="#ffe48d"/>
<rect x="192.93" y="1200.23" width="11.83" height="11.47" fill="#fd9a42"/>
<rect x="204.77" y="1200.23" width="23.67" height="11.47" fill="#feb650"/>
<rect x="228.43" y="1200.23" width="11.83" height="11.47" fill="#fed26e"/>
<rect x="240.27" y="1200.23" width="11.83" height="11.47" fill="#ffe48d"/>
<rect x="252.1" y="1200.23" width="11.83" height="11.47" fill="#fd9a42"/>
<rect x="263.93" y="1200.23" width="11.83" height="11.47" fill="#fa4929"/>
<rect x="275.77" y="1200.23" width="11.83" height="11.47" fill="#ce0c21"/>
<rect x="287.6" y="1200.23" width="11.83" height="11.47" fill="#ffe48d"/>
<rect x="299.43" y="1200.23" width="11.83" height="11.47" fill="#fd7635"/>
<rect x="323.1" y="1200.23" width="11.83" height="11.47" fill="#fed26e"/>
<rect x="334.93" y="1200.23" width="11.83" height="11.47" fill="#fd9a42"/>
<rect x="346.77" y="1200.23" width="35.5" height="11.47" fill="#fff2ac"/>
<rect x="394.1" y="1200.23" width="11.83" height="11.47" fill="#fff2ac"/>
<rect x="121.93" y="1211.7" width="11.83" height="11.47" fill="#ffe48d"/>
<rect x="133.77" y="1211.7" width="11.83" height="11.47" fill="#fff2ac"/>
<rect x="145.6" y="1211.7" width="11.83" height="11.47" fill="#ffe48d"/>
<rect x="169.27" y="1211.7" width="23.67" height="11.47" fill="#fed26e"/>
<rect x="192.93" y="1211.7" width="11.83" height="11.47" fill="#fff2ac"/>
<rect x="204.77" y="1211.7" width="23.67" height="11.47" fill="#fd9a42"/>
<rect x="228.43" y="1211.7" width="11.83" height="11.47" fill="#feb650"/>
<rect x="240.27" y="1211.7" width="11.83" height="11.47" fill="#fd7635"/>
<rect x="252.1" y="1211.7" width="11.83" height="11.47" fill="#e8231f"/>
<rect x="263.93" y="1211.7" width="11.83" height="11.47" fill="#fd7635"/>
<rect x="275.77" y="1211.7" width="11.83" height="11.47" fill="#fd9a42"/>
<rect x="287.6" y="1211.7" width="11.83" height="11.47" fill="#fd7635"/>
<rect x="311.27" y="1211.7" width="11.83" height="11.47" fill="#fd9a42"/>
<rect x="323.1" y="1211.7" width="23.67" height="11.47" fill="#fed26e"/>
<rect x="346.77" y="1211.7" width="11.83" height="11.47" fill="#ffe48d"/>
<rect x="358.6" y="1211.7" width="11.83" height="11.47" fill="#fed26e"/>
<rect x="382.27" y="1211.7" width="11.83" height="11.47" fill="#feb650"/>
<rect x="121.93" y="1223.17" width="11.83" height="11.47" fill="#fed26e"/>
<rect x="157.43" y="1223.17" width="11.83" height="11.47" fill="#fd9a42"/>
<rect x="169.27" y="1223.17" width="23.67" height="11.47" fill="#fff2ac"/>
<rect x="192.93" y="1223.17" width="11.83" height="11.47" fill="#fd7635"/>
<rect x="204.77" y="1223.17" width="11.83" height="11.47" fill="#feb650"/>
<rect x="216.6" y="1223.17" width="11.83" height="11.47" fill="#fd7635"/>
<rect x="228.43" y="1223.17" width="11.83" height="11.47" fill="#ce0c21"/>
<rect x="240.27" y="1223.17" width="11.83" height="11.47" fill="#fd7635"/>
<rect x="252.1" y="1223.17" width="11.83" height="11.47" fill="#e8231f"/>
<rect x="263.93" y="1223.17" width="11.83" height="11.47" fill="#ac0026"/>
<rect x="275.77" y="1223.17" width="11.83" height="11.47" fill="#fd9a42"/>
<rect x="287.6" y="1223.17" width="11.83" height="11.47" fill="#fd7635"/>
<rect x="299.43" y="1223.17" width="11.83" height="11.47" fill="#fd9a42"/>
<rect x="311.27" y="1223.17" width="11.83" height="11.47" fill="#ffe48d"/>
<rect x="323.1" y="1223.17" width="11.83" height="11.47" fill="#fff2ac"/>
<rect x="334.93" y="1223.17" width="11.83" height="11.47" fill="#fed26e"/>
<rect x="346.77" y="1223.17" width="23.67" height="11.47" fill="#fff2ac"/>
<rect x="382.27" y="1223.17" width="23.67" height="11.47" fill="#fff2ac"/>
<rect x="98.27" y="1234.65" width="11.83" height="11.47" fill="#fed26e"/>
<rect x="121.93" y="1234.65" width="11.83" height="11.47" fill="#fff2ac"/>
<rect x="133.77" y="1234.65" width="11.83" height="11.47" fill="#ffe48d"/>
<rect x="145.6" y="1234.65" width="11.83" height="11.47" fill="#feb650"/>
<rect x="157.43" y="1234.65" width="11.83" height="11.47" fill="#fff2ac"/>
<rect x="169.27" y="1234.65" width="23.67" height="11.47" fill="#ffe48d"/>
<rect x="192.93" y="1234.65" width="11.83" height="11.47" fill="#fd9a42"/>
<rect x="204.77" y="1234.65" width="23.67" height="11.47" fill="#feb650"/>
<rect x="228.43" y="1234.65" width="11.83" height="11.47" fill="#fd7635"/>
<rect x="240.27" y="1234.65" width="11.83" height="11.47" fill="#ce0c21"/>
<rect x="252.1" y="1234.65" width="11.83" height="11.47" fill="#ffe48d"/>
<rect x="263.93" y="1234.65" width="23.67" height="11.47" fill="#ac0026"/>
<rect x="287.6" y="1234.65" width="11.83" height="11.47" fill="#feb650"/>
<rect x="299.43" y="1234.65" width="23.67" height="11.47" fill="#ffe48d"/>
<rect x="323.1" y="1234.65" width="11.83" height="11.47" fill="#fff2ac"/>
<rect x="334.93" y="1234.65" width="11.83" height="11.47" fill="#fed26e"/>
<rect x="358.6" y="1234.65" width="23.67" height="11.47" fill="#ffe48d"/>
<rect x="74.6" y="1246.12" width="11.83" height="11.47" fill="#fff2ac"/>
<rect x="133.77" y="1246.12" width="11.83" height="11.47" fill="#ffe48d"/>
<rect x="145.6" y="1246.12" width="11.83" height="11.47" fill="#fed26e"/>
<rect x="157.43" y="1246.12" width="11.83" height="11.47" fill="#fff2ac"/>
<rect x="169.27" y="1246.12" width="11.83" height="11.47" fill="#ffe48d"/>
<rect x="181.1" y="1246.12" width="11.83" height="11.47" fill="#fed26e"/>
<rect x="192.93" y="1246.12" width="11.83" height="11.47" fill="#ffe48d"/>
<rect x="204.77" y="1246.12" width="11.83" height="11.47" fill="#fd9a42"/>
<rect x="216.6" y="1246.12" width="23.67" height="11.47" fill="#fed26e"/>
<rect x="240.27" y="1246.12" width="11.83" height="11.47" fill="#fd9a42"/>
<rect x="252.1" y="1246.12" width="11.83" height="11.47" fill="#feb650"/>
<rect x="263.93" y="1246.12" width="11.83" height="11.47" fill="#800026"/>
<rect x="275.77" y="1246.12" width="35.5" height="11.47" fill="#fd9a42"/>
<rect x="311.27" y="1246.12" width="11.83" height="11.47" fill="#feb650"/>
<rect x="323.1" y="1246.12" width="23.67" height="11.47" fill="#fff2ac"/>
<rect x="346.77" y="1246.12" width="11.83" height="11.47" fill="#ffe48d"/>
<rect x="358.6" y="1246.12" width="47.33" height="11.47" fill="#fff2ac"/>
<rect x="110.1" y="1257.59" width="11.83" height="11.47" fill="#fff2ac"/>
<rect x="121.93" y="1257.59" width="11.83" height="11.47" fill="#ffe48d"/>
<rect x="133.77" y="1257.59" width="23.67" height="11.47" fill="#fff2ac"/>
<rect x="181.1" y="1257.59" width="11.83" height="11.47" fill="#ffe48d"/>
<rect x="192.93" y="1257.59" width="59.17" height="11.47" fill="#fd9a42"/>
<rect x="252.1" y="1257.59" width="11.83" height="11.47" fill="#feb650"/>
<rect x="263.93" y="1257.59" width="11.83" height="11.47" fill="#fa4929"/>
<rect x="275.77" y="1257.59" width="11.83" height="11.47" fill="#fd7635"/>
<rect x="287.6" y="1257.59" width="23.67" height="11.47" fill="#fed26e"/>
<rect x="311.27" y="1257.59" width="11.83" height="11.47" fill="#fff2ac"/>
<rect x="323.1" y="1257.59" width="11.83" height="11.47" fill="#ce0c21"/>
<rect x="334.93" y="1257.59" width="23.67" height="11.47" fill="#ffe48d"/>
<rect x="394.1" y="1257.59" width="11.83" height="11.47" fill="#fff2ac"/>
<rect x="121.93" y="1269.07" width="11.83" height="11.47" fill="#fff2ac"/>
<rect x="145.6" y="1269.07" width="23.67" height="11.47" fill="#fff2ac"/>
<rect x="169.27" y="1269.07" width="11.83" height="11.47" fill="#ffe48d"/>
<rect x="181.1" y="1269.07" width="11.83" height="11.47" fill="#feb650"/>
<rect x="192.93" y="1269.07" width="11.83" height="11.47" fill="#ffe48d"/>
<rect x="204.77" y="1269.07" width="23.67" height="11.47" fill="#fff2ac"/>
<rect x="228.43" y="1269.07" width="11.83" height="11.47" fill="#fd9a42"/>
<rect x="240.27" y="1269.07" width="11.83" height="11.47" fill="#feb650"/>
<rect x="252.1" y="1269.07" width="23.67" height="11.47" fill="#fd9a42"/>
<rect x="275.77" y="1269.07" width="11.83" height="11.47" fill="#fd7635"/>
<rect x="287.6" y="1269.07" width="11.83" height="11.47" fill="#feb650"/>
<rect x="299.43" y="1269.07" width="11.83" height="11.47" fill="#fed26e"/>
<rect x="311.27" y="1269.07" width="11.83" height="11.47" fill="#fff2ac"/>
<rect x="323.1" y="1269.07" width="11.83" height="11.47" fill="#ffe48d"/>
<rect x="334.93" y="1269.07" width="11.83" height="11.47" fill="#fff2ac"/>
<rect x="346.77" y="1269.07" width="11.83" height="11.47" fill="#fed26e"/>
<rect x="370.43" y="1269.07" width="23.67" height="11.47" fill="#fff2ac"/>
<rect x="417.77" y="1269.07" width="11.83" height="11.47" fill="#fff2ac"/>
<rect x="145.6" y="1280.54" width="23.67" height="11.47" fill="#fff2ac"/>
<rect x="169.27" y="1280.54" width="11.83" height="11.47" fill="#ffe48d"/>
<rect x="181.1" y="1280.54" width="11.83" height="11.47" fill="#fd9a42"/>
<rect x="192.93" y="1280.54" width="11.83" height="11.47" fill="#fff2ac"/>
<rect x="204.77" y="1280.54" width="23.67" height="11.47" fill="#ffe48d"/>
<rect x="228.43" y="1280.54" width="11.83" height="11.47" fill="#fd9a42"/>
<rect x="240.27" y="1280.54" width="11.83" height="11.47" fill="#ffe48d"/>
<rect x="252.1" y="1280.54" width="23.67" height="11.47" fill="#fff2ac"/>
<rect x="275.77" y="1280.54" width="11.83" height="11.47" fill="#fd9a42"/>
<rect x="287.6" y="1280.54" width="11.83" height="11.47" fill="#fff2ac"/>
<rect x="299.43" y="1280.54" width="11.83" height="11.47" fill="#fd7635"/>
<rect x="323.1" y="1280.54" width="11.83" height="11.47" fill="#fed26e"/>
<rect x="334.93" y="1280.54" width="11.83" height="11.47" fill="#ffe48d"/>
<rect x="394.1" y="1280.54" width="11.83" height="11.47" fill="#fff2ac"/>
<rect x="133.77" y="1292.01" width="11.83" height="11.47" fill="#ffe48d"/>
<rect x="157.43" y="1292.01" width="11.83" height="11.47" fill="#fff2ac"/>
<rect x="181.1" y="1292.01" width="47.33" height="11.47" fill="#fff2ac"/>
<rect x="228.43" y="1292.01" width="11.83" height="11.47" fill="#feb650"/>
<rect x="240.27" y="1292.01" width="11.83" height="11.47" fill="#fed26e"/>
<rect x="252.1" y="1292.01" width="11.83" height="11.47" fill="#ffe48d"/>
<rect x="275.77" y="1292.01" width="11.83" height="11.47" fill="#fff2ac"/>
<rect x="287.6" y="1292.01" width="23.67" height="11.47" fill="#ffe48d"/>
<rect x="311.27" y="1292.01" width="11.83" height="11.47" fill="#fd9a42"/>
<rect x="323.1" y="1292.01" width="11.83" height="11.47" fill="#fff2ac"/>
<rect x="370.43" y="1292.01" width="11.83" height="11.47" fill="#fff2ac"/>
<rect x="394.1" y="1292.01" width="11.83" height="11.47" fill="#fff2ac"/>
<rect x="133.77" y="1303.49" width="11.83" height="11.47" fill="#fff2ac"/>
<rect x="157.43" y="1303.49" width="11.83" height="11.47" fill="#fed26e"/>
<rect x="192.93" y="1303.49" width="11.83" height="11.47" fill="#fff2ac"/>
<rect x="216.6" y="1303.49" width="23.67" height="11.47" fill="#ffe48d"/>
<rect x="240.27" y="1303.49" width="23.67" height="11.47" fill="#fff2ac"/>
<rect x="275.77" y="1303.49" width="11.83" height="11.47" fill="#feb650"/>
<rect x="287.6" y="1303.49" width="11.83" height="11.47" fill="#ffe48d"/>
<rect x="299.43" y="1303.49" width="59.17" height="11.47" fill="#fff2ac"/>
<rect x="133.77" y="1314.96" width="11.83" height="11.47" fill="#fff2ac"/>
<rect x="169.27" y="1314.96" width="11.83" height="11.47" fill="#ffe48d"/>
<rect x="192.93" y="1314.96" width="11.83" height="11.47" fill="#fff2ac"/>
<rect x="228.43" y="1314.96" width="11.83" height="11.47" fill="#fff2ac"/>
<rect x="252.1" y="1314.96" width="11.83" height="11.47" fill="#fff2ac"/>
<rect x="275.77" y="1314.96" width="35.5" height="11.47" fill="#fff2ac"/>
<rect x="323.1" y="1314.96" width="23.67" height="11.47" fill="#fff2ac"/>
<rect x="358.6" y="1314.96" width="11.83" height="11.47" fill="#fff2ac"/>
<rect x="169.27" y="1326.43" width="11.83" height="11.47" fill="#ffe48d"/>
<rect x="228.43" y="1326.43" width="35.5" height="11.47" fill="#ffe48d"/>
<rect x="299.43" y="1326.43" width="11.83" height="11.47" fill="#ffe48d"/>
<rect x="334.93" y="1326.43" width="11.83" height="11.47" fill="#fff2ac"/>
<rect x="204.77" y="1337.91" width="11.83" height="11.47" fill="#fff2ac"/>
<rect x="240.27" y="1337.91" width="11.83" height="11.47" fill="#feb650"/>
<rect x="263.93" y="1337.91" width="11.83" height="11.47" fill="#fff2ac"/>
<rect x="334.93" y="1337.91" width="11.83" height="11.47" fill="#fff2ac"/>
<rect x="169.27" y="1349.38" width="11.83" height="11.47" fill="#fff2ac"/>
<rect x="181.1" y="1349.38" width="11.83" height="11.47" fill="#ffe48d"/>
<rect x="216.6" y="1349.38" width="11.83" height="11.47" fill="#fff2ac"/>
<rect x="311.27" y="1349.38" width="11.83" height="11.47" fill="#fff2ac"/>
<rect x="346.77" y="1360.85" width="11.83" height="11.47" fill="#fff2ac"/>
<rect x="275.77" y="1372.33" width="11.83" height="11.47" fill="#fff2ac"/>
<rect x="299.43" y="1372.33" width="11.83" height="11.47" fill="#fff2ac"/>
</g>
<rect x="74.6" y="1039.6" width="355" height="344.2" fill="none" stroke="#000" stroke-width="4.86"/>
<line x1="131.8" x2="131.8" y1="1386.23" y2="1390.13" stroke="#000" stroke-width="1.4"/>
<text x="131.8" y="1409.6" font-size="17.0" text-anchor="middle">−2</text>
<line x1="239.2" x2="239.2" y1="1386.23" y2="1390.13" stroke="#000" stroke-width="1.4"/>
<text x="239.2" y="1409.6" font-size="17.0" text-anchor="middle">0</text>
<line x1="346.6" x2="346.6" y1="1386.23" y2="1390.13" stroke="#000" stroke-width="1.4"/>
<text x="346.6" y="1409.6" font-size="17.0" text-anchor="middle">2</text>
<line x1="68.27" x2="72.17" y1="1053.9" y2="1053.9" stroke="#000" stroke-width="1.4"/>
<text x="62.4" y="1060.1" font-size="17.0" text-anchor="end">3</text>
<line x1="68.27" x2="72.17" y1="1107.85" y2="1107.85" stroke="#000" stroke-width="1.4"/>
<text x="62.4" y="1114.05" font-size="17.0" text-anchor="end">2</text>
<line x1="68.27" x2="72.17" y1="1161.8" y2="1161.8" stroke="#000" stroke-width="1.4"/>
<text x="62.4" y="1168" font-size="17.0" text-anchor="end">1</text>
<line x1="68.27" x2="72.17" y1="1215.75" y2="1215.75" stroke="#000" stroke-width="1.4"/>
<text x="62.4" y="1221.95" font-size="17.0" text-anchor="end">0</text>
<line x1="68.27" x2="72.17" y1="1269.7" y2="1269.7" stroke="#000" stroke-width="1.4"/>
<text x="62.4" y="1275.9" font-size="17.0" text-anchor="end">−1</text>
<line x1="68.27" x2="72.17" y1="1323.65" y2="1323.65" stroke="#000" stroke-width="1.4"/>
<text x="62.4" y="1329.85" font-size="17.0" text-anchor="end">−2</text>
<line x1="68.27" x2="72.17" y1="1377.6" y2="1377.6" stroke="#000" stroke-width="1.4"/>
<text x="62.4" y="1383.8" font-size="17.0" text-anchor="end">−3</text>
<text x="252.5" y="1029.6" font-size="22.2" letter-spacing="0.28" text-anchor="middle">b=1/7, No. of matrices=1</text>
<text x="252.9" y="1437.5" font-size="22.2" letter-spacing="0.5" text-anchor="middle">Re z</text>
<text transform="translate(24.9,1211.7) rotate(-90)" font-size="22.2" letter-spacing="0.5" text-anchor="middle">Im z</text>
<rect x="452.1" y="973.8" width="23.6" height="475.5" fill="url(#g)" stroke="#000" stroke-width="4.86"/>
<line x1="478.13" x2="482.03" y1="1449.3" y2="1449.3" stroke="#000" stroke-width="1.4"/>
<text x="488" y="1455.9" font-size="17.0">0</text>
<line x1="478.13" x2="482.03" y1="1362.85" y2="1362.85" stroke="#000" stroke-width="1.4"/>
<text x="488" y="1369.45" font-size="17.0">2</text>
<line x1="478.13" x2="482.03" y1="1276.39" y2="1276.39" stroke="#000" stroke-width="1.4"/>
<text x="488" y="1282.99" font-size="17.0">4</text>
<line x1="478.13" x2="482.03" y1="1189.94" y2="1189.94" stroke="#000" stroke-width="1.4"/>
<text x="488" y="1196.54" font-size="17.0">6</text>
<line x1="478.13" x2="482.03" y1="1103.48" y2="1103.48" stroke="#000" stroke-width="1.4"/>
<text x="488" y="1110.08" font-size="17.0">8</text>
<line x1="478.13" x2="482.03" y1="1017.03" y2="1017.03" stroke="#000" stroke-width="1.4"/>
<text x="488" y="1023.63" font-size="17.0">10</text>
<g shape-rendering="crispEdges">
<rect x="607.2" y="1039.6" width="355" height="344.2" fill="#ffffcc"/>
<rect x="725.53" y="1039.6" width="11.83" height="11.47" fill="#fff9bc"/>
<rect x="784.7" y="1039.6" width="11.83" height="11.47" fill="#fff9bc"/>
<rect x="855.7" y="1039.6" width="11.83" height="11.47" fill="#fff9bc"/>
<rect x="701.87" y="1051.07" width="11.83" height="11.47" fill="#fff9bc"/>
<rect x="749.2" y="1051.07" width="11.83" height="11.47" fill="#fff9bc"/>
<rect x="772.87" y="1051.07" width="11.83" height="11.47" fill="#fff9bc"/>
<rect x="701.87" y="1062.55" width="11.83" height="11.47" fill="#fff9bc"/>
<rect x="749.2" y="1062.55" width="35.5" height="11.47" fill="#fff9bc"/>
<rect x="796.53" y="1062.55" width="11.83" height="11.47" fill="#fff2ad"/>
<rect x="808.37" y="1062.55" width="11.83" height="11.47" fill="#fff9bc"/>
<rect x="832.03" y="1062.55" width="11.83" height="11.47" fill="#fff9bc"/>
<rect x="713.7" y="1074.02" width="23.67" height="11.47" fill="#fff9bc"/>
<rect x="749.2" y="1074.02" width="11.83" height="11.47" fill="#fff2ad"/>
<rect x="772.87" y="1074.02" width="47.33" height="11.47" fill="#fff9bc"/>
<rect x="832.03" y="1074.02" width="35.5" height="11.47" fill="#fff9bc"/>
<rect x="642.7" y="1085.49" width="11.83" height="11.47" fill="#fff9bc"/>
<rect x="701.87" y="1085.49" width="11.83" height="11.47" fill="#fff9bc"/>
<rect x="725.53" y="1085.49" width="11.83" height="11.47" fill="#fff2ad"/>
<rect x="737.37" y="1085.49" width="59.17" height="11.47" fill="#fff9bc"/>
<rect x="796.53" y="1085.49" width="23.67" height="11.47" fill="#fff2ad"/>
<rect x="820.2" y="1085.49" width="11.83" height="11.47" fill="#fff9bc"/>
<rect x="832.03" y="1085.49" width="11.83" height="11.47" fill="#fff2ad"/>
<rect x="843.87" y="1085.49" width="11.83" height="11.47" fill="#fff9bc"/>
<rect x="654.53" y="1096.97" width="11.83" height="11.47" fill="#fff9bc"/>
<rect x="690.03" y="1096.97" width="11.83" height="11.47" fill="#fff2ad"/>
<rect x="701.87" y="1096.97" width="23.67" height="11.47" fill="#fff9bc"/>
<rect x="737.37" y="1096.97" width="23.67" height="11.47" fill="#fff9bc"/>
<rect x="761.03" y="1096.97" width="11.83" height="11.47" fill="#fff2ad"/>
<rect x="772.87" y="1096.97" width="11.83" height="11.47" fill="#fedb79"/>
<rect x="796.53" y="1096.97" width="23.67" height="11.47" fill="#fff2ad"/>
<rect x="820.2" y="1096.97" width="35.5" height="11.47" fill="#fff9bc"/>
<rect x="855.7" y="1096.97" width="11.83" height="11.47" fill="#fff2ad"/>
<rect x="666.37" y="1108.44" width="23.67" height="11.47" fill="#fff9bc"/>
<rect x="701.87" y="1108.44" width="23.67" height="11.47" fill="#fff2ad"/>
<rect x="725.53" y="1108.44" width="35.5" height="11.47" fill="#ffe794"/>
<rect x="761.03" y="1108.44" width="11.83" height="11.47" fill="#fff9bc"/>
<rect x="772.87" y="1108.44" width="11.83" height="11.47" fill="#ffe794"/>
<rect x="784.7" y="1108.44" width="23.67" height="11.47" fill="#fedb79"/>
<rect x="808.37" y="1108.44" width="11.83" height="11.47" fill="#ffe794"/>
<rect x="820.2" y="1108.44" width="11.83" height="11.47" fill="#fff2ad"/>
<rect x="832.03" y="1108.44" width="11.83" height="11.47" fill="#ffe794"/>
<rect x="843.87" y="1108.44" width="11.83" height="11.47" fill="#fff9bc"/>
<rect x="867.53" y="1108.44" width="11.83" height="11.47" fill="#fff9bc"/>
<rect x="891.2" y="1108.44" width="11.83" height="11.47" fill="#fff9bc"/>
<rect x="607.2" y="1119.91" width="11.83" height="11.47" fill="#fff9bc"/>
<rect x="654.53" y="1119.91" width="11.83" height="11.47" fill="#fff9bc"/>
<rect x="666.37" y="1119.91" width="11.83" height="11.47" fill="#fff2ad"/>
<rect x="678.2" y="1119.91" width="23.67" height="11.47" fill="#fff9bc"/>
<rect x="701.87" y="1119.91" width="11.83" height="11.47" fill="#fff2ad"/>
<rect x="713.7" y="1119.91" width="47.33" height="11.47" fill="#ffe794"/>
<rect x="761.03" y="1119.91" width="11.83" height="11.47" fill="#fedb79"/>
<rect x="772.87" y="1119.91" width="23.67" height="11.47" fill="#ffe794"/>
<rect x="796.53" y="1119.91" width="11.83" height="11.47" fill="#fedb79"/>
<rect x="808.37" y="1119.91" width="11.83" height="11.47" fill="#ffe794"/>
<rect x="820.2" y="1119.91" width="23.67" height="11.47" fill="#fff2ad"/>
<rect x="843.87" y="1119.91" width="11.83" height="11.47" fill="#fff9bc"/>
<rect x="855.7" y="1119.91" width="11.83" height="11.47" fill="#ffe794"/>
<rect x="879.37" y="1119.91" width="11.83" height="11.47" fill="#fff2ad"/>
<rect x="903.03" y="1119.91" width="11.83" height="11.47" fill="#fff9bc"/>
<rect x="654.53" y="1131.39" width="11.83" height="11.47" fill="#fff9bc"/>
<rect x="666.37" y="1131.39" width="11.83" height="11.47" fill="#fff2ad"/>
<rect x="678.2" y="1131.39" width="11.83" height="11.47" fill="#fff9bc"/>
<rect x="690.03" y="1131.39" width="11.83" height="11.47" fill="#ffe692"/>
<rect x="701.87" y="1131.39" width="11.83" height="11.47" fill="#fed976"/>
<rect x="713.7" y="1131.39" width="23.67" height="11.47" fill="#fee084"/>
<rect x="737.37" y="1131.39" width="11.83" height="11.47" fill="#fecc68"/>
<rect x="749.2" y="1131.39" width="11.83" height="11.47" fill="#fee084"/>
<rect x="761.03" y="1131.39" width="11.83" height="11.47" fill="#febf5a"/>
<rect x="772.87" y="1131.39" width="11.83" height="11.47" fill="#fd9941"/>
<rect x="784.7" y="1131.39" width="11.83" height="11.47" fill="#ffe692"/>
<rect x="796.53" y="1131.39" width="23.67" height="11.47" fill="#fee084"/>
<rect x="820.2" y="1131.39" width="11.83" height="11.47" fill="#ffe692"/>
<rect x="832.03" y="1131.39" width="23.67" height="11.47" fill="#ffeda0"/>
<rect x="855.7" y="1131.39" width="11.83" height="11.47" fill="#fff3af"/>
<rect x="867.53" y="1131.39" width="23.67" height="11.47" fill="#fff9bc"/>
<rect x="914.87" y="1131.39" width="23.67" height="11.47" fill="#fff9bc"/>
<rect x="630.87" y="1142.86" width="11.83" height="11.47" fill="#fff2ad"/>
<rect x="642.7" y="1142.86" width="11.83" height="11.47" fill="#fff9bc"/>
<rect x="654.53" y="1142.86" width="23.67" height="11.47" fill="#fff2ad"/>
<rect x="678.2" y="1142.86" width="11.83" height="11.47" fill="#fff9bc"/>
<rect x="690.03" y="1142.86" width="11.83" height="11.47" fill="#fed976"/>
<rect x="701.87" y="1142.86" width="11.83" height="11.47" fill="#fee084"/>
<rect x="713.7" y="1142.86" width="23.67" height="11.47" fill="#fed976"/>
<rect x="737.37" y="1142.86" width="11.83" height="11.47" fill="#febf5a"/>
<rect x="749.2" y="1142.86" width="23.67" height="11.47" fill="#fd9941"/>
<rect x="772.87" y="1142.86" width="11.83" height="11.47" fill="#fecc68"/>
<rect x="784.7" y="1142.86" width="11.83" height="11.47" fill="#fd9941"/>
<rect x="796.53" y="1142.86" width="11.83" height="11.47" fill="#fed976"/>
<rect x="808.37" y="1142.86" width="11.83" height="11.47" fill="#febf5a"/>
<rect x="820.2" y="1142.86" width="11.83" height="11.47" fill="#ffeda0"/>
<rect x="832.03" y="1142.86" width="23.67" height="11.47" fill="#fed976"/>
<rect x="855.7" y="1142.86" width="11.83" height="11.47" fill="#fff3af"/>
<rect x="867.53" y="1142.86" width="11.83" height="11.47" fill="#fff2ad"/>
<rect x="879.37" y="1142.86" width="47.33" height="11.47" fill="#fff9bc"/>
<rect x="619.03" y="1154.33" width="11.83" height="11.47" fill="#fff9bc"/>
<rect x="642.7" y="1154.33" width="11.83" height="11.47" fill="#fff9bc"/>
<rect x="654.53" y="1154.33" width="11.83" height="11.47" fill="#ffe794"/>
<rect x="666.37" y="1154.33" width="11.83" height="11.47" fill="#fff9bc"/>
<rect x="678.2" y="1154.33" width="11.83" height="11.47" fill="#ffe794"/>
<rect x="690.03" y="1154.33" width="11.83" height="11.47" fill="#ffeda0"/>
<rect x="701.87" y="1154.33" width="11.83" height="11.47" fill="#fee084"/>
<rect x="713.7" y="1154.33" width="11.83" height="11.47" fill="#febf5a"/>
<rect x="725.53" y="1154.33" width="23.67" height="11.47" fill="#fea647"/>
<rect x="749.2" y="1154.33" width="11.83" height="11.47" fill="#fed976"/>
<rect x="761.03" y="1154.33" width="11.83" height="11.47" fill="#fc4e2a"/>
<rect x="772.87" y="1154.33" width="11.83" height="11.47" fill="#fea647"/>
<rect x="784.7" y="1154.33" width="11.83" height="11.47" fill="#fd8d3c"/>
<rect x="796.53" y="1154.33" width="11.83" height="11.47" fill="#fd9941"/>
<rect x="808.37" y="1154.33" width="11.83" height="11.47" fill="#fecc68"/>
<rect x="820.2" y="1154.33" width="11.83" height="11.47" fill="#ffeda0"/>
<rect x="832.03" y="1154.33" width="11.83" height="11.47" fill="#febf5a"/>
<rect x="843.87" y="1154.33" width="23.67" height="11.47" fill="#fff3af"/>
<rect x="867.53" y="1154.33" width="11.83" height="11.47" fill="#fff9bc"/>
<rect x="891.2" y="1154.33" width="11.83" height="11.47" fill="#fff9bc"/>
<rect x="630.87" y="1165.81" width="23.67" height="11.47" fill="#fff9bc"/>
<rect x="654.53" y="1165.81" width="23.67" height="11.47" fill="#ffe794"/>
<rect x="678.2" y="1165.81" width="11.83" height="11.47" fill="#fff2ad"/>
<rect x="690.03" y="1165.81" width="11.83" height="11.47" fill="#ffeda0"/>
<rect x="701.87" y="1165.81" width="11.83" height="11.47" fill="#fee084"/>
<rect x="713.7" y="1165.81" width="11.83" height="11.47" fill="#fea647"/>
<rect x="725.53" y="1165.81" width="11.83" height="11.47" fill="#fd9941"/>
<rect x="737.37" y="1165.81" width="11.83" height="11.47" fill="#fed976"/>
<rect x="749.2" y="1165.81" width="11.83" height="11.47" fill="#fd8d3c"/>
<rect x="761.03" y="1165.81" width="11.83" height="11.47" fill="#fd9941"/>
<rect x="772.87" y="1165.81" width="11.83" height="11.47" fill="#febf5a"/>
<rect x="784.7" y="1165.81" width="23.67" height="11.47" fill="#fc4e2a"/>
<rect x="808.37" y="1165.81" width="11.83" height="11.47" fill="#fea647"/>
<rect x="820.2" y="1165.81" width="11.83" height="11.47" fill="#feb24c"/>
<rect x="832.03" y="1165.81" width="11.83" height="11.47" fill="#febf5a"/>
<rect x="843.87" y="1165.81" width="11.83" height="11.47" fill="#ffeda0"/>
<rect x="855.7" y="1165.81" width="11.83" height="11.47" fill="#fff3af"/>
<rect x="879.37" y="1165.81" width="11.83" height="11.47" fill="#fff9bc"/>
<rect x="891.2" y="1165.81" width="11.83" height="11.47" fill="#fff2ad"/>
<rect x="903.03" y="1165.81" width="11.83" height="11.47" fill="#fff9bc"/>
<rect x="642.7" y="1177.28" width="11.83" height="11.47" fill="#fff9bc"/>
<rect x="654.53" y="1177.28" width="11.83" height="11.47" fill="#fff2ad"/>
<rect x="666.37" y="1177.28" width="11.83" height="11.47" fill="#ffe794"/>
<rect x="678.2" y="1177.28" width="11.83" height="11.47" fill="#fff2ad"/>
<rect x="690.03" y="1177.28" width="11.83" height="11.47" fill="#ffe692"/>
<rect x="701.87" y="1177.28" width="11.83" height="11.47" fill="#fecc68"/>
<rect x="713.7" y="1177.28" width="11.83" height="11.47" fill="#fd8d3c"/>
<rect x="725.53" y="1177.28" width="11.83" height="11.47" fill="#fc6330"/>
<rect x="737.37" y="1177.28" width="11.83" height="11.47" fill="#f43d25"/>
<rect x="749.2" y="1177.28" width="23.67" height="11.47" fill="#fc562c"/>
<rect x="772.87" y="1177.28" width="11.83" height="11.47" fill="#fd9941"/>
<rect x="784.7" y="1177.28" width="11.83" height="11.47" fill="#e8241f"/>
<rect x="796.53" y="1177.28" width="11.83" height="11.47" fill="#eb2b21"/>
<rect x="808.37" y="1177.28" width="11.83" height="11.47" fill="#f43d25"/>
<rect x="820.2" y="1177.28" width="11.83" height="11.47" fill="#fed976"/>
<rect x="832.03" y="1177.28" width="11.83" height="11.47" fill="#fee084"/>
<rect x="843.87" y="1177.28" width="11.83" height="11.47" fill="#ffeda0"/>
<rect x="855.7" y="1177.28" width="11.83" height="11.47" fill="#fee084"/>
<rect x="867.53" y="1177.28" width="11.83" height="11.47" fill="#fff9bc"/>
<rect x="891.2" y="1177.28" width="11.83" height="11.47" fill="#fff9bc"/>
<rect x="642.7" y="1188.75" width="11.83" height="11.47" fill="#fff2ad"/>
<rect x="666.37" y="1188.75" width="11.83" height="11.47" fill="#fff2ad"/>
<rect x="690.03" y="1188.75" width="11.83" height="11.47" fill="#ffeda0"/>
<rect x="701.87" y="1188.75" width="11.83" height="11.47" fill="#fea647"/>
<rect x="713.7" y="1188.75" width="11.83" height="11.47" fill="#fecc68"/>
<rect x="725.53" y="1188.75" width="11.83" height="11.47" fill="#fea647"/>
<rect x="737.37" y="1188.75" width="11.83" height="11.47" fill="#e8241f"/>
<rect x="749.2" y="1188.75" width="11.83" height="11.47" fill="#fc4e2a"/>
<rect x="761.03" y="1188.75" width="11.83" height="11.47" fill="#fd7034"/>
<rect x="772.87" y="1188.75" width="11.83" height="11.47" fill="#fd8d3c"/>
<rect x="784.7" y="1188.75" width="11.83" height="11.47" fill="#fc5b2e"/>
<rect x="796.53" y="1188.75" width="11.83" height="11.47" fill="#feb24c"/>
<rect x="808.37" y="1188.75" width="11.83" height="11.47" fill="#fc6b32"/>
<rect x="820.2" y="1188.75" width="23.67" height="11.47" fill="#fd7836"/>
<rect x="843.87" y="1188.75" width="11.83" height="11.47" fill="#fee084"/>
<rect x="855.7" y="1188.75" width="11.83" height="11.47" fill="#ffeda0"/>
<rect x="867.53" y="1188.75" width="23.67" height="11.47" fill="#fff2ad"/>
<rect x="891.2" y="1188.75" width="11.83" height="11.47" fill="#fff9bc"/>
<rect x="926.7" y="1188.75" width="11.83" height="11.47" fill="#fff9bc"/>
<rect x="642.7" y="1200.23" width="11.83" height="11.47" fill="#fff9bc"/>
<rect x="654.53" y="1200.23" width="11.83" height="11.47" fill="#fff2ad"/>
<rect x="666.37" y="1200.23" width="23.67" height="11.47" fill="#ffe794"/>
<rect x="690.03" y="1200.23" width="11.83" height="11.47" fill="#ffe692"/>
<rect x="701.87" y="1200.23" width="11.83" height="11.47" fill="#fea647"/>
<rect x="713.7" y="1200.23" width="35.5" height="11.47" fill="#fd9941"/>
<rect x="749.2" y="1200.23" width="11.83" height="11.47" fill="#fd7836"/>
<rect x="761.03" y="1200.23" width="11.83" height="11.47" fill="#ef3223"/>
<rect x="772.87" y="1200.23" width="11.83" height="11.47" fill="#e6211e"/>
<rect x="784.7" y="1200.23" width="11.83" height="11.47" fill="#eb2b21"/>
<rect x="796.53" y="1200.23" width="11.83" height="11.47" fill="#fc6b32"/>
<rect x="808.37" y="1200.23" width="11.83" height="11.47" fill="#fc4e2a"/>
<rect x="820.2" y="1200.23" width="11.83" height="11.47" fill="#ffeda0"/>
<rect x="832.03" y="1200.23" width="11.83" height="11.47" fill="#ffe692"/>
<rect x="843.87" y="1200.23" width="11.83" height="11.47" fill="#febf5a"/>
<rect x="855.7" y="1200.23" width="11.83" height="11.47" fill="#fecc68"/>
<rect x="867.53" y="1200.23" width="11.83" height="11.47" fill="#ffe794"/>
<rect x="879.37" y="1200.23" width="11.83" height="11.47" fill="#fff2ad"/>
<rect x="607.2" y="1211.7" width="11.83" height="11.47" fill="#fff2ad"/>
<rect x="619.03" y="1211.7" width="23.67" height="11.47" fill="#fff9bc"/>
<rect x="642.7" y="1211.7" width="11.83" height="11.47" fill="#fff2ad"/>
<rect x="654.53" y="1211.7" width="11.83" height="11.47" fill="#fff9bc"/>
<rect x="666.37" y="1211.7" width="11.83" height="11.47" fill="#fff2ad"/>
<rect x="678.2" y="1211.7" width="11.83" height="11.47" fill="#ffe794"/>
<rect x="690.03" y="1211.7" width="11.83" height="11.47" fill="#ffeda0"/>
<rect x="701.87" y="1211.7" width="23.67" height="11.47" fill="#fecc68"/>
<rect x="725.53" y="1211.7" width="11.83" height="11.47" fill="#fc6330"/>
<rect x="737.37" y="1211.7" width="11.83" height="11.47" fill="#fd7836"/>
<rect x="749.2" y="1211.7" width="23.67" height="11.47" fill="#f43d25"/>
<rect x="772.87" y="1211.7" width="11.83" height="11.47" fill="#c20325"/>
<rect x="784.7" y="1211.7" width="11.83" height="11.47" fill="#e8241f"/>
<rect x="796.53" y="1211.7" width="23.67" height="11.47" fill="#feb24c"/>
<rect x="820.2" y="1211.7" width="11.83" height="11.47" fill="#fd9941"/>
<rect x="832.03" y="1211.7" width="11.83" height="11.47" fill="#ffe692"/>
<rect x="843.87" y="1211.7" width="23.67" height="11.47" fill="#fecc68"/>
<rect x="867.53" y="1211.7" width="11.83" height="11.47" fill="#ffe794"/>
<rect x="879.37" y="1211.7" width="11.83" height="11.47" fill="#fedb79"/>
<rect x="891.2" y="1211.7" width="11.83" height="11.47" fill="#fff9bc"/>
<rect x="903.03" y="1211.7" width="11.83" height="11.47" fill="#ffe794"/>
<rect x="607.2" y="1223.17" width="11.83" height="11.47" fill="#fff9bc"/>
<rect x="642.7" y="1223.17" width="11.83" height="11.47" fill="#fff9bc"/>
<rect x="654.53" y="1223.17" width="23.67" height="11.47" fill="#ffe794"/>
<rect x="678.2" y="1223.17" width="11.83" height="11.47" fill="#fedb79"/>
<rect x="690.03" y="1223.17" width="11.83" height="11.47" fill="#febf5a"/>
<rect x="701.87" y="1223.17" width="11.83" height="11.47" fill="#ffeda0"/>
<rect x="713.7" y="1223.17" width="11.83" height="11.47" fill="#fc6b32"/>
<rect x="725.53" y="1223.17" width="11.83" height="11.47" fill="#f43d25"/>
<rect x="737.37" y="1223.17" width="11.83" height="11.47" fill="#fc6330"/>
<rect x="749.2" y="1223.17" width="11.83" height="11.47" fill="#c20325"/>
<rect x="761.03" y="1223.17" width="11.83" height="11.47" fill="#fc6330"/>
<rect x="772.87" y="1223.17" width="11.83" height="11.47" fill="#800026"/>
<rect x="784.7" y="1223.17" width="11.83" height="11.47" fill="#f43d25"/>
<rect x="796.53" y="1223.17" width="11.83" height="11.47" fill="#fc562c"/>
<rect x="808.37" y="1223.17" width="11.83" height="11.47" fill="#fd9941"/>
<rect x="820.2" y="1223.17" width="23.67" height="11.47" fill="#feb24c"/>
<rect x="843.87" y="1223.17" width="11.83" height="11.47" fill="#ffe692"/>
<rect x="855.7" y="1223.17" width="11.83" height="11.47" fill="#fee084"/>
<rect x="867.53" y="1223.17" width="11.83" height="11.47" fill="#ffe794"/>
<rect x="879.37" y="1223.17" width="23.67" height="11.47" fill="#fff2ad"/>
<rect x="914.87" y="1223.17" width="35.5" height="11.47" fill="#fff9bc"/>
<rect x="630.87" y="1234.65" width="11.83" height="11.47" fill="#fff9bc"/>
<rect x="642.7" y="1234.65" width="11.83" height="11.47" fill="#ffe794"/>
<rect x="654.53" y="1234.65" width="11.83" height="11.47" fill="#fff2ad"/>
<rect x="666.37" y="1234.65" width="23.67" height="11.47" fill="#fedb79"/>
<rect x="690.03" y="1234.65" width="23.67" height="11.47" fill="#ffeda0"/>
<rect x="713.7" y="1234.65" width="11.83" height="11.47" fill="#fc5b2e"/>
<rect x="725.53" y="1234.65" width="11.83" height="11.47" fill="#fea647"/>
<rect x="737.37" y="1234.65" width="11.83" height="11.47" fill="#eb2b21"/>
<rect x="749.2" y="1234.65" width="11.83" height="11.47" fill="#fc6b32"/>
<rect x="761.03" y="1234.65" width="11.83" height="11.47" fill="#e31a1c"/>
<rect x="772.87" y="1234.65" width="11.83" height="11.47" fill="#e8241f"/>
<rect x="784.7" y="1234.65" width="11.83" height="11.47" fill="#c20325"/>
<rect x="796.53" y="1234.65" width="11.83" height="11.47" fill="#fea647"/>
<rect x="808.37" y="1234.65" width="11.83" height="11.47" fill="#d6111f"/>
<rect x="820.2" y="1234.65" width="11.83" height="11.47" fill="#feb24c"/>
<rect x="832.03" y="1234.65" width="11.83" height="11.47" fill="#febf5a"/>
<rect x="843.87" y="1234.65" width="11.83" height="11.47" fill="#feb24c"/>
<rect x="855.7" y="1234.65" width="11.83" height="11.47" fill="#ffeda0"/>
<rect x="867.53" y="1234.65" width="11.83" height="11.47" fill="#ffe794"/>
<rect x="879.37" y="1234.65" width="11.83" height="11.47" fill="#fff9bc"/>
<rect x="607.2" y="1246.12" width="11.83" height="11.47" fill="#fff9bc"/>
<rect x="642.7" y="1246.12" width="11.83" height="11.47" fill="#fff9bc"/>
<rect x="654.53" y="1246.12" width="11.83" height="11.47" fill="#fff2ad"/>
<rect x="666.37" y="1246.12" width="11.83" height="11.47" fill="#ffe794"/>
<rect x="678.2" y="1246.12" width="11.83" height="11.47" fill="#fff2ad"/>
<rect x="690.03" y="1246.12" width="11.83" height="11.47" fill="#fff3af"/>
<rect x="701.87" y="1246.12" width="11.83" height="11.47" fill="#fee084"/>
<rect x="713.7" y="1246.12" width="11.83" height="11.47" fill="#feb24c"/>
<rect x="725.53" y="1246.12" width="11.83" height="11.47" fill="#fc4e2a"/>
<rect x="737.37" y="1246.12" width="11.83" height="11.47" fill="#fea647"/>
<rect x="749.2" y="1246.12" width="11.83" height="11.47" fill="#fd9941"/>
<rect x="761.03" y="1246.12" width="11.83" height="11.47" fill="#feb24c"/>
<rect x="772.87" y="1246.12" width="11.83" height="11.47" fill="#f43d25"/>
<rect x="784.7" y="1246.12" width="11.83" height="11.47" fill="#9c0026"/>
<rect x="796.53" y="1246.12" width="11.83" height="11.47" fill="#fd8038"/>
<rect x="808.37" y="1246.12" width="11.83" height="11.47" fill="#fc6b32"/>
<rect x="820.2" y="1246.12" width="11.83" height="11.47" fill="#ffeda0"/>
<rect x="832.03" y="1246.12" width="11.83" height="11.47" fill="#fee084"/>
<rect x="843.87" y="1246.12" width="11.83" height="11.47" fill="#ffe692"/>
<rect x="855.7" y="1246.12" width="11.83" height="11.47" fill="#ffeda0"/>
<rect x="867.53" y="1246.12" width="11.83" height="11.47" fill="#fedb79"/>
<rect x="879.37" y="1246.12" width="11.83" height="11.47" fill="#fff9bc"/>
<rect x="642.7" y="1257.59" width="11.83" height="11.47" fill="#ffe794"/>
<rect x="654.53" y="1257.59" width="23.67" height="11.47" fill="#fff2ad"/>
<rect x="678.2" y="1257.59" width="11.83" height="11.47" fill="#fff9bc"/>
<rect x="690.03" y="1257.59" width="11.83" height="11.47" fill="#fff3af"/>
<rect x="701.87" y="1257.59" width="11.83" height="11.47" fill="#ffe692"/>
<rect x="713.7" y="1257.59" width="11.83" height="11.47" fill="#fecc68"/>
<rect x="725.53" y="1257.59" width="11.83" height="11.47" fill="#fd9941"/>
<rect x="737.37" y="1257.59" width="11.83" height="11.47" fill="#fd7836"/>
<rect x="749.2" y="1257.59" width="11.83" height="11.47" fill="#fc562c"/>
<rect x="761.03" y="1257.59" width="11.83" height="11.47" fill="#feb24c"/>
<rect x="772.87" y="1257.59" width="11.83" height="11.47" fill="#f43d25"/>
<rect x="784.7" y="1257.59" width="11.83" height="11.47" fill="#fc4e2a"/>
<rect x="796.53" y="1257.59" width="11.83" height="11.47" fill="#f74427"/>
<rect x="808.37" y="1257.59" width="11.83" height="11.47" fill="#fea647"/>
<rect x="820.2" y="1257.59" width="11.83" height="11.47" fill="#ffe692"/>
<rect x="832.03" y="1257.59" width="11.83" height="11.47" fill="#fd9941"/>
<rect x="843.87" y="1257.59" width="23.67" height="11.47" fill="#ffeda0"/>
<rect x="867.53" y="1257.59" width="23.67" height="11.47" fill="#fff2ad"/>
<rect x="891.2" y="1257.59" width="35.5" height="11.47" fill="#fff9bc"/>
<rect x="642.7" y="1269.07" width="11.83" height="11.47" fill="#fff9bc"/>
<rect x="654.53" y="1269.07" width="35.5" height="11.47" fill="#fff2ad"/>
<rect x="690.03" y="1269.07" width="23.67" height="11.47" fill="#ffeda0"/>
<rect x="713.7" y="1269.07" width="11.83" height="11.47" fill="#fee084"/>
<rect x="725.53" y="1269.07" width="11.83" height="11.47" fill="#ffe692"/>
<rect x="737.37" y="1269.07" width="11.83" height="11.47" fill="#fed976"/>
<rect x="749.2" y="1269.07" width="11.83" height="11.47" fill="#fea647"/>
<rect x="761.03" y="1269.07" width="11.83" height="11.47" fill="#fd9941"/>
<rect x="772.87" y="1269.07" width="11.83" height="11.47" fill="#fc562c"/>
<rect x="784.7" y="1269.07" width="23.67" height="11.47" fill="#feb24c"/>
<rect x="808.37" y="1269.07" width="11.83" height="11.47" fill="#fd8038"/>
<rect x="820.2" y="1269.07" width="11.83" height="11.47" fill="#fecc68"/>
<rect x="832.03" y="1269.07" width="35.5" height="11.47" fill="#ffe692"/>
<rect x="867.53" y="1269.07" width="11.83" height="11.47" fill="#fff2ad"/>
<rect x="879.37" y="1269.07" width="23.67" height="11.47" fill="#fff9bc"/>
<rect x="914.87" y="1269.07" width="11.83" height="11.47" fill="#fff9bc"/>
<rect x="642.7" y="1280.54" width="11.83" height="11.47" fill="#fff9bc"/>
<rect x="654.53" y="1280.54" width="11.83" height="11.47" fill="#fff2ad"/>
<rect x="666.37" y="1280.54" width="23.67" height="11.47" fill="#fff9bc"/>
<rect x="690.03" y="1280.54" width="11.83" height="11.47" fill="#fff3af"/>
<rect x="701.87" y="1280.54" width="23.67" height="11.47" fill="#fecc68"/>
<rect x="725.53" y="1280.54" width="11.83" height="11.47" fill="#fed976"/>
<rect x="737.37" y="1280.54" width="11.83" height="11.47" fill="#fee084"/>
<rect x="749.2" y="1280.54" width="11.83" height="11.47" fill="#feb24c"/>
<rect x="761.03" y="1280.54" width="35.5" height="11.47" fill="#fee084"/>
<rect x="796.53" y="1280.54" width="11.83" height="11.47" fill="#ffe692"/>
<rect x="808.37" y="1280.54" width="11.83" height="11.47" fill="#fecc68"/>
<rect x="820.2" y="1280.54" width="11.83" height="11.47" fill="#ffeda0"/>
<rect x="832.03" y="1280.54" width="11.83" height="11.47" fill="#ffe692"/>
<rect x="843.87" y="1280.54" width="23.67" height="11.47" fill="#fff3af"/>
<rect x="891.2" y="1280.54" width="23.67" height="11.47" fill="#fff9bc"/>
<rect x="690.03" y="1292.01" width="23.67" height="11.47" fill="#fff2ad"/>
<rect x="713.7" y="1292.01" width="23.67" height="11.47" fill="#ffe794"/>
<rect x="737.37" y="1292.01" width="11.83" height="11.47" fill="#febe59"/>
<rect x="749.2" y="1292.01" width="11.83" height="11.47" fill="#fea345"/>
<rect x="761.03" y="1292.01" width="11.83" height="11.47" fill="#fff2ad"/>
<rect x="772.87" y="1292.01" width="11.83" height="11.47" fill="#ffe794"/>
<rect x="784.7" y="1292.01" width="11.83" height="11.47" fill="#fff2ad"/>
<rect x="796.53" y="1292.01" width="11.83" height="11.47" fill="#febe59"/>
<rect x="808.37" y="1292.01" width="11.83" height="11.47" fill="#fff2ad"/>
<rect x="820.2" y="1292.01" width="23.67" height="11.47" fill="#ffe794"/>
<rect x="855.7" y="1292.01" width="11.83" height="11.47" fill="#fff9bc"/>
<rect x="867.53" y="1292.01" width="11.83" height="11.47" fill="#ffe794"/>
<rect x="879.37" y="1292.01" width="11.83" height="11.47" fill="#fff9bc"/>
<rect x="891.2" y="1292.01" width="11.83" height="11.47" fill="#fff2ad"/>
<rect x="903.03" y="1292.01" width="23.67" height="11.47" fill="#fff9bc"/>
<rect x="654.53" y="1303.49" width="11.83" height="11.47" fill="#fff9bc"/>
<rect x="666.37" y="1303.49" width="35.5" height="11.47" fill="#fff2ad"/>
<rect x="701.87" y="1303.49" width="11.83" height="11.47" fill="#fff9bc"/>
<rect x="713.7" y="1303.49" width="11.83" height="11.47" fill="#fff2ad"/>
<rect x="725.53" y="1303.49" width="11.83" height="11.47" fill="#fff9bc"/>
<rect x="737.37" y="1303.49" width="11.83" height="11.47" fill="#ffe794"/>
<rect x="749.2" y="1303.49" width="11.83" height="11.47" fill="#fedb79"/>
<rect x="761.03" y="1303.49" width="11.83" height="11.47" fill="#fff2ad"/>
<rect x="772.87" y="1303.49" width="35.5" height="11.47" fill="#ffe794"/>
<rect x="808.37" y="1303.49" width="11.83" height="11.47" fill="#fff2ad"/>
<rect x="820.2" y="1303.49" width="35.5" height="11.47" fill="#ffe794"/>
<rect x="666.37" y="1314.96" width="11.83" height="11.47" fill="#fff9bc"/>
<rect x="690.03" y="1314.96" width="11.83" height="11.47" fill="#fff2ad"/>
<rect x="713.7" y="1314.96" width="11.83" height="11.47" fill="#fff9bc"/>
<rect x="749.2" y="1314.96" width="11.83" height="11.47" fill="#fff2ad"/>
<rect x="761.03" y="1314.96" width="11.83" height="11.47" fill="#fff9bc"/>
<rect x="772.87" y="1314.96" width="11.83" height="11.47" fill="#fff2ad"/>
<rect x="784.7" y="1314.96" width="11.83" height="11.47" fill="#fff9bc"/>
<rect x="796.53" y="1314.96" width="23.67" height="11.47" fill="#fff2ad"/>
<rect x="820.2" y="1314.96" width="11.83" height="11.47" fill="#fff9bc"/>
<rect x="832.03" y="1314.96" width="35.5" height="11.47" fill="#fff2ad"/>
<rect x="678.2" y="1326.43" width="23.67" height="11.47" fill="#fff9bc"/>
<rect x="701.87" y="1326.43" width="11.83" height="11.47" fill="#ffe794"/>
<rect x="713.7" y="1326.43" width="11.83" height="11.47" fill="#fff2ad"/>
<rect x="725.53" y="1326.43" width="11.83" height="11.47" fill="#ffe794"/>
<rect x="749.2" y="1326.43" width="11.83" height="11.47" fill="#fff2ad"/>
<rect x="761.03" y="1326.43" width="23.67" height="11.47" fill="#ffe794"/>
<rect x="784.7" y="1326.43" width="11.83" height="11.47" fill="#fff2ad"/>
<rect x="808.37" y="1326.43" width="23.67" height="11.47" fill="#ffe794"/>
<rect x="832.03" y="1326.43" width="23.67" height="11.47" fill="#fff9bc"/>
<rect x="761.03" y="1337.91" width="11.83" height="11.47" fill="#fedb79"/>
<rect x="772.87" y="1337.91" width="23.67" height="11.47" fill="#fff2ad"/>
<rect x="796.53" y="1337.91" width="47.33" height="11.47" fill="#fff9bc"/>
<rect x="843.87" y="1337.91" width="11.83" height="11.47" fill="#fff2ad"/>
<rect x="891.2" y="1337.91" width="11.83" height="11.47" fill="#fff9bc"/>
<rect x="690.03" y="1349.38" width="11.83" height="11.47" fill="#fff2ad"/>
<rect x="701.87" y="1349.38" width="35.5" height="11.47" fill="#fff9bc"/>
<rect x="737.37" y="1349.38" width="11.83" height="11.47" fill="#fff2ad"/>
<rect x="749.2" y="1349.38" width="11.83" height="11.47" fill="#fff9bc"/>
<rect x="784.7" y="1349.38" width="11.83" height="11.47" fill="#fff9bc"/>
<rect x="891.2" y="1349.38" width="11.83" height="11.47" fill="#fff9bc"/>
<rect x="784.7" y="1360.85" width="11.83" height="11.47" fill="#fff9bc"/>
<rect x="820.2" y="1360.85" width="11.83" height="11.47" fill="#fff9bc"/>
<rect x="843.87" y="1360.85" width="11.83" height="11.47" fill="#fff9bc"/>
<rect x="796.53" y="1372.33" width="23.67" height="11.47" fill="#fff9bc"/>
</g>
<rect x="607.2" y="1039.6" width="355" height="344.2" fill="none" stroke="#000" stroke-width="4.86"/>
<line x1="664.4" x2="664.4" y1="1386.23" y2="1390.13" stroke="#000" stroke-width="1.4"/>
<text x="664.4" y="1409.6" font-size="17.0" text-anchor="middle">−2</text>
<line x1="771.8" x2="771.8" y1="1386.23" y2="1390.13" stroke="#000" stroke-width="1.4"/>
<text x="771.8" y="1409.6" font-size="17.0" text-anchor="middle">0</text>
<line x1="879.2" x2="879.2" y1="1386.23" y2="1390.13" stroke="#000" stroke-width="1.4"/>
<text x="879.2" y="1409.6" font-size="17.0" text-anchor="middle">2</text>
<line x1="600.87" x2="604.77" y1="1053.9" y2="1053.9" stroke="#000" stroke-width="1.4"/>
<text x="595" y="1060.1" font-size="17.0" text-anchor="end">3</text>
<line x1="600.87" x2="604.77" y1="1107.85" y2="1107.85" stroke="#000" stroke-width="1.4"/>
<text x="595" y="1114.05" font-size="17.0" text-anchor="end">2</text>
<line x1="600.87" x2="604.77" y1="1161.8" y2="1161.8" stroke="#000" stroke-width="1.4"/>
<text x="595" y="1168" font-size="17.0" text-anchor="end">1</text>
<line x1="600.87" x2="604.77" y1="1215.75" y2="1215.75" stroke="#000" stroke-width="1.4"/>
<text x="595" y="1221.95" font-size="17.0" text-anchor="end">0</text>
<line x1="600.87" x2="604.77" y1="1269.7" y2="1269.7" stroke="#000" stroke-width="1.4"/>
<text x="595" y="1275.9" font-size="17.0" text-anchor="end">−1</text>
<line x1="600.87" x2="604.77" y1="1323.65" y2="1323.65" stroke="#000" stroke-width="1.4"/>
<text x="595" y="1329.85" font-size="17.0" text-anchor="end">−2</text>
<line x1="600.87" x2="604.77" y1="1377.6" y2="1377.6" stroke="#000" stroke-width="1.4"/>
<text x="595" y="1383.8" font-size="17.0" text-anchor="end">−3</text>
<text x="785.1" y="1029.6" font-size="22.2" letter-spacing="0.28" text-anchor="middle">b=1/7, No. of matrices=3</text>
<text x="785.5" y="1437.5" font-size="22.2" letter-spacing="0.5" text-anchor="middle">Re z</text>
<rect x="984.7" y="973.8" width="23.6" height="475.5" fill="url(#g)" stroke="#000" stroke-width="4.86"/>
<line x1="1010.73" x2="1014.63" y1="1449.3" y2="1449.3" stroke="#000" stroke-width="1.4"/>
<text x="1020.6" y="1455.9" font-size="17.0">0</text>
<line x1="1010.73" x2="1014.63" y1="1354.2" y2="1354.2" stroke="#000" stroke-width="1.4"/>
<text x="1020.6" y="1360.8" font-size="17.0">2</text>
<line x1="1010.73" x2="1014.63" y1="1259.1" y2="1259.1" stroke="#000" stroke-width="1.4"/>
<text x="1020.6" y="1265.7" font-size="17.0">4</text>
<line x1="1010.73" x2="1014.63" y1="1164" y2="1164" stroke="#000" stroke-width="1.4"/>
<text x="1020.6" y="1170.6" font-size="17.0">6</text>
<line x1="1010.73" x2="1014.63" y1="1068.9" y2="1068.9" stroke="#000" stroke-width="1.4"/>
<text x="1020.6" y="1075.5" font-size="17.0">8</text>
<line x1="1010.73" x2="1014.63" y1="973.8" y2="973.8" stroke="#000" stroke-width="1.4"/>
<text x="1020.6" y="980.4" font-size="17.0">10</text>
<g shape-rendering="crispEdges">
<rect x="77.4" y="1519.9" width="355.1" height="356.3" fill="#ffffcc"/>
<rect x="195.77" y="1519.9" width="35.51" height="11.88" fill="#fed976"/>
<rect x="231.28" y="1519.9" width="11.84" height="11.88" fill="#fd8d3c"/>
<rect x="243.11" y="1519.9" width="59.18" height="11.88" fill="#fed976"/>
<rect x="314.13" y="1519.9" width="11.84" height="11.88" fill="#fed976"/>
<rect x="172.09" y="1531.78" width="11.84" height="11.88" fill="#fed976"/>
<rect x="195.77" y="1531.78" width="47.35" height="11.88" fill="#fd8d3c"/>
<rect x="254.95" y="1531.78" width="11.84" height="11.88" fill="#fed976"/>
<rect x="266.79" y="1531.78" width="11.84" height="11.88" fill="#fd8d3c"/>
<rect x="278.62" y="1531.78" width="11.84" height="11.88" fill="#e31a1c"/>
<rect x="290.46" y="1531.78" width="11.84" height="11.88" fill="#fd8d3c"/>
<rect x="302.3" y="1531.78" width="23.67" height="11.88" fill="#fed976"/>
<rect x="160.26" y="1543.65" width="11.84" height="11.88" fill="#fd8d3c"/>
<rect x="172.09" y="1543.65" width="11.84" height="11.88" fill="#fed976"/>
<rect x="183.93" y="1543.65" width="11.84" height="11.88" fill="#e31a1c"/>
<rect x="195.77" y="1543.65" width="23.67" height="11.88" fill="#fed976"/>
<rect x="219.44" y="1543.65" width="35.51" height="11.88" fill="#fd8d3c"/>
<rect x="254.95" y="1543.65" width="11.84" height="11.88" fill="#e31a1c"/>
<rect x="290.46" y="1543.65" width="35.51" height="11.88" fill="#fed976"/>
<rect x="325.97" y="1543.65" width="11.84" height="11.88" fill="#fd8d3c"/>
<rect x="337.81" y="1543.65" width="23.67" height="11.88" fill="#fed976"/>
<rect x="136.58" y="1555.53" width="82.86" height="11.88" fill="#fed976"/>
<rect x="219.44" y="1555.53" width="11.84" height="11.88" fill="#fd8d3c"/>
<rect x="243.11" y="1555.53" width="23.67" height="11.88" fill="#fed976"/>
<rect x="266.79" y="1555.53" width="11.84" height="11.88" fill="#e31a1c"/>
<rect x="278.62" y="1555.53" width="23.67" height="11.88" fill="#fed976"/>
<rect x="302.3" y="1555.53" width="11.84" height="11.88" fill="#fd8d3c"/>
<rect x="314.13" y="1555.53" width="23.67" height="11.88" fill="#fed976"/>
<rect x="337.81" y="1555.53" width="11.84" height="11.88" fill="#fd8d3c"/>
<rect x="349.64" y="1555.53" width="11.84" height="11.88" fill="#e31a1c"/>
<rect x="136.58" y="1567.41" width="11.84" height="11.88" fill="#e31a1c"/>
<rect x="148.42" y="1567.41" width="11.84" height="11.88" fill="#fed976"/>
<rect x="160.26" y="1567.41" width="23.67" height="11.88" fill="#fd8d3c"/>
<rect x="183.93" y="1567.41" width="23.67" height="11.88" fill="#fed976"/>
<rect x="207.6" y="1567.41" width="11.84" height="11.88" fill="#fd8d3c"/>
<rect x="231.28" y="1567.41" width="11.84" height="11.88" fill="#e31a1c"/>
<rect x="243.11" y="1567.41" width="23.67" height="11.88" fill="#fed976"/>
<rect x="266.79" y="1567.41" width="35.51" height="11.88" fill="#fd8d3c"/>
<rect x="314.13" y="1567.41" width="11.84" height="11.88" fill="#fd8d3c"/>
<rect x="325.97" y="1567.41" width="11.84" height="11.88" fill="#fed976"/>
<rect x="337.81" y="1567.41" width="11.84" height="11.88" fill="#fd8d3c"/>
<rect x="361.48" y="1567.41" width="11.84" height="11.88" fill="#fd8d3c"/>
<rect x="112.91" y="1579.28" width="11.84" height="11.88" fill="#fed976"/>
<rect x="124.75" y="1579.28" width="11.84" height="11.88" fill="#fd8d3c"/>
<rect x="136.58" y="1579.28" width="11.84" height="11.88" fill="#fed976"/>
<rect x="160.26" y="1579.28" width="11.84" height="11.88" fill="#fed976"/>
<rect x="183.93" y="1579.28" width="11.84" height="11.88" fill="#fd8d3c"/>
<rect x="195.77" y="1579.28" width="11.84" height="11.88" fill="#e31a1c"/>
<rect x="207.6" y="1579.28" width="11.84" height="11.88" fill="#fed976"/>
<rect x="219.44" y="1579.28" width="23.67" height="11.88" fill="#fd8d3c"/>
<rect x="266.79" y="1579.28" width="35.51" height="11.88" fill="#fed976"/>
<rect x="302.3" y="1579.28" width="11.84" height="11.88" fill="#e31a1c"/>
<rect x="314.13" y="1579.28" width="11.84" height="11.88" fill="#fed976"/>
<rect x="337.81" y="1579.28" width="11.84" height="11.88" fill="#e31a1c"/>
<rect x="349.64" y="1579.28" width="11.84" height="11.88" fill="#fed976"/>
<rect x="361.48" y="1579.28" width="23.67" height="11.88" fill="#fd8d3c"/>
<rect x="385.15" y="1579.28" width="11.84" height="11.88" fill="#fed976"/>
<rect x="101.07" y="1591.16" width="23.67" height="11.88" fill="#fed976"/>
<rect x="124.75" y="1591.16" width="23.67" height="11.88" fill="#fd8d3c"/>
<rect x="148.42" y="1591.16" width="11.84" height="11.88" fill="#fed976"/>
<rect x="160.26" y="1591.16" width="11.84" height="11.88" fill="#fd8d3c"/>
<rect x="172.09" y="1591.16" width="11.84" height="11.88" fill="#fed976"/>
<rect x="183.93" y="1591.16" width="11.84" height="11.88" fill="#fd8d3c"/>
<rect x="195.77" y="1591.16" width="35.51" height="11.88" fill="#fed976"/>
<rect x="231.28" y="1591.16" width="71.02" height="11.88" fill="#fd8d3c"/>
<rect x="314.13" y="1591.16" width="11.84" height="11.88" fill="#fd8d3c"/>
<rect x="325.97" y="1591.16" width="35.51" height="11.88" fill="#fed976"/>
<rect x="361.48" y="1591.16" width="11.84" height="11.88" fill="#fd8d3c"/>
<rect x="373.32" y="1591.16" width="11.84" height="11.88" fill="#fed976"/>
<rect x="385.15" y="1591.16" width="11.84" height="11.88" fill="#fd8d3c"/>
<rect x="101.07" y="1603.04" width="11.84" height="11.88" fill="#fd8d3c"/>
<rect x="124.75" y="1603.04" width="23.67" height="11.88" fill="#fd8d3c"/>
<rect x="160.26" y="1603.04" width="23.67" height="11.88" fill="#e31a1c"/>
<rect x="195.77" y="1603.04" width="11.84" height="11.88" fill="#fd8d3c"/>
<rect x="207.6" y="1603.04" width="11.84" height="11.88" fill="#e31a1c"/>
<rect x="219.44" y="1603.04" width="47.35" height="11.88" fill="#fed976"/>
<rect x="266.79" y="1603.04" width="11.84" height="11.88" fill="#fd8d3c"/>
<rect x="278.62" y="1603.04" width="11.84" height="11.88" fill="#fed976"/>
<rect x="290.46" y="1603.04" width="11.84" height="11.88" fill="#fd8d3c"/>
<rect x="302.3" y="1603.04" width="11.84" height="11.88" fill="#fed976"/>
<rect x="314.13" y="1603.04" width="11.84" height="11.88" fill="#fd8d3c"/>
<rect x="325.97" y="1603.04" width="11.84" height="11.88" fill="#fed976"/>
<rect x="337.81" y="1603.04" width="11.84" height="11.88" fill="#e31a1c"/>
<rect x="349.64" y="1603.04" width="11.84" height="11.88" fill="#fed976"/>
<rect x="373.32" y="1603.04" width="11.84" height="11.88" fill="#fd8d3c"/>
<rect x="385.15" y="1603.04" width="11.84" height="11.88" fill="#e31a1c"/>
<rect x="89.24" y="1614.91" width="11.84" height="11.88" fill="#fd8d3c"/>
<rect x="101.07" y="1614.91" width="11.84" height="11.88" fill="#fed976"/>
<rect x="112.91" y="1614.91" width="11.84" height="11.88" fill="#fd8d3c"/>
<rect x="124.75" y="1614.91" width="11.84" height="11.88" fill="#fed976"/>
<rect x="136.58" y="1614.91" width="11.84" height="11.88" fill="#fd8d3c"/>
<rect x="148.42" y="1614.91" width="47.35" height="11.88" fill="#fed976"/>
<rect x="195.77" y="1614.91" width="11.84" height="11.88" fill="#e31a1c"/>
<rect x="219.44" y="1614.91" width="11.84" height="11.88" fill="#e31a1c"/>
<rect x="231.28" y="1614.91" width="47.35" height="11.88" fill="#fed976"/>
<rect x="290.46" y="1614.91" width="11.84" height="11.88" fill="#800026"/>
<rect x="314.13" y="1614.91" width="35.51" height="11.88" fill="#fed976"/>
<rect x="349.64" y="1614.91" width="23.67" height="11.88" fill="#fd8d3c"/>
<rect x="373.32" y="1614.91" width="11.84" height="11.88" fill="#fed976"/>
<rect x="385.15" y="1614.91" width="23.67" height="11.88" fill="#fd8d3c"/>
<rect x="408.83" y="1614.91" width="11.84" height="11.88" fill="#fed976"/>
<rect x="89.24" y="1626.79" width="35.51" height="11.88" fill="#fed976"/>
<rect x="136.58" y="1626.79" width="23.67" height="11.88" fill="#fed976"/>
<rect x="160.26" y="1626.79" width="11.84" height="11.88" fill="#fd8d3c"/>
<rect x="172.09" y="1626.79" width="11.84" height="11.88" fill="#fed976"/>
<rect x="183.93" y="1626.79" width="11.84" height="11.88" fill="#fd8d3c"/>
<rect x="195.77" y="1626.79" width="11.84" height="11.88" fill="#fed976"/>
<rect x="219.44" y="1626.79" width="11.84" height="11.88" fill="#e31a1c"/>
<rect x="231.28" y="1626.79" width="11.84" height="11.88" fill="#fed976"/>
<rect x="243.11" y="1626.79" width="11.84" height="11.88" fill="#fd8d3c"/>
<rect x="254.95" y="1626.79" width="11.84" height="11.88" fill="#e31a1c"/>
<rect x="266.79" y="1626.79" width="11.84" height="11.88" fill="#fed976"/>
<rect x="278.62" y="1626.79" width="11.84" height="11.88" fill="#e31a1c"/>
<rect x="290.46" y="1626.79" width="23.67" height="11.88" fill="#fed976"/>
<rect x="314.13" y="1626.79" width="11.84" height="11.88" fill="#fd8d3c"/>
<rect x="325.97" y="1626.79" width="11.84" height="11.88" fill="#fed976"/>
<rect x="337.81" y="1626.79" width="11.84" height="11.88" fill="#fd8d3c"/>
<rect x="349.64" y="1626.79" width="11.84" height="11.88" fill="#fed976"/>
<rect x="361.48" y="1626.79" width="11.84" height="11.88" fill="#fd8d3c"/>
<rect x="373.32" y="1626.79" width="23.67" height="11.88" fill="#fed976"/>
<rect x="408.83" y="1626.79" width="11.84" height="11.88" fill="#fed976"/>
<rect x="77.4" y="1638.67" width="35.51" height="11.88" fill="#fed976"/>
<rect x="112.91" y="1638.67" width="11.84" height="11.88" fill="#e31a1c"/>
<rect x="124.75" y="1638.67" width="11.84" height="11.88" fill="#fed976"/>
<rect x="136.58" y="1638.67" width="11.84" height="11.88" fill="#fd8d3c"/>
<rect x="148.42" y="1638.67" width="11.84" height="11.88" fill="#fed976"/>
<rect x="160.26" y="1638.67" width="59.18" height="11.88" fill="#fd8d3c"/>
<rect x="243.11" y="1638.67" width="11.84" height="11.88" fill="#fed976"/>
<rect x="266.79" y="1638.67" width="11.84" height="11.88" fill="#e31a1c"/>
<rect x="278.62" y="1638.67" width="11.84" height="11.88" fill="#fed976"/>
<rect x="290.46" y="1638.67" width="11.84" height="11.88" fill="#fd8d3c"/>
<rect x="302.3" y="1638.67" width="11.84" height="11.88" fill="#fed976"/>
<rect x="314.13" y="1638.67" width="23.67" height="11.88" fill="#fd8d3c"/>
<rect x="337.81" y="1638.67" width="11.84" height="11.88" fill="#fed976"/>
<rect x="349.64" y="1638.67" width="11.84" height="11.88" fill="#fd8d3c"/>
<rect x="361.48" y="1638.67" width="11.84" height="11.88" fill="#fed976"/>
<rect x="373.32" y="1638.67" width="11.84" height="11.88" fill="#fd8d3c"/>
<rect x="385.15" y="1638.67" width="11.84" height="11.88" fill="#e31a1c"/>
<rect x="396.99" y="1638.67" width="23.67" height="11.88" fill="#fd8d3c"/>
<rect x="77.4" y="1650.54" width="11.84" height="11.88" fill="#fed976"/>
<rect x="101.07" y="1650.54" width="11.84" height="11.88" fill="#fd8d3c"/>
<rect x="124.75" y="1650.54" width="11.84" height="11.88" fill="#fd8d3c"/>
<rect x="136.58" y="1650.54" width="11.84" height="11.88" fill="#e31a1c"/>
<rect x="160.26" y="1650.54" width="23.67" height="11.88" fill="#fd8d3c"/>
<rect x="183.93" y="1650.54" width="47.35" height="11.88" fill="#fed976"/>
<rect x="231.28" y="1650.54" width="11.84" height="11.88" fill="#fd8d3c"/>
<rect x="243.11" y="1650.54" width="11.84" height="11.88" fill="#fed976"/>
<rect x="254.95" y="1650.54" width="47.35" height="11.88" fill="#fd8d3c"/>
<rect x="314.13" y="1650.54" width="11.84" height="11.88" fill="#fed976"/>
<rect x="325.97" y="1650.54" width="35.51" height="11.88" fill="#fd8d3c"/>
<rect x="361.48" y="1650.54" width="11.84" height="11.88" fill="#fed976"/>
<rect x="385.15" y="1650.54" width="23.67" height="11.88" fill="#fed976"/>
<rect x="408.83" y="1650.54" width="11.84" height="11.88" fill="#e31a1c"/>
<rect x="420.66" y="1650.54" width="11.84" height="11.88" fill="#fed976"/>
<rect x="77.4" y="1662.42" width="11.84" height="11.88" fill="#fed976"/>
<rect x="89.24" y="1662.42" width="23.67" height="11.88" fill="#fd8d3c"/>
<rect x="112.91" y="1662.42" width="23.67" height="11.88" fill="#fed976"/>
<rect x="148.42" y="1662.42" width="11.84" height="11.88" fill="#fd8d3c"/>
<rect x="160.26" y="1662.42" width="23.67" height="11.88" fill="#fed976"/>
<rect x="183.93" y="1662.42" width="11.84" height="11.88" fill="#fd8d3c"/>
<rect x="195.77" y="1662.42" width="11.84" height="11.88" fill="#fed976"/>
<rect x="207.6" y="1662.42" width="23.67" height="11.88" fill="#fd8d3c"/>
<rect x="231.28" y="1662.42" width="11.84" height="11.88" fill="#fed976"/>
<rect x="243.11" y="1662.42" width="23.67" height="11.88" fill="#fd8d3c"/>
<rect x="278.62" y="1662.42" width="11.84" height="11.88" fill="#fed976"/>
<rect x="302.3" y="1662.42" width="11.84" height="11.88" fill="#800026"/>
<rect x="314.13" y="1662.42" width="23.67" height="11.88" fill="#fed976"/>
<rect x="349.64" y="1662.42" width="11.84" height="11.88" fill="#fd8d3c"/>
<rect x="361.48" y="1662.42" width="11.84" height="11.88" fill="#fed976"/>
<rect x="373.32" y="1662.42" width="11.84" height="11.88" fill="#fd8d3c"/>
<rect x="385.15" y="1662.42" width="35.51" height="11.88" fill="#fed976"/>
<rect x="420.66" y="1662.42" width="11.84" height="11.88" fill="#fd8d3c"/>
<rect x="77.4" y="1674.3" width="11.84" height="11.88" fill="#fd8d3c"/>
<rect x="101.07" y="1674.3" width="11.84" height="11.88" fill="#e31a1c"/>
<rect x="112.91" y="1674.3" width="11.84" height="11.88" fill="#fed976"/>
<rect x="124.75" y="1674.3" width="11.84" height="11.88" fill="#e31a1c"/>
<rect x="136.58" y="1674.3" width="11.84" height="11.88" fill="#fd8d3c"/>
<rect x="148.42" y="1674.3" width="11.84" height="11.88" fill="#fed976"/>
<rect x="160.26" y="1674.3" width="11.84" height="11.88" fill="#fd8d3c"/>
<rect x="172.09" y="1674.3" width="23.67" height="11.88" fill="#fed976"/>
<rect x="195.77" y="1674.3" width="11.84" height="11.88" fill="#fd8d3c"/>
<rect x="207.6" y="1674.3" width="35.51" height="11.88" fill="#fed976"/>
<rect x="243.11" y="1674.3" width="11.84" height="11.88" fill="#fd8d3c"/>
<rect x="254.95" y="1674.3" width="11.84" height="11.88" fill="#fed976"/>
<rect x="266.79" y="1674.3" width="23.67" height="11.88" fill="#e31a1c"/>
<rect x="290.46" y="1674.3" width="23.67" height="11.88" fill="#fed976"/>
<rect x="314.13" y="1674.3" width="11.84" height="11.88" fill="#fd8d3c"/>
<rect x="325.97" y="1674.3" width="23.67" height="11.88" fill="#fed976"/>
<rect x="349.64" y="1674.3" width="11.84" height="11.88" fill="#fd8d3c"/>
<rect x="361.48" y="1674.3" width="59.18" height="11.88" fill="#fed976"/>
<rect x="77.4" y="1686.17" width="23.67" height="11.88" fill="#fed976"/>
<rect x="101.07" y="1686.17" width="47.35" height="11.88" fill="#fd8d3c"/>
<rect x="148.42" y="1686.17" width="11.84" height="11.88" fill="#fed976"/>
<rect x="172.09" y="1686.17" width="23.67" height="11.88" fill="#fd8d3c"/>
<rect x="195.77" y="1686.17" width="11.84" height="11.88" fill="#fed976"/>
<rect x="207.6" y="1686.17" width="23.67" height="11.88" fill="#fd8d3c"/>
<rect x="231.28" y="1686.17" width="47.35" height="11.88" fill="#fed976"/>
<rect x="278.62" y="1686.17" width="11.84" height="11.88" fill="#fd8d3c"/>
<rect x="290.46" y="1686.17" width="11.84" height="11.88" fill="#fed976"/>
<rect x="314.13" y="1686.17" width="11.84" height="11.88" fill="#fed976"/>
<rect x="325.97" y="1686.17" width="11.84" height="11.88" fill="#fd8d3c"/>
<rect x="337.81" y="1686.17" width="11.84" height="11.88" fill="#e31a1c"/>
<rect x="349.64" y="1686.17" width="23.67" height="11.88" fill="#fed976"/>
<rect x="373.32" y="1686.17" width="11.84" height="11.88" fill="#e31a1c"/>
<rect x="385.15" y="1686.17" width="23.67" height="11.88" fill="#fd8d3c"/>
<rect x="408.83" y="1686.17" width="11.84" height="11.88" fill="#e31a1c"/>
<rect x="420.66" y="1686.17" width="11.84" height="11.88" fill="#fd8d3c"/>
<rect x="77.4" y="1698.05" width="11.84" height="11.88" fill="#fd8d3c"/>
<rect x="101.07" y="1698.05" width="11.84" height="11.88" fill="#e31a1c"/>
<rect x="112.91" y="1698.05" width="11.84" height="11.88" fill="#fed976"/>
<rect x="124.75" y="1698.05" width="23.67" height="11.88" fill="#fd8d3c"/>
<rect x="148.42" y="1698.05" width="11.84" height="11.88" fill="#fed976"/>
<rect x="172.09" y="1698.05" width="11.84" height="11.88" fill="#e31a1c"/>
<rect x="183.93" y="1698.05" width="35.51" height="11.88" fill="#fed976"/>
<rect x="219.44" y="1698.05" width="11.84" height="11.88" fill="#fd8d3c"/>
<rect x="231.28" y="1698.05" width="11.84" height="11.88" fill="#fed976"/>
<rect x="243.11" y="1698.05" width="11.84" height="11.88" fill="#fd8d3c"/>
<rect x="254.95" y="1698.05" width="11.84" height="11.88" fill="#fed976"/>
<rect x="278.62" y="1698.05" width="11.84" height="11.88" fill="#fed976"/>
<rect x="290.46" y="1698.05" width="11.84" height="11.88" fill="#fd8d3c"/>
<rect x="302.3" y="1698.05" width="11.84" height="11.88" fill="#fed976"/>
<rect x="314.13" y="1698.05" width="11.84" height="11.88" fill="#e31a1c"/>
<rect x="337.81" y="1698.05" width="11.84" height="11.88" fill="#fd8d3c"/>
<rect x="349.64" y="1698.05" width="11.84" height="11.88" fill="#fed976"/>
<rect x="361.48" y="1698.05" width="11.84" height="11.88" fill="#fd8d3c"/>
<rect x="373.32" y="1698.05" width="11.84" height="11.88" fill="#fed976"/>
<rect x="385.15" y="1698.05" width="11.84" height="11.88" fill="#fd8d3c"/>
<rect x="408.83" y="1698.05" width="23.67" height="11.88" fill="#fed976"/>
<rect x="77.4" y="1709.93" width="47.35" height="11.88" fill="#fed976"/>
<rect x="124.75" y="1709.93" width="11.84" height="11.88" fill="#fd8d3c"/>
<rect x="148.42" y="1709.93" width="11.84" height="11.88" fill="#e31a1c"/>
<rect x="160.26" y="1709.93" width="11.84" height="11.88" fill="#fed976"/>
<rect x="183.93" y="1709.93" width="23.67" height="11.88" fill="#fed976"/>
<rect x="207.6" y="1709.93" width="11.84" height="11.88" fill="#fd8d3c"/>
<rect x="219.44" y="1709.93" width="11.84" height="11.88" fill="#fed976"/>
<rect x="231.28" y="1709.93" width="59.18" height="11.88" fill="#fd8d3c"/>
<rect x="302.3" y="1709.93" width="23.67" height="11.88" fill="#fd8d3c"/>
<rect x="325.97" y="1709.93" width="11.84" height="11.88" fill="#fed976"/>
<rect x="349.64" y="1709.93" width="11.84" height="11.88" fill="#fd8d3c"/>
<rect x="361.48" y="1709.93" width="11.84" height="11.88" fill="#fed976"/>
<rect x="373.32" y="1709.93" width="11.84" height="11.88" fill="#fd8d3c"/>
<rect x="385.15" y="1709.93" width="11.84" height="11.88" fill="#fed976"/>
<rect x="396.99" y="1709.93" width="11.84" height="11.88" fill="#e31a1c"/>
<rect x="408.83" y="1709.93" width="11.84" height="11.88" fill="#fd8d3c"/>
<rect x="77.4" y="1721.8" width="11.84" height="11.88" fill="#fd8d3c"/>
<rect x="89.24" y="1721.8" width="11.84" height="11.88" fill="#fed976"/>
<rect x="101.07" y="1721.8" width="23.67" height="11.88" fill="#fd8d3c"/>
<rect x="124.75" y="1721.8" width="11.84" height="11.88" fill="#fed976"/>
<rect x="136.58" y="1721.8" width="11.84" height="11.88" fill="#fd8d3c"/>
<rect x="148.42" y="1721.8" width="11.84" height="11.88" fill="#fed976"/>
<rect x="160.26" y="1721.8" width="35.51" height="11.88" fill="#fd8d3c"/>
<rect x="195.77" y="1721.8" width="23.67" height="11.88" fill="#fed976"/>
<rect x="219.44" y="1721.8" width="11.84" height="11.88" fill="#fd8d3c"/>
<rect x="243.11" y="1721.8" width="23.67" height="11.88" fill="#fd8d3c"/>
<rect x="266.79" y="1721.8" width="11.84" height="11.88" fill="#fed976"/>
<rect x="290.46" y="1721.8" width="11.84" height="11.88" fill="#e31a1c"/>
<rect x="302.3" y="1721.8" width="11.84" height="11.88" fill="#fed976"/>
<rect x="314.13" y="1721.8" width="23.67" height="11.88" fill="#fd8d3c"/>
<rect x="337.81" y="1721.8" width="11.84" height="11.88" fill="#fed976"/>
<rect x="349.64" y="1721.8" width="23.67" height="11.88" fill="#fd8d3c"/>
<rect x="385.15" y="1721.8" width="11.84" height="11.88" fill="#fed976"/>
<rect x="396.99" y="1721.8" width="11.84" height="11.88" fill="#e31a1c"/>
<rect x="420.66" y="1721.8" width="11.84" height="11.88" fill="#fd8d3c"/>
<rect x="77.4" y="1733.68" width="11.84" height="11.88" fill="#fed976"/>
<rect x="89.24" y="1733.68" width="11.84" height="11.88" fill="#fd8d3c"/>
<rect x="101.07" y="1733.68" width="47.35" height="11.88" fill="#fed976"/>
<rect x="148.42" y="1733.68" width="11.84" height="11.88" fill="#e31a1c"/>
<rect x="160.26" y="1733.68" width="11.84" height="11.88" fill="#fed976"/>
<rect x="183.93" y="1733.68" width="11.84" height="11.88" fill="#e31a1c"/>
<rect x="195.77" y="1733.68" width="23.67" height="11.88" fill="#fed976"/>
<rect x="219.44" y="1733.68" width="23.67" height="11.88" fill="#fd8d3c"/>
<rect x="243.11" y="1733.68" width="23.67" height="11.88" fill="#fed976"/>
<rect x="266.79" y="1733.68" width="23.67" height="11.88" fill="#fd8d3c"/>
<rect x="302.3" y="1733.68" width="11.84" height="11.88" fill="#fd8d3c"/>
<rect x="314.13" y="1733.68" width="11.84" height="11.88" fill="#e31a1c"/>
<rect x="325.97" y="1733.68" width="11.84" height="11.88" fill="#fed976"/>
<rect x="337.81" y="1733.68" width="23.67" height="11.88" fill="#fd8d3c"/>
<rect x="361.48" y="1733.68" width="23.67" height="11.88" fill="#fed976"/>
<rect x="385.15" y="1733.68" width="11.84" height="11.88" fill="#fd8d3c"/>
<rect x="396.99" y="1733.68" width="11.84" height="11.88" fill="#fed976"/>
<rect x="408.83" y="1733.68" width="11.84" height="11.88" fill="#fd8d3c"/>
<rect x="420.66" y="1733.68" width="11.84" height="11.88" fill="#fed976"/>
<rect x="89.24" y="1745.56" width="23.67" height="11.88" fill="#fd8d3c"/>
<rect x="124.75" y="1745.56" width="11.84" height="11.88" fill="#800026"/>
<rect x="148.42" y="1745.56" width="23.67" height="11.88" fill="#fd8d3c"/>
<rect x="172.09" y="1745.56" width="11.84" height="11.88" fill="#fed976"/>
<rect x="183.93" y="1745.56" width="35.51" height="11.88" fill="#fd8d3c"/>
<rect x="231.28" y="1745.56" width="11.84" height="11.88" fill="#fd8d3c"/>
<rect x="243.11" y="1745.56" width="11.84" height="11.88" fill="#fed976"/>
<rect x="254.95" y="1745.56" width="11.84" height="11.88" fill="#e31a1c"/>
<rect x="278.62" y="1745.56" width="11.84" height="11.88" fill="#fd8d3c"/>
<rect x="302.3" y="1745.56" width="11.84" height="11.88" fill="#fd8d3c"/>
<rect x="314.13" y="1745.56" width="23.67" height="11.88" fill="#fed976"/>
<rect x="349.64" y="1745.56" width="35.51" height="11.88" fill="#fed976"/>
<rect x="385.15" y="1745.56" width="11.84" height="11.88" fill="#e31a1c"/>
<rect x="396.99" y="1745.56" width="11.84" height="11.88" fill="#fd8d3c"/>
<rect x="408.83" y="1745.56" width="23.67" height="11.88" fill="#fed976"/>
<rect x="77.4" y="1757.43" width="23.67" height="11.88" fill="#fed976"/>
<rect x="101.07" y="1757.43" width="11.84" height="11.88" fill="#fd8d3c"/>
<rect x="112.91" y="1757.43" width="11.84" height="11.88" fill="#e31a1c"/>
<rect x="124.75" y="1757.43" width="11.84" height="11.88" fill="#fed976"/>
<rect x="136.58" y="1757.43" width="11.84" height="11.88" fill="#fd8d3c"/>
<rect x="160.26" y="1757.43" width="23.67" height="11.88" fill="#fd8d3c"/>
<rect x="183.93" y="1757.43" width="11.84" height="11.88" fill="#fed976"/>
<rect x="195.77" y="1757.43" width="11.84" height="11.88" fill="#fd8d3c"/>
<rect x="207.6" y="1757.43" width="11.84" height="11.88" fill="#fed976"/>
<rect x="219.44" y="1757.43" width="11.84" height="11.88" fill="#fd8d3c"/>
<rect x="231.28" y="1757.43" width="11.84" height="11.88" fill="#fed976"/>
<rect x="243.11" y="1757.43" width="11.84" height="11.88" fill="#e31a1c"/>
<rect x="266.79" y="1757.43" width="35.51" height="11.88" fill="#fd8d3c"/>
<rect x="302.3" y="1757.43" width="23.67" height="11.88" fill="#fed976"/>
<rect x="337.81" y="1757.43" width="11.84" height="11.88" fill="#fed976"/>
<rect x="349.64" y="1757.43" width="11.84" height="11.88" fill="#e31a1c"/>
<rect x="361.48" y="1757.43" width="11.84" height="11.88" fill="#fed976"/>
<rect x="373.32" y="1757.43" width="11.84" height="11.88" fill="#fd8d3c"/>
<rect x="396.99" y="1757.43" width="11.84" height="11.88" fill="#fed976"/>
<rect x="408.83" y="1757.43" width="11.84" height="11.88" fill="#fd8d3c"/>
<rect x="101.07" y="1769.31" width="11.84" height="11.88" fill="#fd8d3c"/>
<rect x="112.91" y="1769.31" width="11.84" height="11.88" fill="#fed976"/>
<rect x="136.58" y="1769.31" width="23.67" height="11.88" fill="#fed976"/>
<rect x="172.09" y="1769.31" width="59.18" height="11.88" fill="#fed976"/>
<rect x="231.28" y="1769.31" width="11.84" height="11.88" fill="#fd8d3c"/>
<rect x="254.95" y="1769.31" width="11.84" height="11.88" fill="#fd8d3c"/>
<rect x="266.79" y="1769.31" width="23.67" height="11.88" fill="#fed976"/>
<rect x="290.46" y="1769.31" width="11.84" height="11.88" fill="#fd8d3c"/>
<rect x="302.3" y="1769.31" width="11.84" height="11.88" fill="#fed976"/>
<rect x="314.13" y="1769.31" width="35.51" height="11.88" fill="#fd8d3c"/>
<rect x="361.48" y="1769.31" width="11.84" height="11.88" fill="#e31a1c"/>
<rect x="385.15" y="1769.31" width="23.67" height="11.88" fill="#fd8d3c"/>
<rect x="101.07" y="1781.19" width="23.67" height="11.88" fill="#fed976"/>
<rect x="124.75" y="1781.19" width="11.84" height="11.88" fill="#fd8d3c"/>
<rect x="136.58" y="1781.19" width="11.84" height="11.88" fill="#fed976"/>
<rect x="148.42" y="1781.19" width="11.84" height="11.88" fill="#fd8d3c"/>
<rect x="160.26" y="1781.19" width="11.84" height="11.88" fill="#fed976"/>
<rect x="172.09" y="1781.19" width="11.84" height="11.88" fill="#e31a1c"/>
<rect x="183.93" y="1781.19" width="23.67" height="11.88" fill="#fed976"/>
<rect x="207.6" y="1781.19" width="23.67" height="11.88" fill="#fd8d3c"/>
<rect x="231.28" y="1781.19" width="11.84" height="11.88" fill="#e31a1c"/>
<rect x="254.95" y="1781.19" width="35.51" height="11.88" fill="#fd8d3c"/>
<rect x="290.46" y="1781.19" width="11.84" height="11.88" fill="#fed976"/>
<rect x="302.3" y="1781.19" width="11.84" height="11.88" fill="#fd8d3c"/>
<rect x="325.97" y="1781.19" width="11.84" height="11.88" fill="#fed976"/>
<rect x="337.81" y="1781.19" width="11.84" height="11.88" fill="#e31a1c"/>
<rect x="361.48" y="1781.19" width="11.84" height="11.88" fill="#fed976"/>
<rect x="373.32" y="1781.19" width="11.84" height="11.88" fill="#fd8d3c"/>
<rect x="385.15" y="1781.19" width="23.67" height="11.88" fill="#fed976"/>
<rect x="101.07" y="1793.06" width="11.84" height="11.88" fill="#fed976"/>
<rect x="112.91" y="1793.06" width="11.84" height="11.88" fill="#fd8d3c"/>
<rect x="124.75" y="1793.06" width="11.84" height="11.88" fill="#e31a1c"/>
<rect x="136.58" y="1793.06" width="11.84" height="11.88" fill="#fed976"/>
<rect x="148.42" y="1793.06" width="23.67" height="11.88" fill="#fd8d3c"/>
<rect x="172.09" y="1793.06" width="11.84" height="11.88" fill="#fed976"/>
<rect x="183.93" y="1793.06" width="23.67" height="11.88" fill="#fd8d3c"/>
<rect x="207.6" y="1793.06" width="23.67" height="11.88" fill="#fed976"/>
<rect x="243.11" y="1793.06" width="11.84" height="11.88" fill="#fd8d3c"/>
<rect x="266.79" y="1793.06" width="11.84" height="11.88" fill="#fd8d3c"/>
<rect x="290.46" y="1793.06" width="11.84" height="11.88" fill="#fd8d3c"/>
<rect x="302.3" y="1793.06" width="23.67" height="11.88" fill="#fed976"/>
<rect x="325.97" y="1793.06" width="11.84" height="11.88" fill="#fd8d3c"/>
<rect x="337.81" y="1793.06" width="35.51" height="11.88" fill="#fed976"/>
<rect x="373.32" y="1793.06" width="11.84" height="11.88" fill="#fd8d3c"/>
<rect x="385.15" y="1793.06" width="11.84" height="11.88" fill="#e31a1c"/>
<rect x="396.99" y="1793.06" width="11.84" height="11.88" fill="#fed976"/>
<rect x="101.07" y="1804.94" width="11.84" height="11.88" fill="#fed976"/>
<rect x="124.75" y="1804.94" width="11.84" height="11.88" fill="#fed976"/>
<rect x="148.42" y="1804.94" width="11.84" height="11.88" fill="#fd8d3c"/>
<rect x="160.26" y="1804.94" width="11.84" height="11.88" fill="#fed976"/>
<rect x="172.09" y="1804.94" width="23.67" height="11.88" fill="#fd8d3c"/>
<rect x="207.6" y="1804.94" width="11.84" height="11.88" fill="#e31a1c"/>
<rect x="219.44" y="1804.94" width="35.51" height="11.88" fill="#fd8d3c"/>
<rect x="254.95" y="1804.94" width="23.67" height="11.88" fill="#fed976"/>
<rect x="278.62" y="1804.94" width="11.84" height="11.88" fill="#fd8d3c"/>
<rect x="302.3" y="1804.94" width="35.51" height="11.88" fill="#fd8d3c"/>
<rect x="337.81" y="1804.94" width="11.84" height="11.88" fill="#fed976"/>
<rect x="349.64" y="1804.94" width="11.84" height="11.88" fill="#fd8d3c"/>
<rect x="361.48" y="1804.94" width="35.51" height="11.88" fill="#fed976"/>
<rect x="124.75" y="1816.82" width="11.84" height="11.88" fill="#fed976"/>
<rect x="136.58" y="1816.82" width="11.84" height="11.88" fill="#e31a1c"/>
<rect x="148.42" y="1816.82" width="11.84" height="11.88" fill="#fed976"/>
<rect x="160.26" y="1816.82" width="11.84" height="11.88" fill="#e31a1c"/>
<rect x="172.09" y="1816.82" width="23.67" height="11.88" fill="#fed976"/>
<rect x="207.6" y="1816.82" width="11.84" height="11.88" fill="#fd8d3c"/>
<rect x="219.44" y="1816.82" width="35.51" height="11.88" fill="#fed976"/>
<rect x="254.95" y="1816.82" width="11.84" height="11.88" fill="#fd8d3c"/>
<rect x="266.79" y="1816.82" width="11.84" height="11.88" fill="#e31a1c"/>
<rect x="278.62" y="1816.82" width="59.18" height="11.88" fill="#fed976"/>
<rect x="337.81" y="1816.82" width="11.84" height="11.88" fill="#fd8d3c"/>
<rect x="349.64" y="1816.82" width="23.67" height="11.88" fill="#fed976"/>
<rect x="373.32" y="1816.82" width="11.84" height="11.88" fill="#fd8d3c"/>
<rect x="124.75" y="1828.69" width="11.84" height="11.88" fill="#fed976"/>
<rect x="160.26" y="1828.69" width="11.84" height="11.88" fill="#fed976"/>
<rect x="172.09" y="1828.69" width="35.51" height="11.88" fill="#fd8d3c"/>
<rect x="207.6" y="1828.69" width="11.84" height="11.88" fill="#fed976"/>
<rect x="231.28" y="1828.69" width="47.35" height="11.88" fill="#fed976"/>
<rect x="278.62" y="1828.69" width="23.67" height="11.88" fill="#fd8d3c"/>
<rect x="302.3" y="1828.69" width="23.67" height="11.88" fill="#fed976"/>
<rect x="325.97" y="1828.69" width="11.84" height="11.88" fill="#fd8d3c"/>
<rect x="337.81" y="1828.69" width="11.84" height="11.88" fill="#fed976"/>
<rect x="349.64" y="1828.69" width="11.84" height="11.88" fill="#e31a1c"/>
<rect x="373.32" y="1828.69" width="11.84" height="11.88" fill="#fed976"/>
<rect x="148.42" y="1840.57" width="11.84" height="11.88" fill="#fd8d3c"/>
<rect x="160.26" y="1840.57" width="11.84" height="11.88" fill="#e31a1c"/>
<rect x="172.09" y="1840.57" width="11.84" height="11.88" fill="#fed976"/>
<rect x="195.77" y="1840.57" width="47.35" height="11.88" fill="#fd8d3c"/>
<rect x="243.11" y="1840.57" width="11.84" height="11.88" fill="#fed976"/>
<rect x="254.95" y="1840.57" width="11.84" height="11.88" fill="#e31a1c"/>
<rect x="266.79" y="1840.57" width="11.84" height="11.88" fill="#fd8d3c"/>
<rect x="278.62" y="1840.57" width="11.84" height="11.88" fill="#fed976"/>
<rect x="290.46" y="1840.57" width="11.84" height="11.88" fill="#fd8d3c"/>
<rect x="302.3" y="1840.57" width="11.84" height="11.88" fill="#e31a1c"/>
<rect x="314.13" y="1840.57" width="35.51" height="11.88" fill="#fd8d3c"/>
<rect x="349.64" y="1840.57" width="11.84" height="11.88" fill="#fed976"/>
<rect x="172.09" y="1852.45" width="11.84" height="11.88" fill="#fed976"/>
<rect x="183.93" y="1852.45" width="11.84" height="11.88" fill="#e31a1c"/>
<rect x="195.77" y="1852.45" width="23.67" height="11.88" fill="#fed976"/>
<rect x="219.44" y="1852.45" width="11.84" height="11.88" fill="#fd8d3c"/>
<rect x="231.28" y="1852.45" width="11.84" height="11.88" fill="#fed976"/>
<rect x="243.11" y="1852.45" width="11.84" height="11.88" fill="#fd8d3c"/>
<rect x="266.79" y="1852.45" width="23.67" height="11.88" fill="#fed976"/>
<rect x="290.46" y="1852.45" width="11.84" height="11.88" fill="#fd8d3c"/>
<rect x="302.3" y="1852.45" width="11.84" height="11.88" fill="#fed976"/>
<rect x="325.97" y="1852.45" width="11.84" height="11.88" fill="#fed976"/>
<rect x="207.6" y="1864.32" width="23.67" height="11.88" fill="#fd8d3c"/>
<rect x="231.28" y="1864.32" width="11.84" height="11.88" fill="#e31a1c"/>
<rect x="243.11" y="1864.32" width="11.84" height="11.88" fill="#fed976"/>
<rect x="254.95" y="1864.32" width="11.84" height="11.88" fill="#fd8d3c"/>
<rect x="266.79" y="1864.32" width="11.84" height="11.88" fill="#fed976"/>
<rect x="278.62" y="1864.32" width="11.84" height="11.88" fill="#fd8d3c"/>
<rect x="290.46" y="1864.32" width="23.67" height="11.88" fill="#fed976"/>
</g>
<rect x="77.4" y="1519.9" width="355.1" height="356.3" fill="none" stroke="#000" stroke-width="4.86"/>
<line x1="98.5" x2="98.5" y1="1878.63" y2="1882.53" stroke="#000" stroke-width="1.4"/>
<text x="98.5" y="1902" font-size="17.0" text-anchor="middle">−40</text>
<line x1="177.1" x2="177.1" y1="1878.63" y2="1882.53" stroke="#000" stroke-width="1.4"/>
<text x="177.1" y="1902" font-size="17.0" text-anchor="middle">−20</text>
<line x1="255.7" x2="255.7" y1="1878.63" y2="1882.53" stroke="#000" stroke-width="1.4"/>
<text x="255.7" y="1902" font-size="17.0" text-anchor="middle">0</text>
<line x1="334.3" x2="334.3" y1="1878.63" y2="1882.53" stroke="#000" stroke-width="1.4"/>
<text x="334.3" y="1902" font-size="17.0" text-anchor="middle">20</text>
<line x1="412.9" x2="412.9" y1="1878.63" y2="1882.53" stroke="#000" stroke-width="1.4"/>
<text x="412.9" y="1902" font-size="17.0" text-anchor="middle">40</text>
<line x1="71.07" x2="74.97" y1="1541.9" y2="1541.9" stroke="#000" stroke-width="1.4"/>
<text x="65.2" y="1548.1" font-size="17.0" text-anchor="end">40</text>
<line x1="71.07" x2="74.97" y1="1620.8" y2="1620.8" stroke="#000" stroke-width="1.4"/>
<text x="65.2" y="1627" font-size="17.0" text-anchor="end">20</text>
<line x1="71.07" x2="74.97" y1="1699.7" y2="1699.7" stroke="#000" stroke-width="1.4"/>
<text x="65.2" y="1705.9" font-size="17.0" text-anchor="end">0</text>
<line x1="71.07" x2="74.97" y1="1778.6" y2="1778.6" stroke="#000" stroke-width="1.4"/>
<text x="65.2" y="1784.8" font-size="17.0" text-anchor="end">−20</text>
<line x1="71.07" x2="74.97" y1="1857.5" y2="1857.5" stroke="#000" stroke-width="1.4"/>
<text x="65.2" y="1863.7" font-size="17.0" text-anchor="end">−40</text>
<text x="255.35" y="1509.9" font-size="22.2" letter-spacing="0.28" text-anchor="middle">b=N, No. of matrices=1</text>
<text x="255.75" y="1929.9" font-size="22.2" letter-spacing="0.5" text-anchor="middle">Re z</text>
<text transform="translate(17.1,1698.05) rotate(-90)" font-size="22.2" letter-spacing="0.5" text-anchor="middle">Im z</text>
<rect x="454.6" y="1460.5" width="23.8" height="475.4" fill="url(#g)" stroke="#000" stroke-width="4.86"/>
<line x1="480.83" x2="484.73" y1="1935.9" y2="1935.9" stroke="#000" stroke-width="1.4"/>
<text x="490.7" y="1942.5" font-size="17.0">0.0</text>
<line x1="480.83" x2="484.73" y1="1876.48" y2="1876.48" stroke="#000" stroke-width="1.4"/>
<text x="490.7" y="1883.08" font-size="17.0">0.5</text>
<line x1="480.83" x2="484.73" y1="1817.05" y2="1817.05" stroke="#000" stroke-width="1.4"/>
<text x="490.7" y="1823.65" font-size="17.0">1.0</text>
<line x1="480.83" x2="484.73" y1="1757.62" y2="1757.62" stroke="#000" stroke-width="1.4"/>
<text x="490.7" y="1764.22" font-size="17.0">1.5</text>
<line x1="480.83" x2="484.73" y1="1698.2" y2="1698.2" stroke="#000" stroke-width="1.4"/>
<text x="490.7" y="1704.8" font-size="17.0">2.0</text>
<line x1="480.83" x2="484.73" y1="1638.78" y2="1638.78" stroke="#000" stroke-width="1.4"/>
<text x="490.7" y="1645.38" font-size="17.0">2.5</text>
<line x1="480.83" x2="484.73" y1="1579.35" y2="1579.35" stroke="#000" stroke-width="1.4"/>
<text x="490.7" y="1585.95" font-size="17.0">3.0</text>
<line x1="480.83" x2="484.73" y1="1519.92" y2="1519.92" stroke="#000" stroke-width="1.4"/>
<text x="490.7" y="1526.52" font-size="17.0">3.5</text>
<line x1="480.83" x2="484.73" y1="1460.5" y2="1460.5" stroke="#000" stroke-width="1.4"/>
<text x="490.7" y="1467.1" font-size="17.0">4.0</text>
<g shape-rendering="crispEdges">
<rect x="610" y="1519.9" width="355.1" height="356.3" fill="#ffffcc"/>
<rect x="728.37" y="1519.9" width="23.67" height="11.88" fill="#fed976"/>
<rect x="752.04" y="1519.9" width="35.51" height="11.88" fill="#feb24c"/>
<rect x="787.55" y="1519.9" width="11.84" height="11.88" fill="#fc4e2a"/>
<rect x="799.39" y="1519.9" width="11.84" height="11.88" fill="#feb24c"/>
<rect x="811.22" y="1519.9" width="11.84" height="11.88" fill="#fed976"/>
<rect x="823.06" y="1519.9" width="11.84" height="11.88" fill="#fd8d3c"/>
<rect x="834.9" y="1519.9" width="23.67" height="11.88" fill="#ffeda0"/>
<rect x="704.69" y="1531.78" width="23.67" height="11.88" fill="#ffeda0"/>
<rect x="728.37" y="1531.78" width="11.84" height="11.88" fill="#fc4e2a"/>
<rect x="740.2" y="1531.78" width="11.84" height="11.88" fill="#bd0026"/>
<rect x="752.04" y="1531.78" width="11.84" height="11.88" fill="#fd8d3c"/>
<rect x="763.88" y="1531.78" width="11.84" height="11.88" fill="#fc4e2a"/>
<rect x="775.71" y="1531.78" width="47.35" height="11.88" fill="#fd8d3c"/>
<rect x="823.06" y="1531.78" width="11.84" height="11.88" fill="#e31a1c"/>
<rect x="834.9" y="1531.78" width="11.84" height="11.88" fill="#fd8d3c"/>
<rect x="846.73" y="1531.78" width="23.67" height="11.88" fill="#ffeda0"/>
<rect x="681.02" y="1543.65" width="11.84" height="11.88" fill="#ffeda0"/>
<rect x="692.86" y="1543.65" width="11.84" height="11.88" fill="#feb24c"/>
<rect x="704.69" y="1543.65" width="11.84" height="11.88" fill="#fc4e2a"/>
<rect x="716.53" y="1543.65" width="11.84" height="11.88" fill="#e31a1c"/>
<rect x="728.37" y="1543.65" width="11.84" height="11.88" fill="#fc4e2a"/>
<rect x="740.2" y="1543.65" width="11.84" height="11.88" fill="#feb24c"/>
<rect x="752.04" y="1543.65" width="23.67" height="11.88" fill="#fc4e2a"/>
<rect x="775.71" y="1543.65" width="11.84" height="11.88" fill="#fed976"/>
<rect x="787.55" y="1543.65" width="11.84" height="11.88" fill="#fd8d3c"/>
<rect x="799.39" y="1543.65" width="11.84" height="11.88" fill="#e31a1c"/>
<rect x="811.22" y="1543.65" width="11.84" height="11.88" fill="#fd8d3c"/>
<rect x="823.06" y="1543.65" width="23.67" height="11.88" fill="#feb24c"/>
<rect x="846.73" y="1543.65" width="23.67" height="11.88" fill="#fc4e2a"/>
<rect x="870.41" y="1543.65" width="23.67" height="11.88" fill="#fed976"/>
<rect x="657.35" y="1555.53" width="23.67" height="11.88" fill="#ffeda0"/>
<rect x="681.02" y="1555.53" width="23.67" height="11.88" fill="#fc4e2a"/>
<rect x="704.69" y="1555.53" width="11.84" height="11.88" fill="#feb24c"/>
<rect x="716.53" y="1555.53" width="11.84" height="11.88" fill="#fc4e2a"/>
<rect x="728.37" y="1555.53" width="11.84" height="11.88" fill="#feb24c"/>
<rect x="740.2" y="1555.53" width="23.67" height="11.88" fill="#fd8d3c"/>
<rect x="763.88" y="1555.53" width="11.84" height="11.88" fill="#feb24c"/>
<rect x="775.71" y="1555.53" width="11.84" height="11.88" fill="#fc4e2a"/>
<rect x="787.55" y="1555.53" width="11.84" height="11.88" fill="#fd8d3c"/>
<rect x="799.39" y="1555.53" width="11.84" height="11.88" fill="#e31a1c"/>
<rect x="811.22" y="1555.53" width="35.51" height="11.88" fill="#fc4e2a"/>
<rect x="846.73" y="1555.53" width="11.84" height="11.88" fill="#feb24c"/>
<rect x="858.57" y="1555.53" width="11.84" height="11.88" fill="#fd8d3c"/>
<rect x="870.41" y="1555.53" width="11.84" height="11.88" fill="#bd0026"/>
<rect x="882.24" y="1555.53" width="11.84" height="11.88" fill="#e31a1c"/>
<rect x="894.08" y="1555.53" width="11.84" height="11.88" fill="#ffeda0"/>
<rect x="657.35" y="1567.41" width="11.84" height="11.88" fill="#ffeda0"/>
<rect x="669.18" y="1567.41" width="11.84" height="11.88" fill="#e31a1c"/>
<rect x="681.02" y="1567.41" width="11.84" height="11.88" fill="#feb24c"/>
<rect x="692.86" y="1567.41" width="11.84" height="11.88" fill="#e31a1c"/>
<rect x="704.69" y="1567.41" width="11.84" height="11.88" fill="#fed976"/>
<rect x="716.53" y="1567.41" width="11.84" height="11.88" fill="#fc4e2a"/>
<rect x="728.37" y="1567.41" width="11.84" height="11.88" fill="#fd8d3c"/>
<rect x="740.2" y="1567.41" width="11.84" height="11.88" fill="#e31a1c"/>
<rect x="752.04" y="1567.41" width="11.84" height="11.88" fill="#fed976"/>
<rect x="763.88" y="1567.41" width="11.84" height="11.88" fill="#e31a1c"/>
<rect x="775.71" y="1567.41" width="11.84" height="11.88" fill="#fc4e2a"/>
<rect x="787.55" y="1567.41" width="11.84" height="11.88" fill="#fd8d3c"/>
<rect x="799.39" y="1567.41" width="11.84" height="11.88" fill="#feb24c"/>
<rect x="811.22" y="1567.41" width="11.84" height="11.88" fill="#e31a1c"/>
<rect x="823.06" y="1567.41" width="23.67" height="11.88" fill="#feb24c"/>
<rect x="846.73" y="1567.41" width="11.84" height="11.88" fill="#fc4e2a"/>
<rect x="858.57" y="1567.41" width="11.84" height="11.88" fill="#fd8d3c"/>
<rect x="870.41" y="1567.41" width="23.67" height="11.88" fill="#feb24c"/>
<rect x="894.08" y="1567.41" width="11.84" height="11.88" fill="#fc4e2a"/>
<rect x="905.92" y="1567.41" width="11.84" height="11.88" fill="#fd8d3c"/>
<rect x="645.51" y="1579.28" width="11.84" height="11.88" fill="#feb24c"/>
<rect x="657.35" y="1579.28" width="59.18" height="11.88" fill="#fd8d3c"/>
<rect x="716.53" y="1579.28" width="23.67" height="11.88" fill="#fc4e2a"/>
<rect x="740.2" y="1579.28" width="11.84" height="11.88" fill="#fd8d3c"/>
<rect x="752.04" y="1579.28" width="11.84" height="11.88" fill="#fc4e2a"/>
<rect x="763.88" y="1579.28" width="11.84" height="11.88" fill="#fd8d3c"/>
<rect x="775.71" y="1579.28" width="11.84" height="11.88" fill="#feb24c"/>
<rect x="787.55" y="1579.28" width="11.84" height="11.88" fill="#fc4e2a"/>
<rect x="799.39" y="1579.28" width="11.84" height="11.88" fill="#feb24c"/>
<rect x="811.22" y="1579.28" width="23.67" height="11.88" fill="#fc4e2a"/>
<rect x="834.9" y="1579.28" width="11.84" height="11.88" fill="#e31a1c"/>
<rect x="846.73" y="1579.28" width="23.67" height="11.88" fill="#feb24c"/>
<rect x="870.41" y="1579.28" width="11.84" height="11.88" fill="#bd0026"/>
<rect x="882.24" y="1579.28" width="11.84" height="11.88" fill="#feb24c"/>
<rect x="894.08" y="1579.28" width="11.84" height="11.88" fill="#e31a1c"/>
<rect x="905.92" y="1579.28" width="11.84" height="11.88" fill="#fd8d3c"/>
<rect x="917.75" y="1579.28" width="11.84" height="11.88" fill="#feb24c"/>
<rect x="645.51" y="1591.16" width="11.84" height="11.88" fill="#fc4e2a"/>
<rect x="657.35" y="1591.16" width="23.67" height="11.88" fill="#fd8d3c"/>
<rect x="681.02" y="1591.16" width="11.84" height="11.88" fill="#fc4e2a"/>
<rect x="692.86" y="1591.16" width="11.84" height="11.88" fill="#bd0026"/>
<rect x="704.69" y="1591.16" width="11.84" height="11.88" fill="#fc4e2a"/>
<rect x="716.53" y="1591.16" width="23.67" height="11.88" fill="#feb24c"/>
<rect x="740.2" y="1591.16" width="11.84" height="11.88" fill="#e31a1c"/>
<rect x="752.04" y="1591.16" width="11.84" height="11.88" fill="#fd8d3c"/>
<rect x="763.88" y="1591.16" width="11.84" height="11.88" fill="#e31a1c"/>
<rect x="775.71" y="1591.16" width="11.84" height="11.88" fill="#fd8d3c"/>
<rect x="787.55" y="1591.16" width="11.84" height="11.88" fill="#bd0026"/>
<rect x="799.39" y="1591.16" width="23.67" height="11.88" fill="#feb24c"/>
<rect x="823.06" y="1591.16" width="11.84" height="11.88" fill="#fc4e2a"/>
<rect x="834.9" y="1591.16" width="11.84" height="11.88" fill="#fed976"/>
<rect x="846.73" y="1591.16" width="11.84" height="11.88" fill="#fc4e2a"/>
<rect x="858.57" y="1591.16" width="23.67" height="11.88" fill="#feb24c"/>
<rect x="882.24" y="1591.16" width="11.84" height="11.88" fill="#fc4e2a"/>
<rect x="894.08" y="1591.16" width="11.84" height="11.88" fill="#feb24c"/>
<rect x="905.92" y="1591.16" width="11.84" height="11.88" fill="#fd8d3c"/>
<rect x="917.75" y="1591.16" width="11.84" height="11.88" fill="#e31a1c"/>
<rect x="929.59" y="1591.16" width="11.84" height="11.88" fill="#ffeda0"/>
<rect x="621.84" y="1603.04" width="11.84" height="11.88" fill="#ffeda0"/>
<rect x="633.67" y="1603.04" width="11.84" height="11.88" fill="#fd8d3c"/>
<rect x="645.51" y="1603.04" width="11.84" height="11.88" fill="#ffeda0"/>
<rect x="657.35" y="1603.04" width="11.84" height="11.88" fill="#e31a1c"/>
<rect x="669.18" y="1603.04" width="11.84" height="11.88" fill="#bd0026"/>
<rect x="681.02" y="1603.04" width="11.84" height="11.88" fill="#feb24c"/>
<rect x="692.86" y="1603.04" width="11.84" height="11.88" fill="#fd8d3c"/>
<rect x="704.69" y="1603.04" width="11.84" height="11.88" fill="#fc4e2a"/>
<rect x="716.53" y="1603.04" width="11.84" height="11.88" fill="#feb24c"/>
<rect x="728.37" y="1603.04" width="35.51" height="11.88" fill="#fc4e2a"/>
<rect x="763.88" y="1603.04" width="11.84" height="11.88" fill="#feb24c"/>
<rect x="775.71" y="1603.04" width="11.84" height="11.88" fill="#fed976"/>
<rect x="787.55" y="1603.04" width="11.84" height="11.88" fill="#e31a1c"/>
<rect x="799.39" y="1603.04" width="11.84" height="11.88" fill="#fc4e2a"/>
<rect x="811.22" y="1603.04" width="11.84" height="11.88" fill="#e31a1c"/>
<rect x="823.06" y="1603.04" width="23.67" height="11.88" fill="#fc4e2a"/>
<rect x="846.73" y="1603.04" width="11.84" height="11.88" fill="#feb24c"/>
<rect x="858.57" y="1603.04" width="11.84" height="11.88" fill="#fd8d3c"/>
<rect x="870.41" y="1603.04" width="11.84" height="11.88" fill="#fc4e2a"/>
<rect x="882.24" y="1603.04" width="11.84" height="11.88" fill="#bd0026"/>
<rect x="894.08" y="1603.04" width="23.67" height="11.88" fill="#fd8d3c"/>
<rect x="917.75" y="1603.04" width="11.84" height="11.88" fill="#e31a1c"/>
<rect x="929.59" y="1603.04" width="11.84" height="11.88" fill="#ffeda0"/>
<rect x="621.84" y="1614.91" width="11.84" height="11.88" fill="#feb24c"/>
<rect x="633.67" y="1614.91" width="23.67" height="11.88" fill="#e31a1c"/>
<rect x="657.35" y="1614.91" width="23.67" height="11.88" fill="#feb24c"/>
<rect x="681.02" y="1614.91" width="23.67" height="11.88" fill="#fd8d3c"/>
<rect x="704.69" y="1614.91" width="11.84" height="11.88" fill="#feb24c"/>
<rect x="716.53" y="1614.91" width="11.84" height="11.88" fill="#fd8d3c"/>
<rect x="728.37" y="1614.91" width="11.84" height="11.88" fill="#bd0026"/>
<rect x="740.2" y="1614.91" width="11.84" height="11.88" fill="#fc4e2a"/>
<rect x="752.04" y="1614.91" width="11.84" height="11.88" fill="#feb24c"/>
<rect x="763.88" y="1614.91" width="11.84" height="11.88" fill="#fd8d3c"/>
<rect x="775.71" y="1614.91" width="11.84" height="11.88" fill="#fc4e2a"/>
<rect x="787.55" y="1614.91" width="11.84" height="11.88" fill="#e31a1c"/>
<rect x="799.39" y="1614.91" width="11.84" height="11.88" fill="#feb24c"/>
<rect x="811.22" y="1614.91" width="11.84" height="11.88" fill="#fed976"/>
<rect x="823.06" y="1614.91" width="11.84" height="11.88" fill="#e31a1c"/>
<rect x="834.9" y="1614.91" width="11.84" height="11.88" fill="#feb24c"/>
<rect x="846.73" y="1614.91" width="11.84" height="11.88" fill="#fc4e2a"/>
<rect x="858.57" y="1614.91" width="23.67" height="11.88" fill="#fd8d3c"/>
<rect x="882.24" y="1614.91" width="11.84" height="11.88" fill="#fc4e2a"/>
<rect x="894.08" y="1614.91" width="11.84" height="11.88" fill="#feb24c"/>
<rect x="905.92" y="1614.91" width="23.67" height="11.88" fill="#fc4e2a"/>
<rect x="929.59" y="1614.91" width="11.84" height="11.88" fill="#bd0026"/>
<rect x="941.43" y="1614.91" width="11.84" height="11.88" fill="#fed976"/>
<rect x="621.84" y="1626.79" width="11.84" height="11.88" fill="#fed976"/>
<rect x="633.67" y="1626.79" width="11.84" height="11.88" fill="#fd8d3c"/>
<rect x="645.51" y="1626.79" width="11.84" height="11.88" fill="#e31a1c"/>
<rect x="657.35" y="1626.79" width="23.67" height="11.88" fill="#feb24c"/>
<rect x="681.02" y="1626.79" width="11.84" height="11.88" fill="#fd8d3c"/>
<rect x="692.86" y="1626.79" width="11.84" height="11.88" fill="#e31a1c"/>
<rect x="704.69" y="1626.79" width="11.84" height="11.88" fill="#fc4e2a"/>
<rect x="716.53" y="1626.79" width="11.84" height="11.88" fill="#fd8d3c"/>
<rect x="728.37" y="1626.79" width="23.67" height="11.88" fill="#feb24c"/>
<rect x="752.04" y="1626.79" width="11.84" height="11.88" fill="#bd0026"/>
<rect x="763.88" y="1626.79" width="11.84" height="11.88" fill="#fd8d3c"/>
<rect x="775.71" y="1626.79" width="47.35" height="11.88" fill="#fc4e2a"/>
<rect x="823.06" y="1626.79" width="11.84" height="11.88" fill="#e31a1c"/>
<rect x="834.9" y="1626.79" width="23.67" height="11.88" fill="#fd8d3c"/>
<rect x="858.57" y="1626.79" width="11.84" height="11.88" fill="#fc4e2a"/>
<rect x="870.41" y="1626.79" width="11.84" height="11.88" fill="#e31a1c"/>
<rect x="882.24" y="1626.79" width="11.84" height="11.88" fill="#feb24c"/>
<rect x="894.08" y="1626.79" width="11.84" height="11.88" fill="#e31a1c"/>
<rect x="905.92" y="1626.79" width="11.84" height="11.88" fill="#feb24c"/>
<rect x="917.75" y="1626.79" width="11.84" height="11.88" fill="#fed976"/>
<rect x="929.59" y="1626.79" width="11.84" height="11.88" fill="#feb24c"/>
<rect x="941.43" y="1626.79" width="11.84" height="11.88" fill="#fd8d3c"/>
<rect x="610" y="1638.67" width="11.84" height="11.88" fill="#ffeda0"/>
<rect x="621.84" y="1638.67" width="11.84" height="11.88" fill="#feb24c"/>
<rect x="633.67" y="1638.67" width="23.67" height="11.88" fill="#fd8d3c"/>
<rect x="657.35" y="1638.67" width="11.84" height="11.88" fill="#fc4e2a"/>
<rect x="669.18" y="1638.67" width="11.84" height="11.88" fill="#e31a1c"/>
<rect x="681.02" y="1638.67" width="23.67" height="11.88" fill="#fc4e2a"/>
<rect x="704.69" y="1638.67" width="11.84" height="11.88" fill="#feb24c"/>
<rect x="716.53" y="1638.67" width="11.84" height="11.88" fill="#fc4e2a"/>
<rect x="728.37" y="1638.67" width="23.67" height="11.88" fill="#e31a1c"/>
<rect x="752.04" y="1638.67" width="11.84" height="11.88" fill="#ffeda0"/>
<rect x="763.88" y="1638.67" width="11.84" height="11.88" fill="#fed976"/>
<rect x="775.71" y="1638.67" width="11.84" height="11.88" fill="#feb24c"/>
<rect x="787.55" y="1638.67" width="11.84" height="11.88" fill="#fed976"/>
<rect x="799.39" y="1638.67" width="23.67" height="11.88" fill="#fc4e2a"/>
<rect x="823.06" y="1638.67" width="23.67" height="11.88" fill="#feb24c"/>
<rect x="846.73" y="1638.67" width="11.84" height="11.88" fill="#fd8d3c"/>
<rect x="858.57" y="1638.67" width="23.67" height="11.88" fill="#e31a1c"/>
<rect x="882.24" y="1638.67" width="23.67" height="11.88" fill="#fd8d3c"/>
<rect x="905.92" y="1638.67" width="23.67" height="11.88" fill="#e31a1c"/>
<rect x="929.59" y="1638.67" width="11.84" height="11.88" fill="#fc4e2a"/>
<rect x="941.43" y="1638.67" width="11.84" height="11.88" fill="#fd8d3c"/>
<rect x="953.26" y="1638.67" width="11.84" height="11.88" fill="#fed976"/>
<rect x="610" y="1650.54" width="11.84" height="11.88" fill="#fed976"/>
<rect x="621.84" y="1650.54" width="23.67" height="11.88" fill="#fd8d3c"/>
<rect x="645.51" y="1650.54" width="11.84" height="11.88" fill="#feb24c"/>
<rect x="657.35" y="1650.54" width="11.84" height="11.88" fill="#fc4e2a"/>
<rect x="669.18" y="1650.54" width="11.84" height="11.88" fill="#e31a1c"/>
<rect x="681.02" y="1650.54" width="11.84" height="11.88" fill="#fed976"/>
<rect x="692.86" y="1650.54" width="23.67" height="11.88" fill="#fd8d3c"/>
<rect x="716.53" y="1650.54" width="35.51" height="11.88" fill="#feb24c"/>
<rect x="752.04" y="1650.54" width="35.51" height="11.88" fill="#fc4e2a"/>
<rect x="787.55" y="1650.54" width="11.84" height="11.88" fill="#feb24c"/>
<rect x="799.39" y="1650.54" width="11.84" height="11.88" fill="#e31a1c"/>
<rect x="811.22" y="1650.54" width="11.84" height="11.88" fill="#fc4e2a"/>
<rect x="823.06" y="1650.54" width="11.84" height="11.88" fill="#bd0026"/>
<rect x="834.9" y="1650.54" width="11.84" height="11.88" fill="#feb24c"/>
<rect x="846.73" y="1650.54" width="11.84" height="11.88" fill="#fd8d3c"/>
<rect x="858.57" y="1650.54" width="11.84" height="11.88" fill="#e31a1c"/>
<rect x="870.41" y="1650.54" width="23.67" height="11.88" fill="#fd8d3c"/>
<rect x="894.08" y="1650.54" width="11.84" height="11.88" fill="#feb24c"/>
<rect x="917.75" y="1650.54" width="11.84" height="11.88" fill="#e31a1c"/>
<rect x="929.59" y="1650.54" width="11.84" height="11.88" fill="#fed976"/>
<rect x="941.43" y="1650.54" width="11.84" height="11.88" fill="#bd0026"/>
<rect x="953.26" y="1650.54" width="11.84" height="11.88" fill="#feb24c"/>
<rect x="610" y="1662.42" width="11.84" height="11.88" fill="#fed976"/>
<rect x="621.84" y="1662.42" width="11.84" height="11.88" fill="#bd0026"/>
<rect x="633.67" y="1662.42" width="11.84" height="11.88" fill="#fd8d3c"/>
<rect x="645.51" y="1662.42" width="11.84" height="11.88" fill="#fc4e2a"/>
<rect x="657.35" y="1662.42" width="23.67" height="11.88" fill="#feb24c"/>
<rect x="681.02" y="1662.42" width="11.84" height="11.88" fill="#bd0026"/>
<rect x="692.86" y="1662.42" width="35.51" height="11.88" fill="#fc4e2a"/>
<rect x="728.37" y="1662.42" width="11.84" height="11.88" fill="#fed976"/>
<rect x="740.2" y="1662.42" width="11.84" height="11.88" fill="#e31a1c"/>
<rect x="752.04" y="1662.42" width="11.84" height="11.88" fill="#bd0026"/>
<rect x="763.88" y="1662.42" width="11.84" height="11.88" fill="#fd8d3c"/>
<rect x="775.71" y="1662.42" width="11.84" height="11.88" fill="#fc4e2a"/>
<rect x="787.55" y="1662.42" width="11.84" height="11.88" fill="#fd8d3c"/>
<rect x="799.39" y="1662.42" width="23.67" height="11.88" fill="#fc4e2a"/>
<rect x="823.06" y="1662.42" width="11.84" height="11.88" fill="#fed976"/>
<rect x="834.9" y="1662.42" width="11.84" height="11.88" fill="#fd8d3c"/>
<rect x="846.73" y="1662.42" width="11.84" height="11.88" fill="#e31a1c"/>
<rect x="858.57" y="1662.42" width="11.84" height="11.88" fill="#feb24c"/>
<rect x="870.41" y="1662.42" width="23.67" height="11.88" fill="#fc4e2a"/>
<rect x="894.08" y="1662.42" width="11.84" height="11.88" fill="#fd8d3c"/>
<rect x="905.92" y="1662.42" width="11.84" height="11.88" fill="#e31a1c"/>
<rect x="917.75" y="1662.42" width="11.84" height="11.88" fill="#fd8d3c"/>
<rect x="929.59" y="1662.42" width="11.84" height="11.88" fill="#feb24c"/>
<rect x="941.43" y="1662.42" width="11.84" height="11.88" fill="#fed976"/>
<rect x="953.26" y="1662.42" width="11.84" height="11.88" fill="#fd8d3c"/>
<rect x="610" y="1674.3" width="23.67" height="11.88" fill="#fd8d3c"/>
<rect x="633.67" y="1674.3" width="11.84" height="11.88" fill="#e31a1c"/>
<rect x="645.51" y="1674.3" width="11.84" height="11.88" fill="#feb24c"/>
<rect x="657.35" y="1674.3" width="11.84" height="11.88" fill="#fd8d3c"/>
<rect x="669.18" y="1674.3" width="11.84" height="11.88" fill="#fc4e2a"/>
<rect x="681.02" y="1674.3" width="11.84" height="11.88" fill="#feb24c"/>
<rect x="692.86" y="1674.3" width="11.84" height="11.88" fill="#fc4e2a"/>
<rect x="704.69" y="1674.3" width="11.84" height="11.88" fill="#ffeda0"/>
<rect x="716.53" y="1674.3" width="23.67" height="11.88" fill="#e31a1c"/>
<rect x="740.2" y="1674.3" width="11.84" height="11.88" fill="#feb24c"/>
<rect x="752.04" y="1674.3" width="11.84" height="11.88" fill="#e31a1c"/>
<rect x="763.88" y="1674.3" width="11.84" height="11.88" fill="#fd8d3c"/>
<rect x="775.71" y="1674.3" width="11.84" height="11.88" fill="#feb24c"/>
<rect x="787.55" y="1674.3" width="11.84" height="11.88" fill="#fd8d3c"/>
<rect x="799.39" y="1674.3" width="23.67" height="11.88" fill="#e31a1c"/>
<rect x="823.06" y="1674.3" width="11.84" height="11.88" fill="#fd8d3c"/>
<rect x="834.9" y="1674.3" width="11.84" height="11.88" fill="#feb24c"/>
<rect x="846.73" y="1674.3" width="11.84" height="11.88" fill="#e31a1c"/>
<rect x="858.57" y="1674.3" width="11.84" height="11.88" fill="#fc4e2a"/>
<rect x="870.41" y="1674.3" width="11.84" height="11.88" fill="#ffeda0"/>
<rect x="882.24" y="1674.3" width="35.51" height="11.88" fill="#fc4e2a"/>
<rect x="917.75" y="1674.3" width="23.67" height="11.88" fill="#fd8d3c"/>
<rect x="941.43" y="1674.3" width="11.84" height="11.88" fill="#fc4e2a"/>
<rect x="953.26" y="1674.3" width="11.84" height="11.88" fill="#fd8d3c"/>
<rect x="610" y="1686.17" width="11.84" height="11.88" fill="#fc4e2a"/>
<rect x="621.84" y="1686.17" width="23.67" height="11.88" fill="#fd8d3c"/>
<rect x="645.51" y="1686.17" width="11.84" height="11.88" fill="#fc4e2a"/>
<rect x="657.35" y="1686.17" width="11.84" height="11.88" fill="#feb24c"/>
<rect x="669.18" y="1686.17" width="11.84" height="11.88" fill="#fc4e2a"/>
<rect x="681.02" y="1686.17" width="47.35" height="11.88" fill="#fd8d3c"/>
<rect x="728.37" y="1686.17" width="11.84" height="11.88" fill="#e31a1c"/>
<rect x="740.2" y="1686.17" width="23.67" height="11.88" fill="#fd8d3c"/>
<rect x="763.88" y="1686.17" width="11.84" height="11.88" fill="#feb24c"/>
<rect x="775.71" y="1686.17" width="23.67" height="11.88" fill="#fd8d3c"/>
<rect x="799.39" y="1686.17" width="23.67" height="11.88" fill="#feb24c"/>
<rect x="823.06" y="1686.17" width="11.84" height="11.88" fill="#fc4e2a"/>
<rect x="834.9" y="1686.17" width="11.84" height="11.88" fill="#feb24c"/>
<rect x="846.73" y="1686.17" width="11.84" height="11.88" fill="#fc4e2a"/>
<rect x="858.57" y="1686.17" width="23.67" height="11.88" fill="#e31a1c"/>
<rect x="882.24" y="1686.17" width="11.84" height="11.88" fill="#fd8d3c"/>
<rect x="894.08" y="1686.17" width="11.84" height="11.88" fill="#fc4e2a"/>
<rect x="905.92" y="1686.17" width="11.84" height="11.88" fill="#fd8d3c"/>
<rect x="917.75" y="1686.17" width="23.67" height="11.88" fill="#e31a1c"/>
<rect x="941.43" y="1686.17" width="11.84" height="11.88" fill="#fd8d3c"/>
<rect x="953.26" y="1686.17" width="11.84" height="11.88" fill="#e31a1c"/>
<rect x="610" y="1698.05" width="11.84" height="11.88" fill="#e31a1c"/>
<rect x="621.84" y="1698.05" width="11.84" height="11.88" fill="#fd8d3c"/>
<rect x="633.67" y="1698.05" width="11.84" height="11.88" fill="#feb24c"/>
<rect x="645.51" y="1698.05" width="11.84" height="11.88" fill="#e31a1c"/>
<rect x="657.35" y="1698.05" width="23.67" height="11.88" fill="#fc4e2a"/>
<rect x="681.02" y="1698.05" width="23.67" height="11.88" fill="#fd8d3c"/>
<rect x="704.69" y="1698.05" width="11.84" height="11.88" fill="#e31a1c"/>
<rect x="716.53" y="1698.05" width="11.84" height="11.88" fill="#fd8d3c"/>
<rect x="728.37" y="1698.05" width="11.84" height="11.88" fill="#feb24c"/>
<rect x="740.2" y="1698.05" width="11.84" height="11.88" fill="#fc4e2a"/>
<rect x="752.04" y="1698.05" width="23.67" height="11.88" fill="#fd8d3c"/>
<rect x="775.71" y="1698.05" width="35.51" height="11.88" fill="#fc4e2a"/>
<rect x="811.22" y="1698.05" width="11.84" height="11.88" fill="#fd8d3c"/>
<rect x="823.06" y="1698.05" width="11.84" height="11.88" fill="#feb24c"/>
<rect x="834.9" y="1698.05" width="11.84" height="11.88" fill="#bd0026"/>
<rect x="846.73" y="1698.05" width="11.84" height="11.88" fill="#fc4e2a"/>
<rect x="858.57" y="1698.05" width="11.84" height="11.88" fill="#ffeda0"/>
<rect x="870.41" y="1698.05" width="23.67" height="11.88" fill="#feb24c"/>
<rect x="894.08" y="1698.05" width="11.84" height="11.88" fill="#e31a1c"/>
<rect x="905.92" y="1698.05" width="11.84" height="11.88" fill="#fed976"/>
<rect x="917.75" y="1698.05" width="11.84" height="11.88" fill="#fd8d3c"/>
<rect x="929.59" y="1698.05" width="11.84" height="11.88" fill="#fc4e2a"/>
<rect x="941.43" y="1698.05" width="23.67" height="11.88" fill="#feb24c"/>
<rect x="610" y="1709.93" width="11.84" height="11.88" fill="#fed976"/>
<rect x="621.84" y="1709.93" width="23.67" height="11.88" fill="#fd8d3c"/>
<rect x="645.51" y="1709.93" width="11.84" height="11.88" fill="#fed976"/>
<rect x="657.35" y="1709.93" width="11.84" height="11.88" fill="#fd8d3c"/>
<rect x="669.18" y="1709.93" width="23.67" height="11.88" fill="#fc4e2a"/>
<rect x="692.86" y="1709.93" width="11.84" height="11.88" fill="#fed976"/>
<rect x="704.69" y="1709.93" width="11.84" height="11.88" fill="#e31a1c"/>
<rect x="716.53" y="1709.93" width="23.67" height="11.88" fill="#feb24c"/>
<rect x="740.2" y="1709.93" width="11.84" height="11.88" fill="#bd0026"/>
<rect x="752.04" y="1709.93" width="11.84" height="11.88" fill="#fc4e2a"/>
<rect x="763.88" y="1709.93" width="11.84" height="11.88" fill="#feb24c"/>
<rect x="775.71" y="1709.93" width="11.84" height="11.88" fill="#fc4e2a"/>
<rect x="787.55" y="1709.93" width="11.84" height="11.88" fill="#feb24c"/>
<rect x="799.39" y="1709.93" width="11.84" height="11.88" fill="#e31a1c"/>
<rect x="811.22" y="1709.93" width="11.84" height="11.88" fill="#fd8d3c"/>
<rect x="823.06" y="1709.93" width="11.84" height="11.88" fill="#fed976"/>
<rect x="834.9" y="1709.93" width="11.84" height="11.88" fill="#e31a1c"/>
<rect x="846.73" y="1709.93" width="23.67" height="11.88" fill="#fc4e2a"/>
<rect x="870.41" y="1709.93" width="11.84" height="11.88" fill="#feb24c"/>
<rect x="882.24" y="1709.93" width="23.67" height="11.88" fill="#fd8d3c"/>
<rect x="905.92" y="1709.93" width="11.84" height="11.88" fill="#e31a1c"/>
<rect x="917.75" y="1709.93" width="23.67" height="11.88" fill="#fd8d3c"/>
<rect x="941.43" y="1709.93" width="11.84" height="11.88" fill="#fc4e2a"/>
<rect x="953.26" y="1709.93" width="11.84" height="11.88" fill="#feb24c"/>
<rect x="610" y="1721.8" width="11.84" height="11.88" fill="#fc4e2a"/>
<rect x="621.84" y="1721.8" width="11.84" height="11.88" fill="#fd8d3c"/>
<rect x="633.67" y="1721.8" width="23.67" height="11.88" fill="#fc4e2a"/>
<rect x="657.35" y="1721.8" width="11.84" height="11.88" fill="#e31a1c"/>
<rect x="669.18" y="1721.8" width="11.84" height="11.88" fill="#feb24c"/>
<rect x="681.02" y="1721.8" width="11.84" height="11.88" fill="#e31a1c"/>
<rect x="692.86" y="1721.8" width="11.84" height="11.88" fill="#fc4e2a"/>
<rect x="704.69" y="1721.8" width="11.84" height="11.88" fill="#fd8d3c"/>
<rect x="716.53" y="1721.8" width="11.84" height="11.88" fill="#feb24c"/>
<rect x="728.37" y="1721.8" width="11.84" height="11.88" fill="#fc4e2a"/>
<rect x="740.2" y="1721.8" width="11.84" height="11.88" fill="#feb24c"/>
<rect x="752.04" y="1721.8" width="23.67" height="11.88" fill="#fc4e2a"/>
<rect x="775.71" y="1721.8" width="11.84" height="11.88" fill="#fd8d3c"/>
<rect x="787.55" y="1721.8" width="11.84" height="11.88" fill="#e31a1c"/>
<rect x="799.39" y="1721.8" width="47.35" height="11.88" fill="#fc4e2a"/>
<rect x="846.73" y="1721.8" width="11.84" height="11.88" fill="#e31a1c"/>
<rect x="858.57" y="1721.8" width="23.67" height="11.88" fill="#fd8d3c"/>
<rect x="882.24" y="1721.8" width="11.84" height="11.88" fill="#e31a1c"/>
<rect x="894.08" y="1721.8" width="11.84" height="11.88" fill="#fd8d3c"/>
<rect x="905.92" y="1721.8" width="11.84" height="11.88" fill="#fed976"/>
<rect x="917.75" y="1721.8" width="11.84" height="11.88" fill="#fd8d3c"/>
<rect x="929.59" y="1721.8" width="11.84" height="11.88" fill="#bd0026"/>
<rect x="941.43" y="1721.8" width="11.84" height="11.88" fill="#feb24c"/>
<rect x="953.26" y="1721.8" width="11.84" height="11.88" fill="#bd0026"/>
<rect x="610" y="1733.68" width="11.84" height="11.88" fill="#feb24c"/>
<rect x="621.84" y="1733.68" width="11.84" height="11.88" fill="#fed976"/>
<rect x="633.67" y="1733.68" width="11.84" height="11.88" fill="#e31a1c"/>
<rect x="645.51" y="1733.68" width="11.84" height="11.88" fill="#fc4e2a"/>
<rect x="657.35" y="1733.68" width="11.84" height="11.88" fill="#fd8d3c"/>
<rect x="669.18" y="1733.68" width="11.84" height="11.88" fill="#fc4e2a"/>
<rect x="681.02" y="1733.68" width="11.84" height="11.88" fill="#fd8d3c"/>
<rect x="692.86" y="1733.68" width="23.67" height="11.88" fill="#feb24c"/>
<rect x="716.53" y="1733.68" width="11.84" height="11.88" fill="#bd0026"/>
<rect x="728.37" y="1733.68" width="11.84" height="11.88" fill="#feb24c"/>
<rect x="740.2" y="1733.68" width="35.51" height="11.88" fill="#fd8d3c"/>
<rect x="775.71" y="1733.68" width="23.67" height="11.88" fill="#fc4e2a"/>
<rect x="799.39" y="1733.68" width="23.67" height="11.88" fill="#feb24c"/>
<rect x="823.06" y="1733.68" width="11.84" height="11.88" fill="#fed976"/>
<rect x="834.9" y="1733.68" width="11.84" height="11.88" fill="#fd8d3c"/>
<rect x="846.73" y="1733.68" width="11.84" height="11.88" fill="#fc4e2a"/>
<rect x="858.57" y="1733.68" width="11.84" height="11.88" fill="#e31a1c"/>
<rect x="870.41" y="1733.68" width="11.84" height="11.88" fill="#fd8d3c"/>
<rect x="882.24" y="1733.68" width="11.84" height="11.88" fill="#feb24c"/>
<rect x="894.08" y="1733.68" width="11.84" height="11.88" fill="#fc4e2a"/>
<rect x="905.92" y="1733.68" width="11.84" height="11.88" fill="#e31a1c"/>
<rect x="917.75" y="1733.68" width="11.84" height="11.88" fill="#feb24c"/>
<rect x="929.59" y="1733.68" width="11.84" height="11.88" fill="#fc4e2a"/>
<rect x="941.43" y="1733.68" width="23.67" height="11.88" fill="#fd8d3c"/>
<rect x="610" y="1745.56" width="11.84" height="11.88" fill="#ffeda0"/>
<rect x="621.84" y="1745.56" width="11.84" height="11.88" fill="#fc4e2a"/>
<rect x="633.67" y="1745.56" width="11.84" height="11.88" fill="#fd8d3c"/>
<rect x="645.51" y="1745.56" width="11.84" height="11.88" fill="#feb24c"/>
<rect x="657.35" y="1745.56" width="11.84" height="11.88" fill="#bd0026"/>
<rect x="669.18" y="1745.56" width="11.84" height="11.88" fill="#fed976"/>
<rect x="681.02" y="1745.56" width="11.84" height="11.88" fill="#fc4e2a"/>
<rect x="692.86" y="1745.56" width="11.84" height="11.88" fill="#feb24c"/>
<rect x="704.69" y="1745.56" width="11.84" height="11.88" fill="#e31a1c"/>
<rect x="716.53" y="1745.56" width="11.84" height="11.88" fill="#fd8d3c"/>
<rect x="728.37" y="1745.56" width="11.84" height="11.88" fill="#e31a1c"/>
<rect x="740.2" y="1745.56" width="11.84" height="11.88" fill="#fc4e2a"/>
<rect x="752.04" y="1745.56" width="11.84" height="11.88" fill="#fd8d3c"/>
<rect x="763.88" y="1745.56" width="11.84" height="11.88" fill="#fc4e2a"/>
<rect x="775.71" y="1745.56" width="11.84" height="11.88" fill="#fd8d3c"/>
<rect x="787.55" y="1745.56" width="11.84" height="11.88" fill="#fc4e2a"/>
<rect x="799.39" y="1745.56" width="59.18" height="11.88" fill="#fd8d3c"/>
<rect x="858.57" y="1745.56" width="11.84" height="11.88" fill="#feb24c"/>
<rect x="870.41" y="1745.56" width="11.84" height="11.88" fill="#fc4e2a"/>
<rect x="882.24" y="1745.56" width="11.84" height="11.88" fill="#fd8d3c"/>
<rect x="894.08" y="1745.56" width="11.84" height="11.88" fill="#fc4e2a"/>
<rect x="905.92" y="1745.56" width="11.84" height="11.88" fill="#fd8d3c"/>
<rect x="917.75" y="1745.56" width="11.84" height="11.88" fill="#fc4e2a"/>
<rect x="929.59" y="1745.56" width="11.84" height="11.88" fill="#bd0026"/>
<rect x="941.43" y="1745.56" width="11.84" height="11.88" fill="#feb24c"/>
<rect x="953.26" y="1745.56" width="11.84" height="11.88" fill="#fed976"/>
<rect x="610" y="1757.43" width="11.84" height="11.88" fill="#ffeda0"/>
<rect x="621.84" y="1757.43" width="11.84" height="11.88" fill="#feb24c"/>
<rect x="633.67" y="1757.43" width="11.84" height="11.88" fill="#e31a1c"/>
<rect x="645.51" y="1757.43" width="11.84" height="11.88" fill="#fd8d3c"/>
<rect x="657.35" y="1757.43" width="11.84" height="11.88" fill="#fc4e2a"/>
<rect x="669.18" y="1757.43" width="23.67" height="11.88" fill="#fd8d3c"/>
<rect x="692.86" y="1757.43" width="11.84" height="11.88" fill="#e31a1c"/>
<rect x="704.69" y="1757.43" width="23.67" height="11.88" fill="#fd8d3c"/>
<rect x="728.37" y="1757.43" width="11.84" height="11.88" fill="#fc4e2a"/>
<rect x="740.2" y="1757.43" width="11.84" height="11.88" fill="#fd8d3c"/>
<rect x="752.04" y="1757.43" width="11.84" height="11.88" fill="#fc4e2a"/>
<rect x="763.88" y="1757.43" width="11.84" height="11.88" fill="#fd8d3c"/>
<rect x="775.71" y="1757.43" width="11.84" height="11.88" fill="#fc4e2a"/>
<rect x="787.55" y="1757.43" width="11.84" height="11.88" fill="#fd8d3c"/>
<rect x="799.39" y="1757.43" width="11.84" height="11.88" fill="#e31a1c"/>
<rect x="811.22" y="1757.43" width="23.67" height="11.88" fill="#fc4e2a"/>
<rect x="834.9" y="1757.43" width="11.84" height="11.88" fill="#e31a1c"/>
<rect x="846.73" y="1757.43" width="11.84" height="11.88" fill="#fd8d3c"/>
<rect x="858.57" y="1757.43" width="11.84" height="11.88" fill="#fc4e2a"/>
<rect x="870.41" y="1757.43" width="11.84" height="11.88" fill="#feb24c"/>
<rect x="882.24" y="1757.43" width="35.51" height="11.88" fill="#fc4e2a"/>
<rect x="917.75" y="1757.43" width="11.84" height="11.88" fill="#feb24c"/>
<rect x="929.59" y="1757.43" width="11.84" height="11.88" fill="#e31a1c"/>
<rect x="941.43" y="1757.43" width="11.84" height="11.88" fill="#fd8d3c"/>
<rect x="621.84" y="1769.31" width="11.84" height="11.88" fill="#ffeda0"/>
<rect x="633.67" y="1769.31" width="11.84" height="11.88" fill="#fd8d3c"/>
<rect x="645.51" y="1769.31" width="11.84" height="11.88" fill="#fc4e2a"/>
<rect x="657.35" y="1769.31" width="11.84" height="11.88" fill="#feb24c"/>
<rect x="669.18" y="1769.31" width="23.67" height="11.88" fill="#fd8d3c"/>
<rect x="692.86" y="1769.31" width="11.84" height="11.88" fill="#fed976"/>
<rect x="704.69" y="1769.31" width="11.84" height="11.88" fill="#feb24c"/>
<rect x="716.53" y="1769.31" width="11.84" height="11.88" fill="#fc4e2a"/>
<rect x="728.37" y="1769.31" width="11.84" height="11.88" fill="#feb24c"/>
<rect x="740.2" y="1769.31" width="11.84" height="11.88" fill="#fed976"/>
<rect x="752.04" y="1769.31" width="23.67" height="11.88" fill="#e31a1c"/>
<rect x="775.71" y="1769.31" width="11.84" height="11.88" fill="#feb24c"/>
<rect x="787.55" y="1769.31" width="11.84" height="11.88" fill="#fed976"/>
<rect x="799.39" y="1769.31" width="11.84" height="11.88" fill="#fd8d3c"/>
<rect x="811.22" y="1769.31" width="11.84" height="11.88" fill="#fc4e2a"/>
<rect x="823.06" y="1769.31" width="11.84" height="11.88" fill="#e31a1c"/>
<rect x="834.9" y="1769.31" width="35.51" height="11.88" fill="#feb24c"/>
<rect x="870.41" y="1769.31" width="11.84" height="11.88" fill="#fc4e2a"/>
<rect x="882.24" y="1769.31" width="11.84" height="11.88" fill="#feb24c"/>
<rect x="894.08" y="1769.31" width="11.84" height="11.88" fill="#e31a1c"/>
<rect x="905.92" y="1769.31" width="11.84" height="11.88" fill="#fd8d3c"/>
<rect x="917.75" y="1769.31" width="11.84" height="11.88" fill="#fc4e2a"/>
<rect x="929.59" y="1769.31" width="11.84" height="11.88" fill="#feb24c"/>
<rect x="941.43" y="1769.31" width="11.84" height="11.88" fill="#ffeda0"/>
<rect x="621.84" y="1781.19" width="11.84" height="11.88" fill="#ffeda0"/>
<rect x="633.67" y="1781.19" width="23.67" height="11.88" fill="#feb24c"/>
<rect x="657.35" y="1781.19" width="11.84" height="11.88" fill="#e31a1c"/>
<rect x="669.18" y="1781.19" width="23.67" height="11.88" fill="#feb24c"/>
<rect x="692.86" y="1781.19" width="23.67" height="11.88" fill="#e31a1c"/>
<rect x="716.53" y="1781.19" width="23.67" height="11.88" fill="#feb24c"/>
<rect x="740.2" y="1781.19" width="11.84" height="11.88" fill="#e31a1c"/>
<rect x="752.04" y="1781.19" width="47.35" height="11.88" fill="#fd8d3c"/>
<rect x="799.39" y="1781.19" width="11.84" height="11.88" fill="#bd0026"/>
<rect x="811.22" y="1781.19" width="11.84" height="11.88" fill="#fed976"/>
<rect x="823.06" y="1781.19" width="11.84" height="11.88" fill="#fd8d3c"/>
<rect x="834.9" y="1781.19" width="11.84" height="11.88" fill="#e31a1c"/>
<rect x="846.73" y="1781.19" width="11.84" height="11.88" fill="#feb24c"/>
<rect x="858.57" y="1781.19" width="11.84" height="11.88" fill="#e31a1c"/>
<rect x="870.41" y="1781.19" width="11.84" height="11.88" fill="#fd8d3c"/>
<rect x="882.24" y="1781.19" width="11.84" height="11.88" fill="#fc4e2a"/>
<rect x="894.08" y="1781.19" width="35.51" height="11.88" fill="#fd8d3c"/>
<rect x="929.59" y="1781.19" width="11.84" height="11.88" fill="#fed976"/>
<rect x="941.43" y="1781.19" width="11.84" height="11.88" fill="#ffeda0"/>
<rect x="633.67" y="1793.06" width="11.84" height="11.88" fill="#fed976"/>
<rect x="645.51" y="1793.06" width="11.84" height="11.88" fill="#feb24c"/>
<rect x="657.35" y="1793.06" width="11.84" height="11.88" fill="#e31a1c"/>
<rect x="669.18" y="1793.06" width="23.67" height="11.88" fill="#fc4e2a"/>
<rect x="692.86" y="1793.06" width="11.84" height="11.88" fill="#fd8d3c"/>
<rect x="704.69" y="1793.06" width="11.84" height="11.88" fill="#fc4e2a"/>
<rect x="716.53" y="1793.06" width="11.84" height="11.88" fill="#fd8d3c"/>
<rect x="728.37" y="1793.06" width="11.84" height="11.88" fill="#bd0026"/>
<rect x="740.2" y="1793.06" width="23.67" height="11.88" fill="#fd8d3c"/>
<rect x="763.88" y="1793.06" width="11.84" height="11.88" fill="#fc4e2a"/>
<rect x="775.71" y="1793.06" width="11.84" height="11.88" fill="#e31a1c"/>
<rect x="787.55" y="1793.06" width="11.84" height="11.88" fill="#feb24c"/>
<rect x="799.39" y="1793.06" width="23.67" height="11.88" fill="#fd8d3c"/>
<rect x="823.06" y="1793.06" width="11.84" height="11.88" fill="#e31a1c"/>
<rect x="834.9" y="1793.06" width="23.67" height="11.88" fill="#feb24c"/>
<rect x="858.57" y="1793.06" width="23.67" height="11.88" fill="#fc4e2a"/>
<rect x="882.24" y="1793.06" width="11.84" height="11.88" fill="#fed976"/>
<rect x="894.08" y="1793.06" width="11.84" height="11.88" fill="#feb24c"/>
<rect x="905.92" y="1793.06" width="11.84" height="11.88" fill="#e31a1c"/>
<rect x="917.75" y="1793.06" width="11.84" height="11.88" fill="#bd0026"/>
<rect x="929.59" y="1793.06" width="11.84" height="11.88" fill="#fed976"/>
<rect x="645.51" y="1804.94" width="11.84" height="11.88" fill="#ffeda0"/>
<rect x="657.35" y="1804.94" width="11.84" height="11.88" fill="#fc4e2a"/>
<rect x="669.18" y="1804.94" width="11.84" height="11.88" fill="#bd0026"/>
<rect x="681.02" y="1804.94" width="11.84" height="11.88" fill="#feb24c"/>
<rect x="692.86" y="1804.94" width="11.84" height="11.88" fill="#fd8d3c"/>
<rect x="704.69" y="1804.94" width="11.84" height="11.88" fill="#e31a1c"/>
<rect x="716.53" y="1804.94" width="11.84" height="11.88" fill="#fd8d3c"/>
<rect x="728.37" y="1804.94" width="11.84" height="11.88" fill="#feb24c"/>
<rect x="740.2" y="1804.94" width="11.84" height="11.88" fill="#fd8d3c"/>
<rect x="752.04" y="1804.94" width="11.84" height="11.88" fill="#feb24c"/>
<rect x="763.88" y="1804.94" width="11.84" height="11.88" fill="#bd0026"/>
<rect x="775.71" y="1804.94" width="11.84" height="11.88" fill="#fd8d3c"/>
<rect x="787.55" y="1804.94" width="11.84" height="11.88" fill="#feb24c"/>
<rect x="799.39" y="1804.94" width="11.84" height="11.88" fill="#fd8d3c"/>
<rect x="811.22" y="1804.94" width="23.67" height="11.88" fill="#fc4e2a"/>
<rect x="834.9" y="1804.94" width="11.84" height="11.88" fill="#fed976"/>
<rect x="846.73" y="1804.94" width="11.84" height="11.88" fill="#e31a1c"/>
<rect x="858.57" y="1804.94" width="11.84" height="11.88" fill="#bd0026"/>
<rect x="870.41" y="1804.94" width="23.67" height="11.88" fill="#feb24c"/>
<rect x="894.08" y="1804.94" width="11.84" height="11.88" fill="#fd8d3c"/>
<rect x="905.92" y="1804.94" width="11.84" height="11.88" fill="#fc4e2a"/>
<rect x="917.75" y="1804.94" width="11.84" height="11.88" fill="#feb24c"/>
<rect x="929.59" y="1804.94" width="11.84" height="11.88" fill="#ffeda0"/>
<rect x="657.35" y="1816.82" width="11.84" height="11.88" fill="#fd8d3c"/>
<rect x="669.18" y="1816.82" width="11.84" height="11.88" fill="#feb24c"/>
<rect x="681.02" y="1816.82" width="23.67" height="11.88" fill="#fd8d3c"/>
<rect x="704.69" y="1816.82" width="11.84" height="11.88" fill="#e31a1c"/>
<rect x="716.53" y="1816.82" width="11.84" height="11.88" fill="#fd8d3c"/>
<rect x="728.37" y="1816.82" width="11.84" height="11.88" fill="#feb24c"/>
<rect x="740.2" y="1816.82" width="11.84" height="11.88" fill="#e31a1c"/>
<rect x="752.04" y="1816.82" width="11.84" height="11.88" fill="#fd8d3c"/>
<rect x="763.88" y="1816.82" width="11.84" height="11.88" fill="#fc4e2a"/>
<rect x="775.71" y="1816.82" width="11.84" height="11.88" fill="#fed976"/>
<rect x="787.55" y="1816.82" width="11.84" height="11.88" fill="#e31a1c"/>
<rect x="799.39" y="1816.82" width="11.84" height="11.88" fill="#fc4e2a"/>
<rect x="811.22" y="1816.82" width="11.84" height="11.88" fill="#e31a1c"/>
<rect x="823.06" y="1816.82" width="11.84" height="11.88" fill="#feb24c"/>
<rect x="834.9" y="1816.82" width="11.84" height="11.88" fill="#e31a1c"/>
<rect x="846.73" y="1816.82" width="11.84" height="11.88" fill="#fd8d3c"/>
<rect x="858.57" y="1816.82" width="11.84" height="11.88" fill="#feb24c"/>
<rect x="870.41" y="1816.82" width="11.84" height="11.88" fill="#e31a1c"/>
<rect x="882.24" y="1816.82" width="11.84" height="11.88" fill="#fc4e2a"/>
<rect x="894.08" y="1816.82" width="11.84" height="11.88" fill="#feb24c"/>
<rect x="905.92" y="1816.82" width="11.84" height="11.88" fill="#fc4e2a"/>
<rect x="669.18" y="1828.69" width="11.84" height="11.88" fill="#fed976"/>
<rect x="681.02" y="1828.69" width="23.67" height="11.88" fill="#fc4e2a"/>
<rect x="704.69" y="1828.69" width="11.84" height="11.88" fill="#fed976"/>
<rect x="716.53" y="1828.69" width="11.84" height="11.88" fill="#e31a1c"/>
<rect x="728.37" y="1828.69" width="35.51" height="11.88" fill="#fd8d3c"/>
<rect x="763.88" y="1828.69" width="11.84" height="11.88" fill="#fc4e2a"/>
<rect x="775.71" y="1828.69" width="23.67" height="11.88" fill="#fd8d3c"/>
<rect x="799.39" y="1828.69" width="11.84" height="11.88" fill="#fc4e2a"/>
<rect x="811.22" y="1828.69" width="11.84" height="11.88" fill="#feb24c"/>
<rect x="823.06" y="1828.69" width="11.84" height="11.88" fill="#fd8d3c"/>
<rect x="834.9" y="1828.69" width="23.67" height="11.88" fill="#feb24c"/>
<rect x="858.57" y="1828.69" width="11.84" height="11.88" fill="#fed976"/>
<rect x="870.41" y="1828.69" width="11.84" height="11.88" fill="#fc4e2a"/>
<rect x="882.24" y="1828.69" width="11.84" height="11.88" fill="#e31a1c"/>
<rect x="894.08" y="1828.69" width="11.84" height="11.88" fill="#fed976"/>
<rect x="905.92" y="1828.69" width="11.84" height="11.88" fill="#ffeda0"/>
<rect x="681.02" y="1840.57" width="11.84" height="11.88" fill="#fed976"/>
<rect x="692.86" y="1840.57" width="23.67" height="11.88" fill="#fd8d3c"/>
<rect x="716.53" y="1840.57" width="11.84" height="11.88" fill="#fed976"/>
<rect x="728.37" y="1840.57" width="23.67" height="11.88" fill="#fc4e2a"/>
<rect x="752.04" y="1840.57" width="11.84" height="11.88" fill="#fed976"/>
<rect x="763.88" y="1840.57" width="11.84" height="11.88" fill="#fd8d3c"/>
<rect x="775.71" y="1840.57" width="23.67" height="11.88" fill="#feb24c"/>
<rect x="799.39" y="1840.57" width="11.84" height="11.88" fill="#fd8d3c"/>
<rect x="811.22" y="1840.57" width="23.67" height="11.88" fill="#fc4e2a"/>
<rect x="834.9" y="1840.57" width="11.84" height="11.88" fill="#e31a1c"/>
<rect x="846.73" y="1840.57" width="11.84" height="11.88" fill="#feb24c"/>
<rect x="858.57" y="1840.57" width="11.84" height="11.88" fill="#800026"/>
<rect x="870.41" y="1840.57" width="11.84" height="11.88" fill="#fd8d3c"/>
<rect x="882.24" y="1840.57" width="11.84" height="11.88" fill="#ffeda0"/>
<rect x="692.86" y="1852.45" width="11.84" height="11.88" fill="#ffeda0"/>
<rect x="704.69" y="1852.45" width="11.84" height="11.88" fill="#fd8d3c"/>
<rect x="716.53" y="1852.45" width="11.84" height="11.88" fill="#e31a1c"/>
<rect x="728.37" y="1852.45" width="11.84" height="11.88" fill="#fd8d3c"/>
<rect x="740.2" y="1852.45" width="11.84" height="11.88" fill="#feb24c"/>
<rect x="752.04" y="1852.45" width="11.84" height="11.88" fill="#fc4e2a"/>
<rect x="763.88" y="1852.45" width="11.84" height="11.88" fill="#e31a1c"/>
<rect x="775.71" y="1852.45" width="11.84" height="11.88" fill="#bd0026"/>
<rect x="787.55" y="1852.45" width="11.84" height="11.88" fill="#e31a1c"/>
<rect x="799.39" y="1852.45" width="11.84" height="11.88" fill="#feb24c"/>
<rect x="811.22" y="1852.45" width="11.84" height="11.88" fill="#fc4e2a"/>
<rect x="823.06" y="1852.45" width="11.84" height="11.88" fill="#fd8d3c"/>
<rect x="834.9" y="1852.45" width="11.84" height="11.88" fill="#fc4e2a"/>
<rect x="846.73" y="1852.45" width="11.84" height="11.88" fill="#ffeda0"/>
<rect x="858.57" y="1852.45" width="11.84" height="11.88" fill="#fd8d3c"/>
<rect x="716.53" y="1864.32" width="11.84" height="11.88" fill="#ffeda0"/>
<rect x="740.2" y="1864.32" width="11.84" height="11.88" fill="#fd8d3c"/>
<rect x="752.04" y="1864.32" width="11.84" height="11.88" fill="#e31a1c"/>
<rect x="763.88" y="1864.32" width="11.84" height="11.88" fill="#fed976"/>
<rect x="775.71" y="1864.32" width="23.67" height="11.88" fill="#feb24c"/>
<rect x="799.39" y="1864.32" width="23.67" height="11.88" fill="#fc4e2a"/>
<rect x="823.06" y="1864.32" width="11.84" height="11.88" fill="#feb24c"/>
<rect x="846.73" y="1864.32" width="11.84" height="11.88" fill="#ffeda0"/>
</g>
<rect x="610" y="1519.9" width="355.1" height="356.3" fill="none" stroke="#000" stroke-width="4.86"/>
<line x1="631.1" x2="631.1" y1="1878.63" y2="1882.53" stroke="#000" stroke-width="1.4"/>
<text x="631.1" y="1902" font-size="17.0" text-anchor="middle">−40</text>
<line x1="709.7" x2="709.7" y1="1878.63" y2="1882.53" stroke="#000" stroke-width="1.4"/>
<text x="709.7" y="1902" font-size="17.0" text-anchor="middle">−20</text>
<line x1="788.3" x2="788.3" y1="1878.63" y2="1882.53" stroke="#000" stroke-width="1.4"/>
<text x="788.3" y="1902" font-size="17.0" text-anchor="middle">0</text>
<line x1="866.9" x2="866.9" y1="1878.63" y2="1882.53" stroke="#000" stroke-width="1.4"/>
<text x="866.9" y="1902" font-size="17.0" text-anchor="middle">20</text>
<line x1="945.5" x2="945.5" y1="1878.63" y2="1882.53" stroke="#000" stroke-width="1.4"/>
<text x="945.5" y="1902" font-size="17.0" text-anchor="middle">40</text>
<line x1="603.67" x2="607.57" y1="1541.9" y2="1541.9" stroke="#000" stroke-width="1.4"/>
<text x="597.8" y="1548.1" font-size="17.0" text-anchor="end">40</text>
<line x1="603.67" x2="607.57" y1="1620.8" y2="1620.8" stroke="#000" stroke-width="1.4"/>
<text x="597.8" y="1627" font-size="17.0" text-anchor="end">20</text>
<line x1="603.67" x2="607.57" y1="1699.7" y2="1699.7" stroke="#000" stroke-width="1.4"/>
<text x="597.8" y="1705.9" font-size="17.0" text-anchor="end">0</text>
<line x1="603.67" x2="607.57" y1="1778.6" y2="1778.6" stroke="#000" stroke-width="1.4"/>
<text x="597.8" y="1784.8" font-size="17.0" text-anchor="end">−20</text>
<line x1="603.67" x2="607.57" y1="1857.5" y2="1857.5" stroke="#000" stroke-width="1.4"/>
<text x="597.8" y="1863.7" font-size="17.0" text-anchor="end">−40</text>
<text x="787.95" y="1509.9" font-size="22.2" letter-spacing="0.28" text-anchor="middle">b=N, No. of matrices=3</text>
<text x="788.35" y="1929.9" font-size="22.2" letter-spacing="0.5" text-anchor="middle">Re z</text>
<rect x="987.2" y="1460.5" width="23.8" height="475.4" fill="url(#g)" stroke="#000" stroke-width="4.86"/>
<line x1="1013.43" x2="1017.33" y1="1935.9" y2="1935.9" stroke="#000" stroke-width="1.4"/>
<text x="1023.3" y="1942.5" font-size="17.0">0.0</text>
<line x1="1013.43" x2="1017.33" y1="1846.76" y2="1846.76" stroke="#000" stroke-width="1.4"/>
<text x="1023.3" y="1853.36" font-size="17.0">0.5</text>
<line x1="1013.43" x2="1017.33" y1="1757.62" y2="1757.62" stroke="#000" stroke-width="1.4"/>
<text x="1023.3" y="1764.22" font-size="17.0">1.0</text>
<line x1="1013.43" x2="1017.33" y1="1668.49" y2="1668.49" stroke="#000" stroke-width="1.4"/>
<text x="1023.3" y="1675.09" font-size="17.0">1.5</text>
<line x1="1013.43" x2="1017.33" y1="1579.35" y2="1579.35" stroke="#000" stroke-width="1.4"/>
<text x="1023.3" y="1585.95" font-size="17.0">2.0</text>
<line x1="1013.43" x2="1017.33" y1="1490.21" y2="1490.21" stroke="#000" stroke-width="1.4"/>
<text x="1023.3" y="1496.81" font-size="17.0">2.5</text>
</svg>
</body></html>
